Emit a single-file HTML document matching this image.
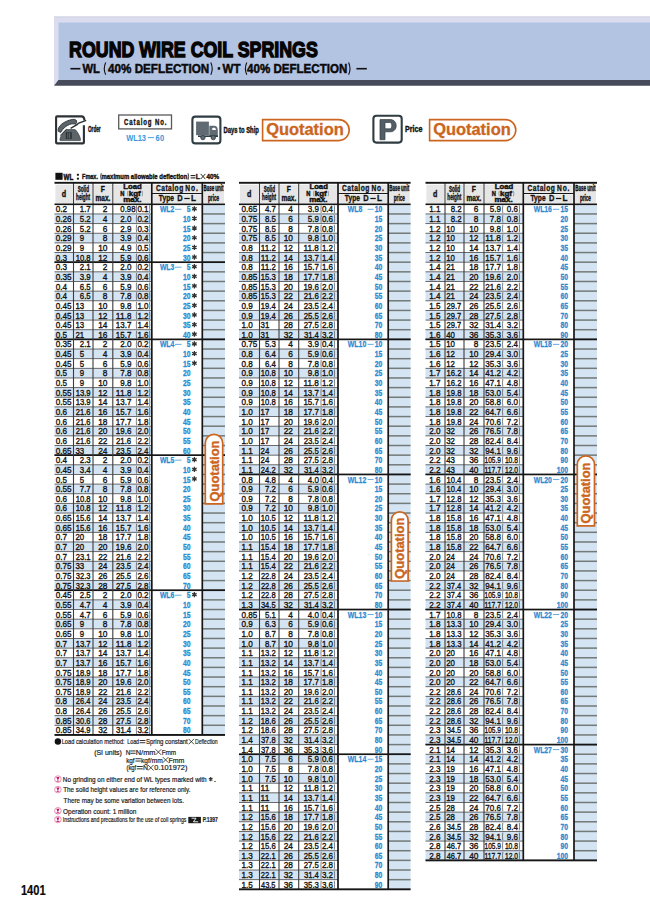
<!DOCTYPE html>
<html><head><meta charset="utf-8"><title>Round Wire Coil Springs</title>
<style>
html,body{margin:0;padding:0;background:#fff;}
body{width:650px;height:918px;overflow:hidden;position:relative;font-family:"Liberation Sans",sans-serif;}
svg{position:absolute;left:0;top:0;display:block;}
text{font-family:"Liberation Sans",sans-serif;}
</style></head><body>
<svg width="650" height="918" viewBox="0 0 650 918" font-family="Liberation Sans, sans-serif">
<polygon points="54,16.5 650,16.5 650,22.3 58.3,22.3 58.3,80 54,85.8" fill="#dcdcef"/>
<rect x="54.00" y="16.50" width="596.00" height="0.90" fill="#cdd1e0"/>
<rect x="58.30" y="22.30" width="591.70" height="57.70" fill="#b3c3e2"/>
<polygon points="58.3,80 650,80 650,85.8 54,85.8" fill="#464a5b"/>
<text x="69.11" y="57.40" font-size="22.00" font-weight="bold" fill="#050505" stroke="#050505" stroke-width="1.40" transform="matrix(0.8087 0 0 1 13.221 0)">ROUND WIRE COIL SPRINGS</text>
<rect x="70.40" y="67.90" width="10.00" height="1.60" fill="#111"/>
<text x="82.39" y="73.40" font-size="13.40" font-weight="bold" fill="#0a0a0a" stroke="#0a0a0a" stroke-width="0.50" transform="matrix(0.8330 0 0 1 13.757 0)">WL</text>
<text x="108.02" y="73.40" font-size="13.40" font-weight="bold" fill="#0a0a0a" stroke="#0a0a0a" stroke-width="0.50" transform="matrix(0.8727 0 0 1 13.751 0)">40% DEFLECTION</text>
<rect x="217.70" y="67.20" width="2.50" height="2.50" fill="#0a0a0a"/>
<text x="222.59" y="73.40" font-size="13.40" font-weight="bold" fill="#0a0a0a" stroke="#0a0a0a" stroke-width="0.50" transform="matrix(0.8609 0 0 1 30.960 0)">WT</text>
<text x="247.02" y="73.40" font-size="13.40" font-weight="bold" fill="#0a0a0a" stroke="#0a0a0a" stroke-width="0.50" transform="matrix(0.8640 0 0 1 33.593 0)">40% DEFLECTION</text>
<rect x="356.40" y="67.90" width="10.40" height="1.60" fill="#111"/>
<path d="M105.70,62.6 Q102.90,68.7 105.70,74.8" stroke="#111" stroke-width="1.1" fill="none"/>
<path d="M210.80,62.6 Q213.60,68.7 210.80,74.8" stroke="#111" stroke-width="1.1" fill="none"/>
<path d="M246.80,62.6 Q244.00,68.7 246.80,74.8" stroke="#111" stroke-width="1.1" fill="none"/>
<path d="M348.60,62.6 Q351.40,68.7 348.60,74.8" stroke="#111" stroke-width="1.1" fill="none"/>
<path d="M84.4,120.6 Q84.4,116.4 81.4,116.4 H57.1 Q56.1,116.4 56.1,117.4 V142.4 Q56.1,143.4 57.1,143.4 H82.9 Q83.9,143.4 83.9,142.4 V125.2" fill="none" stroke="#2b3134" stroke-width="2.1"/>
<path d="M58.2,131.2 C57.2,126.5 63.5,121.2 72.5,119.4 C75.2,119 77.2,120.3 76.6,122.2 L75.6,124.3 C73,122.8 66.5,124.5 62.6,129.6 L60.6,132.4 Z" fill="#5d656b" stroke="#2b3134" stroke-width="0.9"/>
<path d="M60,140.6 H80.4 V138.6 C79.3,134.6 77,131.4 75.2,129.6 H66.2 C63.4,132 61.2,135 60,138.6 Z" fill="#5d656b" stroke="#2b3134" stroke-width="0.6"/>
<path d="M60.2,135.5 L66.5,129.3" stroke="#2b3134" stroke-width="1"/>
<rect x="65.80" y="132.10" width="6.00" height="6.80" fill="#2b3134"/>
<rect x="67.60" y="132.60" width="0.60" height="5.80" fill="#8a9298"/>
<rect x="69.50" y="132.60" width="0.60" height="5.80" fill="#8a9298"/>
<path d="M86.2,120.3 L78.2,123.4 L77.4,124.4 L70.6,128.4" stroke="#2b3134" stroke-width="1.3" fill="none"/>
<text x="88.01" y="132.40" font-size="8.40" font-weight="bold" fill="#111" stroke="#111" stroke-width="0.40" transform="matrix(0.5535 0 0 1 39.296 0)">Order</text>
<rect x="118.7" y="115.0" width="52.8" height="13.9" fill="#fff" stroke="#5a5a5a" stroke-width="1.3"/>
<text x="123.95" y="124.60" font-size="8.40" font-weight="bold" fill="#111" stroke="#111" stroke-width="0.35" transform="matrix(0.7200 0 0 1 34.707 0)" letter-spacing="1.259">Catalog No.</text>
<text x="126.19" y="140.60" font-size="8.80" font-weight="bold" fill="#3797dc" transform="matrix(0.8500 0 0 1 18.929 0)" letter-spacing="-0.028">WL13</text>
<rect x="147.80" y="137.20" width="6.20" height="0.90" fill="#3797dc"/>
<text x="155.53" y="140.60" font-size="8.80" font-weight="bold" fill="#3797dc" transform="matrix(0.8500 0 0 1 23.329 0)" letter-spacing="0.307">60</text>
<rect x="192.4" y="116.6" width="28.0" height="26.8" rx="3" fill="#fff" stroke="#2f3d42" stroke-width="2.1"/>
<g fill="#5f6a72"><rect x="196.1" y="121.6" width="12.8" height="13.6"/><path d="M209.3,125.8 H214.8 Q217.6,126.2 217.8,130 V136 H209.3 Z"/></g>
<path d="M212.2,130 V128.6 Q212.3,127.7 213.5,127.7 H214.6 Q215.8,127.9 216,130 Z" fill="#fff"/>
<rect x="198" y="135.4" width="20" height="1.6" fill="#2f3d42"/>
<circle cx="202.9" cy="137.6" r="2.2" fill="#5f6a72" stroke="#2f3d42" stroke-width="0.8"/>
<circle cx="213.3" cy="137.6" r="2.2" fill="#5f6a72" stroke="#2f3d42" stroke-width="0.8"/>
<text x="223.51" y="133.40" font-size="8.40" font-weight="bold" fill="#111" stroke="#111" stroke-width="0.40" transform="matrix(0.6964 0 0 1 67.851 0)">Days to Ship</text>
<path d="M262.60,119.60 H338.70 A10.50,10.50 0 0 1 338.70,140.60 H262.60 Z" fill="#fff" stroke="#cb6520" stroke-width="1.6"/>
<text x="266.13" y="135.50" font-size="16.40" font-weight="bold" fill="#cb6520" stroke="#cb6520" stroke-width="0.30" transform="matrix(1.0035 0 0 1 -0.921 0)">Quotation</text>
<rect x="373.4" y="115.8" width="28.3" height="26.8" rx="3" fill="#fff" stroke="#2f3d42" stroke-width="2.1"/>
<path fill-rule="evenodd" d="M380,119.6 H390.2 C394,119.6 396.2,122.3 396.2,125.7 C396.2,129.2 393.8,131.8 390.2,131.8 H385 V139.7 H380 Z M385,122.5 V128.8 H389.6 C391.1,128.8 391.8,127.4 391.8,125.7 C391.8,123.9 391.1,122.5 389.6,122.5 Z" fill="#545e66" stroke="#2f3d42" stroke-width="0.7"/>
<text x="405.13" y="131.60" font-size="8.40" font-weight="bold" fill="#111" stroke="#111" stroke-width="0.40" transform="matrix(0.8426 0 0 1 63.747 0)">Price</text>
<path d="M429.60,119.60 H505.30 A10.50,10.50 0 0 1 505.30,140.60 H429.60 Z" fill="#fff" stroke="#cb6520" stroke-width="1.6"/>
<text x="433.13" y="135.50" font-size="16.40" font-weight="bold" fill="#cb6520" stroke="#cb6520" stroke-width="0.30" transform="matrix(1.0035 0 0 1 -1.499 0)">Quotation</text>
<rect x="55.40" y="172.80" width="7.20" height="7.00" fill="#111"/>
<text x="63.59" y="179.60" font-size="9.80" font-weight="bold" fill="#111" stroke="#111" stroke-width="0.60" transform="matrix(0.6432 0 0 1 22.689 0)">WL</text>
<rect x="76.90" y="173.80" width="2.00" height="1.90" fill="#111"/>
<rect x="76.90" y="177.70" width="2.00" height="1.90" fill="#111"/>
<text x="82.03" y="179.40" font-size="7.60" font-weight="bold" fill="#111" stroke="#111" stroke-width="0.40" transform="matrix(0.7261 0 0 1 22.467 0)">Fmax.</text>
<path d="M101.3,173.2 q-1.3,3.2 0,6.6 M188.0,173.2 q1.3,3.2 0,6.6" stroke="#111" stroke-width="0.8" fill="none"/>
<text x="101.51" y="179.40" font-size="7.60" font-weight="bold" fill="#111" stroke="#111" stroke-width="0.40" transform="matrix(0.7828 0 0 1 22.043 0)">maximum allowable deflection</text>
<rect x="190.60" y="175.10" width="4.80" height="1.00" fill="#111"/>
<rect x="190.60" y="177.40" width="4.80" height="1.00" fill="#111"/>
<text x="195.64" y="179.40" font-size="7.60" font-weight="bold" fill="#111" stroke="#111" stroke-width="0.40" transform="matrix(0.8974 0 0 1 20.075 0)">L</text>
<path d="M200.6,173.9 L205.4,179.1 M200.6,179.1 L205.4,173.9" stroke="#111" stroke-width="0.9"/>
<text x="206.40" y="179.40" font-size="7.60" font-weight="bold" fill="#111" stroke="#111" stroke-width="0.40" transform="matrix(0.8392 0 0 1 33.196 0)">40%</text>
<rect x="55.40" y="184.70" width="17.20" height="18.70" fill="#e6e6e6"/>
<rect x="74.40" y="184.70" width="17.70" height="18.70" fill="#e6e6e6"/>
<rect x="93.90" y="184.70" width="18.00" height="18.70" fill="#e6e6e6"/>
<rect x="113.70" y="184.70" width="37.20" height="18.70" fill="#e6e6e6"/>
<rect x="203.20" y="184.70" width="20.90" height="18.70" fill="#e6e6e6"/>
<rect x="153.00" y="184.70" width="48.10" height="8.10" fill="#e6e6e6"/>
<rect x="153.00" y="194.40" width="48.10" height="8.90" fill="#e6e6e6"/>
<rect x="202.30" y="204.30" width="22.70" height="9.65" fill="#d4e4f3"/>
<rect x="54.50" y="213.95" width="97.30" height="9.65" fill="#d4e4f3"/>
<rect x="202.30" y="213.95" width="22.70" height="9.65" fill="#d4e4f3"/>
<rect x="202.30" y="223.60" width="22.70" height="9.65" fill="#d4e4f3"/>
<rect x="54.50" y="233.24" width="97.30" height="9.65" fill="#d4e4f3"/>
<rect x="202.30" y="233.24" width="22.70" height="9.65" fill="#d4e4f3"/>
<rect x="202.30" y="242.89" width="22.70" height="9.65" fill="#d4e4f3"/>
<rect x="54.50" y="252.54" width="97.30" height="9.65" fill="#d4e4f3"/>
<rect x="202.30" y="252.54" width="22.70" height="9.65" fill="#d4e4f3"/>
<rect x="202.30" y="262.19" width="22.70" height="9.65" fill="#d4e4f3"/>
<rect x="54.50" y="271.84" width="97.30" height="9.65" fill="#d4e4f3"/>
<rect x="202.30" y="271.84" width="22.70" height="9.65" fill="#d4e4f3"/>
<rect x="202.30" y="281.48" width="22.70" height="9.65" fill="#d4e4f3"/>
<rect x="54.50" y="291.13" width="97.30" height="9.65" fill="#d4e4f3"/>
<rect x="202.30" y="291.13" width="22.70" height="9.65" fill="#d4e4f3"/>
<rect x="202.30" y="300.78" width="22.70" height="9.65" fill="#d4e4f3"/>
<rect x="54.50" y="310.43" width="97.30" height="9.65" fill="#d4e4f3"/>
<rect x="202.30" y="310.43" width="22.70" height="9.65" fill="#d4e4f3"/>
<rect x="202.30" y="320.08" width="22.70" height="9.65" fill="#d4e4f3"/>
<rect x="54.50" y="329.72" width="97.30" height="9.65" fill="#d4e4f3"/>
<rect x="202.30" y="329.72" width="22.70" height="9.65" fill="#d4e4f3"/>
<rect x="202.30" y="339.37" width="22.70" height="9.65" fill="#d4e4f3"/>
<rect x="54.50" y="349.02" width="97.30" height="9.65" fill="#d4e4f3"/>
<rect x="202.30" y="349.02" width="22.70" height="9.65" fill="#d4e4f3"/>
<rect x="202.30" y="358.67" width="22.70" height="9.65" fill="#d4e4f3"/>
<rect x="54.50" y="368.32" width="97.30" height="9.65" fill="#d4e4f3"/>
<rect x="202.30" y="368.32" width="22.70" height="9.65" fill="#d4e4f3"/>
<rect x="202.30" y="377.96" width="22.70" height="9.65" fill="#d4e4f3"/>
<rect x="54.50" y="387.61" width="97.30" height="9.65" fill="#d4e4f3"/>
<rect x="202.30" y="387.61" width="22.70" height="9.65" fill="#d4e4f3"/>
<rect x="202.30" y="397.26" width="22.70" height="9.65" fill="#d4e4f3"/>
<rect x="54.50" y="406.91" width="97.30" height="9.65" fill="#d4e4f3"/>
<rect x="202.30" y="406.91" width="22.70" height="9.65" fill="#d4e4f3"/>
<rect x="202.30" y="416.56" width="22.70" height="9.65" fill="#d4e4f3"/>
<rect x="54.50" y="426.20" width="97.30" height="9.65" fill="#d4e4f3"/>
<rect x="202.30" y="426.20" width="22.70" height="9.65" fill="#d4e4f3"/>
<rect x="202.30" y="435.85" width="22.70" height="9.65" fill="#d4e4f3"/>
<rect x="54.50" y="445.50" width="97.30" height="9.65" fill="#d4e4f3"/>
<rect x="202.30" y="445.50" width="22.70" height="9.65" fill="#d4e4f3"/>
<rect x="202.30" y="455.15" width="22.70" height="9.65" fill="#d4e4f3"/>
<rect x="54.50" y="464.80" width="97.30" height="9.65" fill="#d4e4f3"/>
<rect x="202.30" y="464.80" width="22.70" height="9.65" fill="#d4e4f3"/>
<rect x="202.30" y="474.44" width="22.70" height="9.65" fill="#d4e4f3"/>
<rect x="54.50" y="484.09" width="97.30" height="9.65" fill="#d4e4f3"/>
<rect x="202.30" y="484.09" width="22.70" height="9.65" fill="#d4e4f3"/>
<rect x="202.30" y="493.74" width="22.70" height="9.65" fill="#d4e4f3"/>
<rect x="54.50" y="503.39" width="97.30" height="9.65" fill="#d4e4f3"/>
<rect x="202.30" y="503.39" width="22.70" height="9.65" fill="#d4e4f3"/>
<rect x="202.30" y="513.04" width="22.70" height="9.65" fill="#d4e4f3"/>
<rect x="54.50" y="522.68" width="97.30" height="9.65" fill="#d4e4f3"/>
<rect x="202.30" y="522.68" width="22.70" height="9.65" fill="#d4e4f3"/>
<rect x="202.30" y="532.33" width="22.70" height="9.65" fill="#d4e4f3"/>
<rect x="54.50" y="541.98" width="97.30" height="9.65" fill="#d4e4f3"/>
<rect x="202.30" y="541.98" width="22.70" height="9.65" fill="#d4e4f3"/>
<rect x="202.30" y="551.63" width="22.70" height="9.65" fill="#d4e4f3"/>
<rect x="54.50" y="561.28" width="97.30" height="9.65" fill="#d4e4f3"/>
<rect x="202.30" y="561.28" width="22.70" height="9.65" fill="#d4e4f3"/>
<rect x="202.30" y="570.92" width="22.70" height="9.65" fill="#d4e4f3"/>
<rect x="54.50" y="580.57" width="97.30" height="9.65" fill="#d4e4f3"/>
<rect x="202.30" y="580.57" width="22.70" height="9.65" fill="#d4e4f3"/>
<rect x="202.30" y="590.22" width="22.70" height="9.65" fill="#d4e4f3"/>
<rect x="54.50" y="599.87" width="97.30" height="9.65" fill="#d4e4f3"/>
<rect x="202.30" y="599.87" width="22.70" height="9.65" fill="#d4e4f3"/>
<rect x="202.30" y="609.52" width="22.70" height="9.65" fill="#d4e4f3"/>
<rect x="54.50" y="619.16" width="97.30" height="9.65" fill="#d4e4f3"/>
<rect x="202.30" y="619.16" width="22.70" height="9.65" fill="#d4e4f3"/>
<rect x="202.30" y="628.81" width="22.70" height="9.65" fill="#d4e4f3"/>
<rect x="54.50" y="638.46" width="97.30" height="9.65" fill="#d4e4f3"/>
<rect x="202.30" y="638.46" width="22.70" height="9.65" fill="#d4e4f3"/>
<rect x="202.30" y="648.11" width="22.70" height="9.65" fill="#d4e4f3"/>
<rect x="54.50" y="657.76" width="97.30" height="9.65" fill="#d4e4f3"/>
<rect x="202.30" y="657.76" width="22.70" height="9.65" fill="#d4e4f3"/>
<rect x="202.30" y="667.40" width="22.70" height="9.65" fill="#d4e4f3"/>
<rect x="54.50" y="677.05" width="97.30" height="9.65" fill="#d4e4f3"/>
<rect x="202.30" y="677.05" width="22.70" height="9.65" fill="#d4e4f3"/>
<rect x="202.30" y="686.70" width="22.70" height="9.65" fill="#d4e4f3"/>
<rect x="54.50" y="696.35" width="97.30" height="9.65" fill="#d4e4f3"/>
<rect x="202.30" y="696.35" width="22.70" height="9.65" fill="#d4e4f3"/>
<rect x="202.30" y="706.00" width="22.70" height="9.65" fill="#d4e4f3"/>
<rect x="54.50" y="715.64" width="97.30" height="9.65" fill="#d4e4f3"/>
<rect x="202.30" y="715.64" width="22.70" height="9.65" fill="#d4e4f3"/>
<rect x="202.30" y="725.29" width="22.70" height="9.65" fill="#d4e4f3"/>
<rect x="54.50" y="213.50" width="97.30" height="0.90" fill="#5a5a5a"/>
<rect x="202.30" y="213.20" width="22.70" height="1.50" fill="#737a77"/>
<rect x="54.50" y="223.15" width="97.30" height="0.90" fill="#5a5a5a"/>
<rect x="202.30" y="222.85" width="22.70" height="1.50" fill="#737a77"/>
<rect x="54.50" y="232.79" width="97.30" height="0.90" fill="#5a5a5a"/>
<rect x="202.30" y="232.49" width="22.70" height="1.50" fill="#737a77"/>
<rect x="54.50" y="242.44" width="97.30" height="0.90" fill="#5a5a5a"/>
<rect x="202.30" y="242.14" width="22.70" height="1.50" fill="#737a77"/>
<rect x="54.50" y="252.09" width="97.30" height="0.90" fill="#5a5a5a"/>
<rect x="202.30" y="251.79" width="22.70" height="1.50" fill="#737a77"/>
<rect x="54.50" y="261.74" width="97.30" height="0.90" fill="#5a5a5a"/>
<rect x="202.30" y="261.44" width="22.70" height="1.50" fill="#737a77"/>
<rect x="54.50" y="271.39" width="97.30" height="0.90" fill="#5a5a5a"/>
<rect x="202.30" y="271.09" width="22.70" height="1.50" fill="#737a77"/>
<rect x="54.50" y="281.03" width="97.30" height="0.90" fill="#5a5a5a"/>
<rect x="202.30" y="280.73" width="22.70" height="1.50" fill="#737a77"/>
<rect x="54.50" y="290.68" width="97.30" height="0.90" fill="#5a5a5a"/>
<rect x="202.30" y="290.38" width="22.70" height="1.50" fill="#737a77"/>
<rect x="54.50" y="300.33" width="97.30" height="0.90" fill="#5a5a5a"/>
<rect x="202.30" y="300.03" width="22.70" height="1.50" fill="#737a77"/>
<rect x="54.50" y="309.98" width="97.30" height="0.90" fill="#5a5a5a"/>
<rect x="202.30" y="309.68" width="22.70" height="1.50" fill="#737a77"/>
<rect x="54.50" y="319.63" width="97.30" height="0.90" fill="#5a5a5a"/>
<rect x="202.30" y="319.33" width="22.70" height="1.50" fill="#737a77"/>
<rect x="54.50" y="329.27" width="97.30" height="0.90" fill="#5a5a5a"/>
<rect x="202.30" y="328.97" width="22.70" height="1.50" fill="#737a77"/>
<rect x="54.50" y="338.92" width="97.30" height="0.90" fill="#5a5a5a"/>
<rect x="202.30" y="338.62" width="22.70" height="1.50" fill="#737a77"/>
<rect x="54.50" y="348.57" width="97.30" height="0.90" fill="#5a5a5a"/>
<rect x="202.30" y="348.27" width="22.70" height="1.50" fill="#737a77"/>
<rect x="54.50" y="358.22" width="97.30" height="0.90" fill="#5a5a5a"/>
<rect x="202.30" y="357.92" width="22.70" height="1.50" fill="#737a77"/>
<rect x="54.50" y="367.87" width="97.30" height="0.90" fill="#5a5a5a"/>
<rect x="202.30" y="367.57" width="22.70" height="1.50" fill="#737a77"/>
<rect x="54.50" y="377.51" width="97.30" height="0.90" fill="#5a5a5a"/>
<rect x="202.30" y="377.21" width="22.70" height="1.50" fill="#737a77"/>
<rect x="54.50" y="387.16" width="97.30" height="0.90" fill="#5a5a5a"/>
<rect x="202.30" y="386.86" width="22.70" height="1.50" fill="#737a77"/>
<rect x="54.50" y="396.81" width="97.30" height="0.90" fill="#5a5a5a"/>
<rect x="202.30" y="396.51" width="22.70" height="1.50" fill="#737a77"/>
<rect x="54.50" y="406.46" width="97.30" height="0.90" fill="#5a5a5a"/>
<rect x="202.30" y="406.16" width="22.70" height="1.50" fill="#737a77"/>
<rect x="54.50" y="416.11" width="97.30" height="0.90" fill="#5a5a5a"/>
<rect x="202.30" y="415.81" width="22.70" height="1.50" fill="#737a77"/>
<rect x="54.50" y="425.75" width="97.30" height="0.90" fill="#5a5a5a"/>
<rect x="202.30" y="425.45" width="22.70" height="1.50" fill="#737a77"/>
<rect x="54.50" y="435.40" width="97.30" height="0.90" fill="#5a5a5a"/>
<rect x="202.30" y="435.10" width="22.70" height="1.50" fill="#737a77"/>
<rect x="54.50" y="445.05" width="97.30" height="0.90" fill="#5a5a5a"/>
<rect x="202.30" y="444.75" width="22.70" height="1.50" fill="#737a77"/>
<rect x="54.50" y="454.70" width="97.30" height="0.90" fill="#5a5a5a"/>
<rect x="202.30" y="454.40" width="22.70" height="1.50" fill="#737a77"/>
<rect x="54.50" y="464.35" width="97.30" height="0.90" fill="#5a5a5a"/>
<rect x="202.30" y="464.05" width="22.70" height="1.50" fill="#737a77"/>
<rect x="54.50" y="473.99" width="97.30" height="0.90" fill="#5a5a5a"/>
<rect x="202.30" y="473.69" width="22.70" height="1.50" fill="#737a77"/>
<rect x="54.50" y="483.64" width="97.30" height="0.90" fill="#5a5a5a"/>
<rect x="202.30" y="483.34" width="22.70" height="1.50" fill="#737a77"/>
<rect x="54.50" y="493.29" width="97.30" height="0.90" fill="#5a5a5a"/>
<rect x="202.30" y="492.99" width="22.70" height="1.50" fill="#737a77"/>
<rect x="54.50" y="502.94" width="97.30" height="0.90" fill="#5a5a5a"/>
<rect x="202.30" y="502.64" width="22.70" height="1.50" fill="#737a77"/>
<rect x="54.50" y="512.59" width="97.30" height="0.90" fill="#5a5a5a"/>
<rect x="202.30" y="512.29" width="22.70" height="1.50" fill="#737a77"/>
<rect x="54.50" y="522.23" width="97.30" height="0.90" fill="#5a5a5a"/>
<rect x="202.30" y="521.93" width="22.70" height="1.50" fill="#737a77"/>
<rect x="54.50" y="531.88" width="97.30" height="0.90" fill="#5a5a5a"/>
<rect x="202.30" y="531.58" width="22.70" height="1.50" fill="#737a77"/>
<rect x="54.50" y="541.53" width="97.30" height="0.90" fill="#5a5a5a"/>
<rect x="202.30" y="541.23" width="22.70" height="1.50" fill="#737a77"/>
<rect x="54.50" y="551.18" width="97.30" height="0.90" fill="#5a5a5a"/>
<rect x="202.30" y="550.88" width="22.70" height="1.50" fill="#737a77"/>
<rect x="54.50" y="560.83" width="97.30" height="0.90" fill="#5a5a5a"/>
<rect x="202.30" y="560.53" width="22.70" height="1.50" fill="#737a77"/>
<rect x="54.50" y="570.47" width="97.30" height="0.90" fill="#5a5a5a"/>
<rect x="202.30" y="570.17" width="22.70" height="1.50" fill="#737a77"/>
<rect x="54.50" y="580.12" width="97.30" height="0.90" fill="#5a5a5a"/>
<rect x="202.30" y="579.82" width="22.70" height="1.50" fill="#737a77"/>
<rect x="54.50" y="589.77" width="97.30" height="0.90" fill="#5a5a5a"/>
<rect x="202.30" y="589.47" width="22.70" height="1.50" fill="#737a77"/>
<rect x="54.50" y="599.42" width="97.30" height="0.90" fill="#5a5a5a"/>
<rect x="202.30" y="599.12" width="22.70" height="1.50" fill="#737a77"/>
<rect x="54.50" y="609.07" width="97.30" height="0.90" fill="#5a5a5a"/>
<rect x="202.30" y="608.77" width="22.70" height="1.50" fill="#737a77"/>
<rect x="54.50" y="618.71" width="97.30" height="0.90" fill="#5a5a5a"/>
<rect x="202.30" y="618.41" width="22.70" height="1.50" fill="#737a77"/>
<rect x="54.50" y="628.36" width="97.30" height="0.90" fill="#5a5a5a"/>
<rect x="202.30" y="628.06" width="22.70" height="1.50" fill="#737a77"/>
<rect x="54.50" y="638.01" width="97.30" height="0.90" fill="#5a5a5a"/>
<rect x="202.30" y="637.71" width="22.70" height="1.50" fill="#737a77"/>
<rect x="54.50" y="647.66" width="97.30" height="0.90" fill="#5a5a5a"/>
<rect x="202.30" y="647.36" width="22.70" height="1.50" fill="#737a77"/>
<rect x="54.50" y="657.31" width="97.30" height="0.90" fill="#5a5a5a"/>
<rect x="202.30" y="657.01" width="22.70" height="1.50" fill="#737a77"/>
<rect x="54.50" y="666.95" width="97.30" height="0.90" fill="#5a5a5a"/>
<rect x="202.30" y="666.65" width="22.70" height="1.50" fill="#737a77"/>
<rect x="54.50" y="676.60" width="97.30" height="0.90" fill="#5a5a5a"/>
<rect x="202.30" y="676.30" width="22.70" height="1.50" fill="#737a77"/>
<rect x="54.50" y="686.25" width="97.30" height="0.90" fill="#5a5a5a"/>
<rect x="202.30" y="685.95" width="22.70" height="1.50" fill="#737a77"/>
<rect x="54.50" y="695.90" width="97.30" height="0.90" fill="#5a5a5a"/>
<rect x="202.30" y="695.60" width="22.70" height="1.50" fill="#737a77"/>
<rect x="54.50" y="705.55" width="97.30" height="0.90" fill="#5a5a5a"/>
<rect x="202.30" y="705.25" width="22.70" height="1.50" fill="#737a77"/>
<rect x="54.50" y="715.19" width="97.30" height="0.90" fill="#5a5a5a"/>
<rect x="202.30" y="714.89" width="22.70" height="1.50" fill="#737a77"/>
<rect x="54.50" y="724.84" width="97.30" height="0.90" fill="#5a5a5a"/>
<rect x="202.30" y="724.54" width="22.70" height="1.50" fill="#737a77"/>
<rect x="54.50" y="261.34" width="170.50" height="1.70" fill="#161616"/>
<rect x="54.50" y="338.52" width="170.50" height="1.70" fill="#161616"/>
<rect x="54.50" y="454.30" width="170.50" height="1.70" fill="#161616"/>
<rect x="54.50" y="589.37" width="170.50" height="1.70" fill="#161616"/>
<rect x="72.95" y="182.80" width="1.10" height="552.14" fill="#3c3c3c"/>
<rect x="92.45" y="182.80" width="1.10" height="552.14" fill="#3c3c3c"/>
<rect x="112.25" y="182.80" width="1.10" height="552.14" fill="#3c3c3c"/>
<rect x="150.95" y="182.80" width="1.70" height="552.14" fill="#161616"/>
<rect x="201.45" y="182.80" width="1.70" height="552.14" fill="#161616"/>
<rect x="54.50" y="181.85" width="170.50" height="1.90" fill="#161616"/>
<rect x="54.50" y="203.50" width="170.50" height="1.60" fill="#161616"/>
<rect x="151.80" y="193.00" width="50.50" height="1.00" fill="#161616"/>
<rect x="54.50" y="733.99" width="170.50" height="1.90" fill="#161616"/>
<text x="61.81" y="196.80" font-size="9.80" font-weight="bold" fill="#111" stroke="#111" stroke-width="0.40" transform="matrix(0.7290 0 0 1 16.750 0)">d</text>
<text x="77.72" y="191.60" font-size="9.20" font-weight="bold" fill="#111" stroke="#111" stroke-width="0.40" transform="matrix(0.4996 0 0 1 38.888 0)">Solid</text>
<text x="76.12" y="199.60" font-size="9.20" font-weight="bold" fill="#111" stroke="#111" stroke-width="0.40" transform="matrix(0.5067 0 0 1 37.553 0)">height</text>
<text x="100.75" y="192.30" font-size="8.20" font-weight="bold" fill="#111" stroke="#111" stroke-width="0.40" transform="matrix(0.8173 0 0 1 18.408 0)">F</text>
<text x="95.47" y="200.90" font-size="9.40" font-weight="bold" fill="#111" stroke="#111" stroke-width="0.40" transform="matrix(0.6945 0 0 1 29.167 0)">max.</text>
<text x="123.38" y="189.40" font-size="6.50" font-weight="bold" fill="#111" stroke="#111" stroke-width="0.40" transform="matrix(1.1867 0 0 1 -23.030 0)">Load</text>
<text x="120.31" y="195.80" font-size="6.50" font-weight="bold" fill="#111" stroke="#111" stroke-width="0.40" transform="matrix(0.8898 0 0 1 13.264 0)">N</text>
<text x="128.74" y="195.60" font-size="6.30" font-weight="bold" fill="#111" stroke="#111" stroke-width="0.40" transform="matrix(1.2635 0 0 1 -33.927 0)">kgf</text>
<path d="M127.90,190.9 q-0.8,2.6 0,5.4 M142.10,190.9 q0.8,2.6 0,5.4" stroke="#777" stroke-width="0.7" fill="none"/>
<text x="123.17" y="201.60" font-size="6.50" font-weight="bold" fill="#111" stroke="#111" stroke-width="0.40" transform="matrix(1.2339 0 0 1 -28.811 0)">max.</text>
<text x="155.93" y="190.90" font-size="8.30" font-weight="bold" fill="#111" stroke="#111" stroke-width="0.30" transform="matrix(0.8000 0 0 1 31.186 0)" letter-spacing="0.618">Catalog</text>
<text x="185.36" y="190.90" font-size="8.30" font-weight="bold" fill="#111" stroke="#111" stroke-width="0.30" transform="matrix(0.8000 0 0 1 37.071 0)" letter-spacing="1.128">No.</text>
<text x="158.83" y="201.20" font-size="8.30" font-weight="bold" fill="#111" stroke="#111" stroke-width="0.30" transform="matrix(0.8000 0 0 1 31.765 0)" letter-spacing="0.085">Type</text>
<text x="177.30" y="201.20" font-size="8.30" font-weight="bold" fill="#111" stroke="#111" stroke-width="0.30" transform="matrix(0.9037 0 0 1 17.075 0)">D</text>
<rect x="184.30" y="197.90" width="5.40" height="1.20" fill="#111"/>
<text x="191.05" y="201.20" font-size="8.30" font-weight="bold" fill="#111" stroke="#111" stroke-width="0.30" transform="matrix(0.9860 0 0 1 2.665 0)">L</text>
<text x="203.45" y="191.50" font-size="9.00" font-weight="bold" fill="#111" stroke="#111" stroke-width="0.40" transform="matrix(0.4975 0 0 1 102.228 0)">Base unit</text>
<text x="208.04" y="201.00" font-size="9.00" font-weight="bold" fill="#111" stroke="#111" stroke-width="0.40" transform="matrix(0.5143 0 0 1 101.046 0)">price</text>
<g font-size="9.80" fill="#141414" stroke="#141414" stroke-width="0.38">
<text x="55.70" y="212.40" textLength="11.31" lengthAdjust="spacingAndGlyphs">0.2</text>
<text x="84.20" y="212.40" textLength="6.54" lengthAdjust="spacingAndGlyphs">.7</text>
<text x="124.70" y="212.40" textLength="10.82" lengthAdjust="spacingAndGlyphs">.98</text>
<text x="137.40" y="212.40" textLength="11.17" lengthAdjust="spacingAndGlyphs">0.1</text>
<text x="55.70" y="222.05" textLength="15.83" lengthAdjust="spacingAndGlyphs">0.26</text>
<text x="84.20" y="222.05" textLength="6.54" lengthAdjust="spacingAndGlyphs">.2</text>
<text x="124.70" y="222.05" textLength="6.70" lengthAdjust="spacingAndGlyphs">.0</text>
<text x="137.40" y="222.05" textLength="11.17" lengthAdjust="spacingAndGlyphs">0.2</text>
<text x="55.70" y="231.70" textLength="15.83" lengthAdjust="spacingAndGlyphs">0.26</text>
<text x="84.20" y="231.70" textLength="6.54" lengthAdjust="spacingAndGlyphs">.2</text>
<text x="124.70" y="231.70" textLength="6.70" lengthAdjust="spacingAndGlyphs">.9</text>
<text x="137.40" y="231.70" textLength="11.17" lengthAdjust="spacingAndGlyphs">0.3</text>
<text x="55.70" y="241.34" textLength="15.83" lengthAdjust="spacingAndGlyphs">0.29</text>
<text x="124.70" y="241.34" textLength="6.70" lengthAdjust="spacingAndGlyphs">.9</text>
<text x="137.40" y="241.34" textLength="11.04" lengthAdjust="spacingAndGlyphs">0.4</text>
<text x="55.70" y="250.99" textLength="15.83" lengthAdjust="spacingAndGlyphs">0.29</text>
<text x="124.70" y="250.99" textLength="6.70" lengthAdjust="spacingAndGlyphs">.9</text>
<text x="137.40" y="250.99" textLength="11.15" lengthAdjust="spacingAndGlyphs">0.5</text>
<text x="55.70" y="260.64" textLength="11.31" lengthAdjust="spacingAndGlyphs">0.3</text>
<text x="84.20" y="260.64" textLength="6.39" lengthAdjust="spacingAndGlyphs">.8</text>
<text x="124.70" y="260.64" textLength="6.70" lengthAdjust="spacingAndGlyphs">.9</text>
<text x="137.40" y="260.64" textLength="11.17" lengthAdjust="spacingAndGlyphs">0.6</text>
<text x="55.70" y="270.29" textLength="11.31" lengthAdjust="spacingAndGlyphs">0.3</text>
<text x="84.20" y="270.29" textLength="6.54" lengthAdjust="spacingAndGlyphs">.1</text>
<text x="124.70" y="270.29" textLength="6.70" lengthAdjust="spacingAndGlyphs">.0</text>
<text x="137.40" y="270.29" textLength="11.17" lengthAdjust="spacingAndGlyphs">0.2</text>
<text x="55.70" y="279.94" textLength="15.83" lengthAdjust="spacingAndGlyphs">0.35</text>
<text x="84.20" y="279.94" textLength="6.54" lengthAdjust="spacingAndGlyphs">.9</text>
<text x="124.70" y="279.94" textLength="6.70" lengthAdjust="spacingAndGlyphs">.9</text>
<text x="137.40" y="279.94" textLength="11.04" lengthAdjust="spacingAndGlyphs">0.4</text>
<text x="55.70" y="289.58" textLength="11.31" lengthAdjust="spacingAndGlyphs">0.4</text>
<text x="84.20" y="289.58" textLength="6.54" lengthAdjust="spacingAndGlyphs">.5</text>
<text x="124.70" y="289.58" textLength="6.70" lengthAdjust="spacingAndGlyphs">.9</text>
<text x="137.40" y="289.58" textLength="11.17" lengthAdjust="spacingAndGlyphs">0.6</text>
<text x="55.70" y="299.23" textLength="11.31" lengthAdjust="spacingAndGlyphs">0.4</text>
<text x="84.20" y="299.23" textLength="6.54" lengthAdjust="spacingAndGlyphs">.5</text>
<text x="124.70" y="299.23" textLength="6.70" lengthAdjust="spacingAndGlyphs">.8</text>
<text x="137.40" y="299.23" textLength="11.16" lengthAdjust="spacingAndGlyphs">0.8</text>
<text x="55.70" y="308.88" textLength="15.83" lengthAdjust="spacingAndGlyphs">0.45</text>
<text x="124.70" y="308.88" textLength="6.70" lengthAdjust="spacingAndGlyphs">.8</text>
<text x="137.40" y="308.88" textLength="11.17" lengthAdjust="spacingAndGlyphs">1.0</text>
<text x="55.70" y="318.53" textLength="15.83" lengthAdjust="spacingAndGlyphs">0.45</text>
<text x="124.70" y="318.53" textLength="6.62" lengthAdjust="spacingAndGlyphs">.8</text>
<text x="137.40" y="318.53" textLength="11.17" lengthAdjust="spacingAndGlyphs">1.2</text>
<text x="55.70" y="328.18" textLength="15.83" lengthAdjust="spacingAndGlyphs">0.45</text>
<text x="124.70" y="328.18" textLength="6.65" lengthAdjust="spacingAndGlyphs">.7</text>
<text x="137.40" y="328.18" textLength="11.17" lengthAdjust="spacingAndGlyphs">1.4</text>
<text x="55.70" y="337.82" textLength="11.31" lengthAdjust="spacingAndGlyphs">0.5</text>
<text x="124.70" y="337.82" textLength="6.65" lengthAdjust="spacingAndGlyphs">.7</text>
<text x="137.40" y="337.82" textLength="11.17" lengthAdjust="spacingAndGlyphs">1.6</text>
<text x="55.70" y="347.47" textLength="15.83" lengthAdjust="spacingAndGlyphs">0.35</text>
<text x="84.20" y="347.47" textLength="6.54" lengthAdjust="spacingAndGlyphs">.1</text>
<text x="124.70" y="347.47" textLength="6.70" lengthAdjust="spacingAndGlyphs">.0</text>
<text x="137.40" y="347.47" textLength="11.17" lengthAdjust="spacingAndGlyphs">0.2</text>
<text x="55.70" y="357.12" textLength="15.83" lengthAdjust="spacingAndGlyphs">0.45</text>
<text x="124.70" y="357.12" textLength="6.70" lengthAdjust="spacingAndGlyphs">.9</text>
<text x="137.40" y="357.12" textLength="11.04" lengthAdjust="spacingAndGlyphs">0.4</text>
<text x="55.70" y="366.77" textLength="15.83" lengthAdjust="spacingAndGlyphs">0.45</text>
<text x="124.70" y="366.77" textLength="6.70" lengthAdjust="spacingAndGlyphs">.9</text>
<text x="137.40" y="366.77" textLength="11.17" lengthAdjust="spacingAndGlyphs">0.6</text>
<text x="55.70" y="376.42" textLength="11.31" lengthAdjust="spacingAndGlyphs">0.5</text>
<text x="124.70" y="376.42" textLength="6.70" lengthAdjust="spacingAndGlyphs">.8</text>
<text x="137.40" y="376.42" textLength="11.16" lengthAdjust="spacingAndGlyphs">0.8</text>
<text x="55.70" y="386.06" textLength="11.31" lengthAdjust="spacingAndGlyphs">0.5</text>
<text x="124.70" y="386.06" textLength="6.70" lengthAdjust="spacingAndGlyphs">.8</text>
<text x="137.40" y="386.06" textLength="11.17" lengthAdjust="spacingAndGlyphs">1.0</text>
<text x="55.70" y="395.71" textLength="15.83" lengthAdjust="spacingAndGlyphs">0.55</text>
<text x="84.20" y="395.71" textLength="6.41" lengthAdjust="spacingAndGlyphs">.9</text>
<text x="124.70" y="395.71" textLength="6.62" lengthAdjust="spacingAndGlyphs">.8</text>
<text x="137.40" y="395.71" textLength="11.17" lengthAdjust="spacingAndGlyphs">1.2</text>
<text x="55.70" y="405.36" textLength="15.83" lengthAdjust="spacingAndGlyphs">0.55</text>
<text x="84.20" y="405.36" textLength="6.41" lengthAdjust="spacingAndGlyphs">.9</text>
<text x="124.70" y="405.36" textLength="6.65" lengthAdjust="spacingAndGlyphs">.7</text>
<text x="137.40" y="405.36" textLength="11.17" lengthAdjust="spacingAndGlyphs">1.4</text>
<text x="55.70" y="415.01" textLength="11.31" lengthAdjust="spacingAndGlyphs">0.6</text>
<text x="84.20" y="415.01" textLength="6.30" lengthAdjust="spacingAndGlyphs">.6</text>
<text x="124.70" y="415.01" textLength="6.65" lengthAdjust="spacingAndGlyphs">.7</text>
<text x="137.40" y="415.01" textLength="11.17" lengthAdjust="spacingAndGlyphs">1.6</text>
<text x="55.70" y="424.66" textLength="11.31" lengthAdjust="spacingAndGlyphs">0.6</text>
<text x="84.20" y="424.66" textLength="6.30" lengthAdjust="spacingAndGlyphs">.6</text>
<text x="124.70" y="424.66" textLength="6.65" lengthAdjust="spacingAndGlyphs">.7</text>
<text x="137.40" y="424.66" textLength="11.17" lengthAdjust="spacingAndGlyphs">1.8</text>
<text x="55.70" y="434.30" textLength="11.31" lengthAdjust="spacingAndGlyphs">0.6</text>
<text x="84.20" y="434.30" textLength="6.30" lengthAdjust="spacingAndGlyphs">.6</text>
<text x="124.70" y="434.30" textLength="6.62" lengthAdjust="spacingAndGlyphs">.6</text>
<text x="137.40" y="434.30" textLength="11.17" lengthAdjust="spacingAndGlyphs">2.0</text>
<text x="55.70" y="443.95" textLength="11.31" lengthAdjust="spacingAndGlyphs">0.6</text>
<text x="84.20" y="443.95" textLength="6.30" lengthAdjust="spacingAndGlyphs">.6</text>
<text x="124.70" y="443.95" textLength="6.53" lengthAdjust="spacingAndGlyphs">.6</text>
<text x="137.40" y="443.95" textLength="11.17" lengthAdjust="spacingAndGlyphs">2.2</text>
<text x="55.70" y="453.60" textLength="15.83" lengthAdjust="spacingAndGlyphs">0.65</text>
<text x="124.70" y="453.60" textLength="6.52" lengthAdjust="spacingAndGlyphs">.5</text>
<text x="137.40" y="453.60" textLength="11.14" lengthAdjust="spacingAndGlyphs">2.4</text>
<text x="55.70" y="463.25" textLength="11.31" lengthAdjust="spacingAndGlyphs">0.4</text>
<text x="84.20" y="463.25" textLength="6.54" lengthAdjust="spacingAndGlyphs">.3</text>
<text x="124.70" y="463.25" textLength="6.70" lengthAdjust="spacingAndGlyphs">.0</text>
<text x="137.40" y="463.25" textLength="11.17" lengthAdjust="spacingAndGlyphs">0.2</text>
<text x="55.70" y="472.90" textLength="15.83" lengthAdjust="spacingAndGlyphs">0.45</text>
<text x="84.20" y="472.90" textLength="6.54" lengthAdjust="spacingAndGlyphs">.4</text>
<text x="124.70" y="472.90" textLength="6.70" lengthAdjust="spacingAndGlyphs">.9</text>
<text x="137.40" y="472.90" textLength="11.04" lengthAdjust="spacingAndGlyphs">0.4</text>
<text x="55.70" y="482.54" textLength="11.31" lengthAdjust="spacingAndGlyphs">0.5</text>
<text x="124.70" y="482.54" textLength="6.70" lengthAdjust="spacingAndGlyphs">.9</text>
<text x="137.40" y="482.54" textLength="11.17" lengthAdjust="spacingAndGlyphs">0.6</text>
<text x="55.70" y="492.19" textLength="15.83" lengthAdjust="spacingAndGlyphs">0.55</text>
<text x="84.20" y="492.19" textLength="6.54" lengthAdjust="spacingAndGlyphs">.7</text>
<text x="124.70" y="492.19" textLength="6.70" lengthAdjust="spacingAndGlyphs">.8</text>
<text x="137.40" y="492.19" textLength="11.16" lengthAdjust="spacingAndGlyphs">0.8</text>
<text x="55.70" y="501.84" textLength="11.31" lengthAdjust="spacingAndGlyphs">0.6</text>
<text x="84.20" y="501.84" textLength="6.39" lengthAdjust="spacingAndGlyphs">.8</text>
<text x="124.70" y="501.84" textLength="6.70" lengthAdjust="spacingAndGlyphs">.8</text>
<text x="137.40" y="501.84" textLength="11.17" lengthAdjust="spacingAndGlyphs">1.0</text>
<text x="55.70" y="511.49" textLength="11.31" lengthAdjust="spacingAndGlyphs">0.6</text>
<text x="84.20" y="511.49" textLength="6.39" lengthAdjust="spacingAndGlyphs">.8</text>
<text x="124.70" y="511.49" textLength="6.62" lengthAdjust="spacingAndGlyphs">.8</text>
<text x="137.40" y="511.49" textLength="11.17" lengthAdjust="spacingAndGlyphs">1.2</text>
<text x="55.70" y="521.14" textLength="15.83" lengthAdjust="spacingAndGlyphs">0.65</text>
<text x="84.20" y="521.14" textLength="6.39" lengthAdjust="spacingAndGlyphs">.6</text>
<text x="124.70" y="521.14" textLength="6.65" lengthAdjust="spacingAndGlyphs">.7</text>
<text x="137.40" y="521.14" textLength="11.17" lengthAdjust="spacingAndGlyphs">1.4</text>
<text x="55.70" y="530.78" textLength="15.83" lengthAdjust="spacingAndGlyphs">0.65</text>
<text x="84.20" y="530.78" textLength="6.39" lengthAdjust="spacingAndGlyphs">.6</text>
<text x="124.70" y="530.78" textLength="6.65" lengthAdjust="spacingAndGlyphs">.7</text>
<text x="137.40" y="530.78" textLength="11.17" lengthAdjust="spacingAndGlyphs">1.6</text>
<text x="55.70" y="540.43" textLength="11.31" lengthAdjust="spacingAndGlyphs">0.7</text>
<text x="124.70" y="540.43" textLength="6.65" lengthAdjust="spacingAndGlyphs">.7</text>
<text x="137.40" y="540.43" textLength="11.17" lengthAdjust="spacingAndGlyphs">1.8</text>
<text x="55.70" y="550.08" textLength="11.31" lengthAdjust="spacingAndGlyphs">0.7</text>
<text x="124.70" y="550.08" textLength="6.62" lengthAdjust="spacingAndGlyphs">.6</text>
<text x="137.40" y="550.08" textLength="11.17" lengthAdjust="spacingAndGlyphs">2.0</text>
<text x="55.70" y="559.73" textLength="11.31" lengthAdjust="spacingAndGlyphs">0.7</text>
<text x="84.20" y="559.73" textLength="6.32" lengthAdjust="spacingAndGlyphs">.1</text>
<text x="124.70" y="559.73" textLength="6.53" lengthAdjust="spacingAndGlyphs">.6</text>
<text x="137.40" y="559.73" textLength="11.17" lengthAdjust="spacingAndGlyphs">2.2</text>
<text x="55.70" y="569.38" textLength="15.83" lengthAdjust="spacingAndGlyphs">0.75</text>
<text x="124.70" y="569.38" textLength="6.52" lengthAdjust="spacingAndGlyphs">.5</text>
<text x="137.40" y="569.38" textLength="11.14" lengthAdjust="spacingAndGlyphs">2.4</text>
<text x="55.70" y="579.02" textLength="15.83" lengthAdjust="spacingAndGlyphs">0.75</text>
<text x="84.20" y="579.02" textLength="6.26" lengthAdjust="spacingAndGlyphs">.3</text>
<text x="124.70" y="579.02" textLength="6.52" lengthAdjust="spacingAndGlyphs">.5</text>
<text x="137.40" y="579.02" textLength="11.17" lengthAdjust="spacingAndGlyphs">2.6</text>
<text x="55.70" y="588.67" textLength="15.83" lengthAdjust="spacingAndGlyphs">0.75</text>
<text x="84.20" y="588.67" textLength="6.26" lengthAdjust="spacingAndGlyphs">.3</text>
<text x="124.70" y="588.67" textLength="6.52" lengthAdjust="spacingAndGlyphs">.5</text>
<text x="137.40" y="588.67" textLength="11.17" lengthAdjust="spacingAndGlyphs">2.8</text>
<text x="55.70" y="598.32" textLength="15.83" lengthAdjust="spacingAndGlyphs">0.45</text>
<text x="84.20" y="598.32" textLength="6.54" lengthAdjust="spacingAndGlyphs">.5</text>
<text x="124.70" y="598.32" textLength="6.70" lengthAdjust="spacingAndGlyphs">.0</text>
<text x="137.40" y="598.32" textLength="11.17" lengthAdjust="spacingAndGlyphs">0.2</text>
<text x="55.70" y="607.97" textLength="15.83" lengthAdjust="spacingAndGlyphs">0.55</text>
<text x="84.20" y="607.97" textLength="6.54" lengthAdjust="spacingAndGlyphs">.7</text>
<text x="124.70" y="607.97" textLength="6.70" lengthAdjust="spacingAndGlyphs">.9</text>
<text x="137.40" y="607.97" textLength="11.04" lengthAdjust="spacingAndGlyphs">0.4</text>
<text x="55.70" y="617.62" textLength="15.83" lengthAdjust="spacingAndGlyphs">0.55</text>
<text x="84.20" y="617.62" textLength="6.54" lengthAdjust="spacingAndGlyphs">.7</text>
<text x="124.70" y="617.62" textLength="6.70" lengthAdjust="spacingAndGlyphs">.9</text>
<text x="137.40" y="617.62" textLength="11.17" lengthAdjust="spacingAndGlyphs">0.6</text>
<text x="55.70" y="627.26" textLength="15.83" lengthAdjust="spacingAndGlyphs">0.65</text>
<text x="124.70" y="627.26" textLength="6.70" lengthAdjust="spacingAndGlyphs">.8</text>
<text x="137.40" y="627.26" textLength="11.16" lengthAdjust="spacingAndGlyphs">0.8</text>
<text x="55.70" y="636.91" textLength="15.83" lengthAdjust="spacingAndGlyphs">0.65</text>
<text x="124.70" y="636.91" textLength="6.70" lengthAdjust="spacingAndGlyphs">.8</text>
<text x="137.40" y="636.91" textLength="11.17" lengthAdjust="spacingAndGlyphs">1.0</text>
<text x="55.70" y="646.56" textLength="11.31" lengthAdjust="spacingAndGlyphs">0.7</text>
<text x="84.20" y="646.56" textLength="6.42" lengthAdjust="spacingAndGlyphs">.7</text>
<text x="124.70" y="646.56" textLength="6.62" lengthAdjust="spacingAndGlyphs">.8</text>
<text x="137.40" y="646.56" textLength="11.17" lengthAdjust="spacingAndGlyphs">1.2</text>
<text x="55.70" y="656.21" textLength="11.31" lengthAdjust="spacingAndGlyphs">0.7</text>
<text x="84.20" y="656.21" textLength="6.42" lengthAdjust="spacingAndGlyphs">.7</text>
<text x="124.70" y="656.21" textLength="6.65" lengthAdjust="spacingAndGlyphs">.7</text>
<text x="137.40" y="656.21" textLength="11.17" lengthAdjust="spacingAndGlyphs">1.4</text>
<text x="55.70" y="665.86" textLength="11.31" lengthAdjust="spacingAndGlyphs">0.7</text>
<text x="84.20" y="665.86" textLength="6.42" lengthAdjust="spacingAndGlyphs">.7</text>
<text x="124.70" y="665.86" textLength="6.65" lengthAdjust="spacingAndGlyphs">.7</text>
<text x="137.40" y="665.86" textLength="11.17" lengthAdjust="spacingAndGlyphs">1.6</text>
<text x="55.70" y="675.50" textLength="15.83" lengthAdjust="spacingAndGlyphs">0.75</text>
<text x="84.20" y="675.50" textLength="6.41" lengthAdjust="spacingAndGlyphs">.9</text>
<text x="124.70" y="675.50" textLength="6.65" lengthAdjust="spacingAndGlyphs">.7</text>
<text x="137.40" y="675.50" textLength="11.17" lengthAdjust="spacingAndGlyphs">1.8</text>
<text x="55.70" y="685.15" textLength="15.83" lengthAdjust="spacingAndGlyphs">0.75</text>
<text x="84.20" y="685.15" textLength="6.41" lengthAdjust="spacingAndGlyphs">.9</text>
<text x="124.70" y="685.15" textLength="6.62" lengthAdjust="spacingAndGlyphs">.6</text>
<text x="137.40" y="685.15" textLength="11.17" lengthAdjust="spacingAndGlyphs">2.0</text>
<text x="55.70" y="694.80" textLength="15.83" lengthAdjust="spacingAndGlyphs">0.75</text>
<text x="84.20" y="694.80" textLength="6.41" lengthAdjust="spacingAndGlyphs">.9</text>
<text x="124.70" y="694.80" textLength="6.53" lengthAdjust="spacingAndGlyphs">.6</text>
<text x="137.40" y="694.80" textLength="11.17" lengthAdjust="spacingAndGlyphs">2.2</text>
<text x="55.70" y="704.45" textLength="11.31" lengthAdjust="spacingAndGlyphs">0.8</text>
<text x="84.20" y="704.45" textLength="6.25" lengthAdjust="spacingAndGlyphs">.4</text>
<text x="124.70" y="704.45" textLength="6.52" lengthAdjust="spacingAndGlyphs">.5</text>
<text x="137.40" y="704.45" textLength="11.14" lengthAdjust="spacingAndGlyphs">2.4</text>
<text x="55.70" y="714.10" textLength="11.31" lengthAdjust="spacingAndGlyphs">0.8</text>
<text x="84.20" y="714.10" textLength="6.25" lengthAdjust="spacingAndGlyphs">.4</text>
<text x="124.70" y="714.10" textLength="6.52" lengthAdjust="spacingAndGlyphs">.5</text>
<text x="137.40" y="714.10" textLength="11.17" lengthAdjust="spacingAndGlyphs">2.6</text>
<text x="55.70" y="723.74" textLength="15.83" lengthAdjust="spacingAndGlyphs">0.85</text>
<text x="84.20" y="723.74" textLength="6.26" lengthAdjust="spacingAndGlyphs">.6</text>
<text x="124.70" y="723.74" textLength="6.52" lengthAdjust="spacingAndGlyphs">.5</text>
<text x="137.40" y="723.74" textLength="11.17" lengthAdjust="spacingAndGlyphs">2.8</text>
<text x="55.70" y="733.39" textLength="15.83" lengthAdjust="spacingAndGlyphs">0.85</text>
<text x="84.20" y="733.39" textLength="6.27" lengthAdjust="spacingAndGlyphs">.9</text>
<text x="124.70" y="733.39" textLength="6.44" lengthAdjust="spacingAndGlyphs">.4</text>
<text x="137.40" y="733.39" textLength="11.17" lengthAdjust="spacingAndGlyphs">3.2</text>
</g>
<g font-size="9.80" fill="#141414" stroke="#141414" stroke-width="0.38" text-anchor="end">
<text x="84.20" y="212.40" textLength="4.36" lengthAdjust="spacingAndGlyphs">1</text>
<text x="107.50" y="212.40" textLength="4.63" lengthAdjust="spacingAndGlyphs">2</text>
<text x="124.70" y="212.40" textLength="4.33" lengthAdjust="spacingAndGlyphs">0</text>
<text x="84.20" y="222.05" textLength="4.36" lengthAdjust="spacingAndGlyphs">5</text>
<text x="107.50" y="222.05" textLength="4.63" lengthAdjust="spacingAndGlyphs">4</text>
<text x="124.70" y="222.05" textLength="4.47" lengthAdjust="spacingAndGlyphs">2</text>
<text x="84.20" y="231.70" textLength="4.36" lengthAdjust="spacingAndGlyphs">5</text>
<text x="107.50" y="231.70" textLength="4.63" lengthAdjust="spacingAndGlyphs">6</text>
<text x="124.70" y="231.70" textLength="4.47" lengthAdjust="spacingAndGlyphs">2</text>
<text x="84.20" y="241.34" textLength="4.36" lengthAdjust="spacingAndGlyphs">9</text>
<text x="107.50" y="241.34" textLength="4.63" lengthAdjust="spacingAndGlyphs">8</text>
<text x="124.70" y="241.34" textLength="4.47" lengthAdjust="spacingAndGlyphs">3</text>
<text x="84.20" y="250.99" textLength="4.36" lengthAdjust="spacingAndGlyphs">9</text>
<text x="107.50" y="250.99" textLength="9.27" lengthAdjust="spacingAndGlyphs">10</text>
<text x="124.70" y="250.99" textLength="4.47" lengthAdjust="spacingAndGlyphs">4</text>
<text x="84.20" y="260.64" textLength="8.52" lengthAdjust="spacingAndGlyphs">10</text>
<text x="107.50" y="260.64" textLength="9.27" lengthAdjust="spacingAndGlyphs">12</text>
<text x="124.70" y="260.64" textLength="4.47" lengthAdjust="spacingAndGlyphs">5</text>
<text x="84.20" y="270.29" textLength="4.36" lengthAdjust="spacingAndGlyphs">2</text>
<text x="107.50" y="270.29" textLength="4.63" lengthAdjust="spacingAndGlyphs">2</text>
<text x="124.70" y="270.29" textLength="4.47" lengthAdjust="spacingAndGlyphs">2</text>
<text x="84.20" y="279.94" textLength="4.36" lengthAdjust="spacingAndGlyphs">3</text>
<text x="107.50" y="279.94" textLength="4.63" lengthAdjust="spacingAndGlyphs">4</text>
<text x="124.70" y="279.94" textLength="4.47" lengthAdjust="spacingAndGlyphs">3</text>
<text x="84.20" y="289.58" textLength="4.36" lengthAdjust="spacingAndGlyphs">6</text>
<text x="107.50" y="289.58" textLength="4.63" lengthAdjust="spacingAndGlyphs">6</text>
<text x="124.70" y="289.58" textLength="4.47" lengthAdjust="spacingAndGlyphs">5</text>
<text x="84.20" y="299.23" textLength="4.36" lengthAdjust="spacingAndGlyphs">6</text>
<text x="107.50" y="299.23" textLength="4.63" lengthAdjust="spacingAndGlyphs">8</text>
<text x="124.70" y="299.23" textLength="4.47" lengthAdjust="spacingAndGlyphs">7</text>
<text x="84.20" y="308.88" textLength="8.72" lengthAdjust="spacingAndGlyphs">13</text>
<text x="107.50" y="308.88" textLength="9.27" lengthAdjust="spacingAndGlyphs">10</text>
<text x="124.70" y="308.88" textLength="4.47" lengthAdjust="spacingAndGlyphs">9</text>
<text x="84.20" y="318.53" textLength="8.72" lengthAdjust="spacingAndGlyphs">13</text>
<text x="107.50" y="318.53" textLength="9.27" lengthAdjust="spacingAndGlyphs">12</text>
<text x="124.70" y="318.53" textLength="8.83" lengthAdjust="spacingAndGlyphs">11</text>
<text x="84.20" y="328.18" textLength="8.72" lengthAdjust="spacingAndGlyphs">13</text>
<text x="107.50" y="328.18" textLength="9.27" lengthAdjust="spacingAndGlyphs">14</text>
<text x="124.70" y="328.18" textLength="8.86" lengthAdjust="spacingAndGlyphs">13</text>
<text x="84.20" y="337.82" textLength="8.72" lengthAdjust="spacingAndGlyphs">21</text>
<text x="107.50" y="337.82" textLength="9.27" lengthAdjust="spacingAndGlyphs">16</text>
<text x="124.70" y="337.82" textLength="8.86" lengthAdjust="spacingAndGlyphs">15</text>
<text x="84.20" y="347.47" textLength="4.36" lengthAdjust="spacingAndGlyphs">2</text>
<text x="107.50" y="347.47" textLength="4.63" lengthAdjust="spacingAndGlyphs">2</text>
<text x="124.70" y="347.47" textLength="4.47" lengthAdjust="spacingAndGlyphs">2</text>
<text x="84.20" y="357.12" textLength="4.36" lengthAdjust="spacingAndGlyphs">5</text>
<text x="107.50" y="357.12" textLength="4.63" lengthAdjust="spacingAndGlyphs">4</text>
<text x="124.70" y="357.12" textLength="4.47" lengthAdjust="spacingAndGlyphs">3</text>
<text x="84.20" y="366.77" textLength="4.36" lengthAdjust="spacingAndGlyphs">5</text>
<text x="107.50" y="366.77" textLength="4.63" lengthAdjust="spacingAndGlyphs">6</text>
<text x="124.70" y="366.77" textLength="4.47" lengthAdjust="spacingAndGlyphs">5</text>
<text x="84.20" y="376.42" textLength="4.36" lengthAdjust="spacingAndGlyphs">9</text>
<text x="107.50" y="376.42" textLength="4.63" lengthAdjust="spacingAndGlyphs">8</text>
<text x="124.70" y="376.42" textLength="4.47" lengthAdjust="spacingAndGlyphs">7</text>
<text x="84.20" y="386.06" textLength="4.36" lengthAdjust="spacingAndGlyphs">9</text>
<text x="107.50" y="386.06" textLength="9.27" lengthAdjust="spacingAndGlyphs">10</text>
<text x="124.70" y="386.06" textLength="4.47" lengthAdjust="spacingAndGlyphs">9</text>
<text x="84.20" y="395.71" textLength="8.54" lengthAdjust="spacingAndGlyphs">13</text>
<text x="107.50" y="395.71" textLength="9.27" lengthAdjust="spacingAndGlyphs">12</text>
<text x="124.70" y="395.71" textLength="8.83" lengthAdjust="spacingAndGlyphs">11</text>
<text x="84.20" y="405.36" textLength="8.54" lengthAdjust="spacingAndGlyphs">13</text>
<text x="107.50" y="405.36" textLength="9.27" lengthAdjust="spacingAndGlyphs">14</text>
<text x="124.70" y="405.36" textLength="8.86" lengthAdjust="spacingAndGlyphs">13</text>
<text x="84.20" y="415.01" textLength="8.41" lengthAdjust="spacingAndGlyphs">21</text>
<text x="107.50" y="415.01" textLength="9.27" lengthAdjust="spacingAndGlyphs">16</text>
<text x="124.70" y="415.01" textLength="8.86" lengthAdjust="spacingAndGlyphs">15</text>
<text x="84.20" y="424.66" textLength="8.41" lengthAdjust="spacingAndGlyphs">21</text>
<text x="107.50" y="424.66" textLength="9.27" lengthAdjust="spacingAndGlyphs">18</text>
<text x="124.70" y="424.66" textLength="8.86" lengthAdjust="spacingAndGlyphs">17</text>
<text x="84.20" y="434.30" textLength="8.41" lengthAdjust="spacingAndGlyphs">21</text>
<text x="107.50" y="434.30" textLength="9.27" lengthAdjust="spacingAndGlyphs">20</text>
<text x="124.70" y="434.30" textLength="8.83" lengthAdjust="spacingAndGlyphs">19</text>
<text x="84.20" y="443.95" textLength="8.41" lengthAdjust="spacingAndGlyphs">21</text>
<text x="107.50" y="443.95" textLength="9.27" lengthAdjust="spacingAndGlyphs">22</text>
<text x="124.70" y="443.95" textLength="8.71" lengthAdjust="spacingAndGlyphs">21</text>
<text x="84.20" y="453.60" textLength="8.72" lengthAdjust="spacingAndGlyphs">33</text>
<text x="107.50" y="453.60" textLength="9.27" lengthAdjust="spacingAndGlyphs">24</text>
<text x="124.70" y="453.60" textLength="8.70" lengthAdjust="spacingAndGlyphs">23</text>
<text x="84.20" y="463.25" textLength="4.36" lengthAdjust="spacingAndGlyphs">2</text>
<text x="107.50" y="463.25" textLength="4.63" lengthAdjust="spacingAndGlyphs">2</text>
<text x="124.70" y="463.25" textLength="4.47" lengthAdjust="spacingAndGlyphs">2</text>
<text x="84.20" y="472.90" textLength="4.36" lengthAdjust="spacingAndGlyphs">3</text>
<text x="107.50" y="472.90" textLength="4.63" lengthAdjust="spacingAndGlyphs">4</text>
<text x="124.70" y="472.90" textLength="4.47" lengthAdjust="spacingAndGlyphs">3</text>
<text x="84.20" y="482.54" textLength="4.36" lengthAdjust="spacingAndGlyphs">5</text>
<text x="107.50" y="482.54" textLength="4.63" lengthAdjust="spacingAndGlyphs">6</text>
<text x="124.70" y="482.54" textLength="4.47" lengthAdjust="spacingAndGlyphs">5</text>
<text x="84.20" y="492.19" textLength="4.36" lengthAdjust="spacingAndGlyphs">7</text>
<text x="107.50" y="492.19" textLength="4.63" lengthAdjust="spacingAndGlyphs">8</text>
<text x="124.70" y="492.19" textLength="4.47" lengthAdjust="spacingAndGlyphs">7</text>
<text x="84.20" y="501.84" textLength="8.52" lengthAdjust="spacingAndGlyphs">10</text>
<text x="107.50" y="501.84" textLength="9.27" lengthAdjust="spacingAndGlyphs">10</text>
<text x="124.70" y="501.84" textLength="4.47" lengthAdjust="spacingAndGlyphs">9</text>
<text x="84.20" y="511.49" textLength="8.52" lengthAdjust="spacingAndGlyphs">10</text>
<text x="107.50" y="511.49" textLength="9.27" lengthAdjust="spacingAndGlyphs">12</text>
<text x="124.70" y="511.49" textLength="8.83" lengthAdjust="spacingAndGlyphs">11</text>
<text x="84.20" y="521.14" textLength="8.53" lengthAdjust="spacingAndGlyphs">15</text>
<text x="107.50" y="521.14" textLength="9.27" lengthAdjust="spacingAndGlyphs">14</text>
<text x="124.70" y="521.14" textLength="8.86" lengthAdjust="spacingAndGlyphs">13</text>
<text x="84.20" y="530.78" textLength="8.53" lengthAdjust="spacingAndGlyphs">15</text>
<text x="107.50" y="530.78" textLength="9.27" lengthAdjust="spacingAndGlyphs">16</text>
<text x="124.70" y="530.78" textLength="8.86" lengthAdjust="spacingAndGlyphs">15</text>
<text x="84.20" y="540.43" textLength="8.72" lengthAdjust="spacingAndGlyphs">20</text>
<text x="107.50" y="540.43" textLength="9.27" lengthAdjust="spacingAndGlyphs">18</text>
<text x="124.70" y="540.43" textLength="8.86" lengthAdjust="spacingAndGlyphs">17</text>
<text x="84.20" y="550.08" textLength="8.72" lengthAdjust="spacingAndGlyphs">20</text>
<text x="107.50" y="550.08" textLength="9.27" lengthAdjust="spacingAndGlyphs">20</text>
<text x="124.70" y="550.08" textLength="8.83" lengthAdjust="spacingAndGlyphs">19</text>
<text x="84.20" y="559.73" textLength="8.43" lengthAdjust="spacingAndGlyphs">23</text>
<text x="107.50" y="559.73" textLength="9.27" lengthAdjust="spacingAndGlyphs">22</text>
<text x="124.70" y="559.73" textLength="8.71" lengthAdjust="spacingAndGlyphs">21</text>
<text x="84.20" y="569.38" textLength="8.72" lengthAdjust="spacingAndGlyphs">33</text>
<text x="107.50" y="569.38" textLength="9.27" lengthAdjust="spacingAndGlyphs">24</text>
<text x="124.70" y="569.38" textLength="8.70" lengthAdjust="spacingAndGlyphs">23</text>
<text x="84.20" y="579.02" textLength="8.35" lengthAdjust="spacingAndGlyphs">32</text>
<text x="107.50" y="579.02" textLength="9.27" lengthAdjust="spacingAndGlyphs">26</text>
<text x="124.70" y="579.02" textLength="8.70" lengthAdjust="spacingAndGlyphs">25</text>
<text x="84.20" y="588.67" textLength="8.35" lengthAdjust="spacingAndGlyphs">32</text>
<text x="107.50" y="588.67" textLength="9.27" lengthAdjust="spacingAndGlyphs">28</text>
<text x="124.70" y="588.67" textLength="8.70" lengthAdjust="spacingAndGlyphs">27</text>
<text x="84.20" y="598.32" textLength="4.36" lengthAdjust="spacingAndGlyphs">2</text>
<text x="107.50" y="598.32" textLength="4.63" lengthAdjust="spacingAndGlyphs">2</text>
<text x="124.70" y="598.32" textLength="4.47" lengthAdjust="spacingAndGlyphs">2</text>
<text x="84.20" y="607.97" textLength="4.36" lengthAdjust="spacingAndGlyphs">4</text>
<text x="107.50" y="607.97" textLength="4.63" lengthAdjust="spacingAndGlyphs">4</text>
<text x="124.70" y="607.97" textLength="4.47" lengthAdjust="spacingAndGlyphs">3</text>
<text x="84.20" y="617.62" textLength="4.36" lengthAdjust="spacingAndGlyphs">4</text>
<text x="107.50" y="617.62" textLength="4.63" lengthAdjust="spacingAndGlyphs">6</text>
<text x="124.70" y="617.62" textLength="4.47" lengthAdjust="spacingAndGlyphs">5</text>
<text x="84.20" y="627.26" textLength="4.36" lengthAdjust="spacingAndGlyphs">9</text>
<text x="107.50" y="627.26" textLength="4.63" lengthAdjust="spacingAndGlyphs">8</text>
<text x="124.70" y="627.26" textLength="4.47" lengthAdjust="spacingAndGlyphs">7</text>
<text x="84.20" y="636.91" textLength="4.36" lengthAdjust="spacingAndGlyphs">9</text>
<text x="107.50" y="636.91" textLength="9.27" lengthAdjust="spacingAndGlyphs">10</text>
<text x="124.70" y="636.91" textLength="4.47" lengthAdjust="spacingAndGlyphs">9</text>
<text x="84.20" y="646.56" textLength="8.56" lengthAdjust="spacingAndGlyphs">13</text>
<text x="107.50" y="646.56" textLength="9.27" lengthAdjust="spacingAndGlyphs">12</text>
<text x="124.70" y="646.56" textLength="8.83" lengthAdjust="spacingAndGlyphs">11</text>
<text x="84.20" y="656.21" textLength="8.56" lengthAdjust="spacingAndGlyphs">13</text>
<text x="107.50" y="656.21" textLength="9.27" lengthAdjust="spacingAndGlyphs">14</text>
<text x="124.70" y="656.21" textLength="8.86" lengthAdjust="spacingAndGlyphs">13</text>
<text x="84.20" y="665.86" textLength="8.56" lengthAdjust="spacingAndGlyphs">13</text>
<text x="107.50" y="665.86" textLength="9.27" lengthAdjust="spacingAndGlyphs">16</text>
<text x="124.70" y="665.86" textLength="8.86" lengthAdjust="spacingAndGlyphs">15</text>
<text x="84.20" y="675.50" textLength="8.54" lengthAdjust="spacingAndGlyphs">18</text>
<text x="107.50" y="675.50" textLength="9.27" lengthAdjust="spacingAndGlyphs">18</text>
<text x="124.70" y="675.50" textLength="8.86" lengthAdjust="spacingAndGlyphs">17</text>
<text x="84.20" y="685.15" textLength="8.54" lengthAdjust="spacingAndGlyphs">18</text>
<text x="107.50" y="685.15" textLength="9.27" lengthAdjust="spacingAndGlyphs">20</text>
<text x="124.70" y="685.15" textLength="8.83" lengthAdjust="spacingAndGlyphs">19</text>
<text x="84.20" y="694.80" textLength="8.54" lengthAdjust="spacingAndGlyphs">18</text>
<text x="107.50" y="694.80" textLength="9.27" lengthAdjust="spacingAndGlyphs">22</text>
<text x="124.70" y="694.80" textLength="8.71" lengthAdjust="spacingAndGlyphs">21</text>
<text x="84.20" y="704.45" textLength="8.34" lengthAdjust="spacingAndGlyphs">26</text>
<text x="107.50" y="704.45" textLength="9.27" lengthAdjust="spacingAndGlyphs">24</text>
<text x="124.70" y="704.45" textLength="8.70" lengthAdjust="spacingAndGlyphs">23</text>
<text x="84.20" y="714.10" textLength="8.34" lengthAdjust="spacingAndGlyphs">26</text>
<text x="107.50" y="714.10" textLength="9.27" lengthAdjust="spacingAndGlyphs">26</text>
<text x="124.70" y="714.10" textLength="8.70" lengthAdjust="spacingAndGlyphs">25</text>
<text x="84.20" y="723.74" textLength="8.35" lengthAdjust="spacingAndGlyphs">30</text>
<text x="107.50" y="723.74" textLength="9.27" lengthAdjust="spacingAndGlyphs">28</text>
<text x="124.70" y="723.74" textLength="8.70" lengthAdjust="spacingAndGlyphs">27</text>
<text x="84.20" y="733.39" textLength="8.37" lengthAdjust="spacingAndGlyphs">34</text>
<text x="107.50" y="733.39" textLength="9.27" lengthAdjust="spacingAndGlyphs">32</text>
<text x="124.70" y="733.39" textLength="8.58" lengthAdjust="spacingAndGlyphs">31</text>
</g>
<path d="M136.60,205.40 q-0.6,3.8 0,7.6 M149.50,205.40 q0.6,3.8 0,7.6 M136.60,215.05 q-0.6,3.8 0,7.6 M149.50,215.05 q0.6,3.8 0,7.6 M136.60,224.70 q-0.6,3.8 0,7.6 M149.50,224.70 q0.6,3.8 0,7.6 M136.60,234.34 q-0.6,3.8 0,7.6 M149.50,234.34 q0.6,3.8 0,7.6 M136.60,243.99 q-0.6,3.8 0,7.6 M149.50,243.99 q0.6,3.8 0,7.6 M136.60,253.64 q-0.6,3.8 0,7.6 M149.50,253.64 q0.6,3.8 0,7.6 M136.60,263.29 q-0.6,3.8 0,7.6 M149.50,263.29 q0.6,3.8 0,7.6 M136.60,272.94 q-0.6,3.8 0,7.6 M149.50,272.94 q0.6,3.8 0,7.6 M136.60,282.58 q-0.6,3.8 0,7.6 M149.50,282.58 q0.6,3.8 0,7.6 M136.60,292.23 q-0.6,3.8 0,7.6 M149.50,292.23 q0.6,3.8 0,7.6 M136.60,301.88 q-0.6,3.8 0,7.6 M149.50,301.88 q0.6,3.8 0,7.6 M136.60,311.53 q-0.6,3.8 0,7.6 M149.50,311.53 q0.6,3.8 0,7.6 M136.60,321.18 q-0.6,3.8 0,7.6 M149.50,321.18 q0.6,3.8 0,7.6 M136.60,330.82 q-0.6,3.8 0,7.6 M149.50,330.82 q0.6,3.8 0,7.6 M136.60,340.47 q-0.6,3.8 0,7.6 M149.50,340.47 q0.6,3.8 0,7.6 M136.60,350.12 q-0.6,3.8 0,7.6 M149.50,350.12 q0.6,3.8 0,7.6 M136.60,359.77 q-0.6,3.8 0,7.6 M149.50,359.77 q0.6,3.8 0,7.6 M136.60,369.42 q-0.6,3.8 0,7.6 M149.50,369.42 q0.6,3.8 0,7.6 M136.60,379.06 q-0.6,3.8 0,7.6 M149.50,379.06 q0.6,3.8 0,7.6 M136.60,388.71 q-0.6,3.8 0,7.6 M149.50,388.71 q0.6,3.8 0,7.6 M136.60,398.36 q-0.6,3.8 0,7.6 M149.50,398.36 q0.6,3.8 0,7.6 M136.60,408.01 q-0.6,3.8 0,7.6 M149.50,408.01 q0.6,3.8 0,7.6 M136.60,417.66 q-0.6,3.8 0,7.6 M149.50,417.66 q0.6,3.8 0,7.6 M136.60,427.30 q-0.6,3.8 0,7.6 M149.50,427.30 q0.6,3.8 0,7.6 M136.60,436.95 q-0.6,3.8 0,7.6 M149.50,436.95 q0.6,3.8 0,7.6 M136.60,446.60 q-0.6,3.8 0,7.6 M149.50,446.60 q0.6,3.8 0,7.6 M136.60,456.25 q-0.6,3.8 0,7.6 M149.50,456.25 q0.6,3.8 0,7.6 M136.60,465.90 q-0.6,3.8 0,7.6 M149.50,465.90 q0.6,3.8 0,7.6 M136.60,475.54 q-0.6,3.8 0,7.6 M149.50,475.54 q0.6,3.8 0,7.6 M136.60,485.19 q-0.6,3.8 0,7.6 M149.50,485.19 q0.6,3.8 0,7.6 M136.60,494.84 q-0.6,3.8 0,7.6 M149.50,494.84 q0.6,3.8 0,7.6 M136.60,504.49 q-0.6,3.8 0,7.6 M149.50,504.49 q0.6,3.8 0,7.6 M136.60,514.14 q-0.6,3.8 0,7.6 M149.50,514.14 q0.6,3.8 0,7.6 M136.60,523.78 q-0.6,3.8 0,7.6 M149.50,523.78 q0.6,3.8 0,7.6 M136.60,533.43 q-0.6,3.8 0,7.6 M149.50,533.43 q0.6,3.8 0,7.6 M136.60,543.08 q-0.6,3.8 0,7.6 M149.50,543.08 q0.6,3.8 0,7.6 M136.60,552.73 q-0.6,3.8 0,7.6 M149.50,552.73 q0.6,3.8 0,7.6 M136.60,562.38 q-0.6,3.8 0,7.6 M149.50,562.38 q0.6,3.8 0,7.6 M136.60,572.02 q-0.6,3.8 0,7.6 M149.50,572.02 q0.6,3.8 0,7.6 M136.60,581.67 q-0.6,3.8 0,7.6 M149.50,581.67 q0.6,3.8 0,7.6 M136.60,591.32 q-0.6,3.8 0,7.6 M149.50,591.32 q0.6,3.8 0,7.6 M136.60,600.97 q-0.6,3.8 0,7.6 M149.50,600.97 q0.6,3.8 0,7.6 M136.60,610.62 q-0.6,3.8 0,7.6 M149.50,610.62 q0.6,3.8 0,7.6 M136.60,620.26 q-0.6,3.8 0,7.6 M149.50,620.26 q0.6,3.8 0,7.6 M136.60,629.91 q-0.6,3.8 0,7.6 M149.50,629.91 q0.6,3.8 0,7.6 M136.60,639.56 q-0.6,3.8 0,7.6 M149.50,639.56 q0.6,3.8 0,7.6 M136.60,649.21 q-0.6,3.8 0,7.6 M149.50,649.21 q0.6,3.8 0,7.6 M136.60,658.86 q-0.6,3.8 0,7.6 M149.50,658.86 q0.6,3.8 0,7.6 M136.60,668.50 q-0.6,3.8 0,7.6 M149.50,668.50 q0.6,3.8 0,7.6 M136.60,678.15 q-0.6,3.8 0,7.6 M149.50,678.15 q0.6,3.8 0,7.6 M136.60,687.80 q-0.6,3.8 0,7.6 M149.50,687.80 q0.6,3.8 0,7.6 M136.60,697.45 q-0.6,3.8 0,7.6 M149.50,697.45 q0.6,3.8 0,7.6 M136.60,707.10 q-0.6,3.8 0,7.6 M149.50,707.10 q0.6,3.8 0,7.6 M136.60,716.74 q-0.6,3.8 0,7.6 M149.50,716.74 q0.6,3.8 0,7.6 M136.60,726.39 q-0.6,3.8 0,7.6 M149.50,726.39 q0.6,3.8 0,7.6" stroke="#4a4a4a" stroke-width="0.7" fill="none"/>
<g font-size="9.00" fill="#2a8bd3" stroke="#2a8bd3" stroke-width="0.25" font-weight="bold">
<text x="159.89" y="212.40" textLength="14.44" lengthAdjust="spacingAndGlyphs">WL2</text>
<text x="159.89" y="270.29" textLength="14.44" lengthAdjust="spacingAndGlyphs">WL3</text>
<text x="159.89" y="347.47" textLength="14.44" lengthAdjust="spacingAndGlyphs">WL4</text>
<text x="159.89" y="463.25" textLength="14.44" lengthAdjust="spacingAndGlyphs">WL5</text>
<text x="159.89" y="598.32" textLength="14.44" lengthAdjust="spacingAndGlyphs">WL6</text>
</g>
<path d="M175.00,209.30 H181.60 M175.00,267.19 H181.60 M175.00,344.37 H181.60 M175.00,460.15 H181.60 M175.00,595.22 H181.60" stroke="#6aaae0" stroke-width="1.0" fill="none"/>
<g font-size="8.80" fill="#2a8bd3" stroke="#2a8bd3" stroke-width="0.3" font-weight="bold" text-anchor="end">
<text x="190.50" y="212.40" textLength="3.77" lengthAdjust="spacingAndGlyphs">5</text>
<text x="190.50" y="222.05" textLength="7.54" lengthAdjust="spacingAndGlyphs">10</text>
<text x="190.50" y="231.70" textLength="7.54" lengthAdjust="spacingAndGlyphs">15</text>
<text x="190.50" y="241.34" textLength="7.54" lengthAdjust="spacingAndGlyphs">20</text>
<text x="190.50" y="250.99" textLength="7.54" lengthAdjust="spacingAndGlyphs">25</text>
<text x="190.50" y="260.64" textLength="7.54" lengthAdjust="spacingAndGlyphs">30</text>
<text x="190.50" y="270.29" textLength="3.77" lengthAdjust="spacingAndGlyphs">5</text>
<text x="190.50" y="279.94" textLength="7.54" lengthAdjust="spacingAndGlyphs">10</text>
<text x="190.50" y="289.58" textLength="7.54" lengthAdjust="spacingAndGlyphs">15</text>
<text x="190.50" y="299.23" textLength="7.54" lengthAdjust="spacingAndGlyphs">20</text>
<text x="190.50" y="308.88" textLength="7.54" lengthAdjust="spacingAndGlyphs">25</text>
<text x="190.50" y="318.53" textLength="7.54" lengthAdjust="spacingAndGlyphs">30</text>
<text x="190.50" y="328.18" textLength="7.54" lengthAdjust="spacingAndGlyphs">35</text>
<text x="190.50" y="337.82" textLength="7.54" lengthAdjust="spacingAndGlyphs">40</text>
<text x="190.50" y="347.47" textLength="3.77" lengthAdjust="spacingAndGlyphs">5</text>
<text x="190.50" y="357.12" textLength="7.54" lengthAdjust="spacingAndGlyphs">10</text>
<text x="190.50" y="366.77" textLength="7.54" lengthAdjust="spacingAndGlyphs">15</text>
<text x="190.50" y="376.42" textLength="7.54" lengthAdjust="spacingAndGlyphs">20</text>
<text x="190.50" y="386.06" textLength="7.54" lengthAdjust="spacingAndGlyphs">25</text>
<text x="190.50" y="395.71" textLength="7.54" lengthAdjust="spacingAndGlyphs">30</text>
<text x="190.50" y="405.36" textLength="7.54" lengthAdjust="spacingAndGlyphs">35</text>
<text x="190.50" y="415.01" textLength="7.54" lengthAdjust="spacingAndGlyphs">40</text>
<text x="190.50" y="424.66" textLength="7.54" lengthAdjust="spacingAndGlyphs">45</text>
<text x="190.50" y="434.30" textLength="7.54" lengthAdjust="spacingAndGlyphs">50</text>
<text x="190.50" y="443.95" textLength="7.54" lengthAdjust="spacingAndGlyphs">55</text>
<text x="190.50" y="453.60" textLength="7.54" lengthAdjust="spacingAndGlyphs">60</text>
<text x="190.50" y="463.25" textLength="3.77" lengthAdjust="spacingAndGlyphs">5</text>
<text x="190.50" y="472.90" textLength="7.54" lengthAdjust="spacingAndGlyphs">10</text>
<text x="190.50" y="482.54" textLength="7.54" lengthAdjust="spacingAndGlyphs">15</text>
<text x="190.50" y="492.19" textLength="7.54" lengthAdjust="spacingAndGlyphs">20</text>
<text x="190.50" y="501.84" textLength="7.54" lengthAdjust="spacingAndGlyphs">25</text>
<text x="190.50" y="511.49" textLength="7.54" lengthAdjust="spacingAndGlyphs">30</text>
<text x="190.50" y="521.14" textLength="7.54" lengthAdjust="spacingAndGlyphs">35</text>
<text x="190.50" y="530.78" textLength="7.54" lengthAdjust="spacingAndGlyphs">40</text>
<text x="190.50" y="540.43" textLength="7.54" lengthAdjust="spacingAndGlyphs">45</text>
<text x="190.50" y="550.08" textLength="7.54" lengthAdjust="spacingAndGlyphs">50</text>
<text x="190.50" y="559.73" textLength="7.54" lengthAdjust="spacingAndGlyphs">55</text>
<text x="190.50" y="569.38" textLength="7.54" lengthAdjust="spacingAndGlyphs">60</text>
<text x="190.50" y="579.02" textLength="7.54" lengthAdjust="spacingAndGlyphs">65</text>
<text x="190.50" y="588.67" textLength="7.54" lengthAdjust="spacingAndGlyphs">70</text>
<text x="190.50" y="598.32" textLength="3.77" lengthAdjust="spacingAndGlyphs">5</text>
<text x="190.50" y="607.97" textLength="7.54" lengthAdjust="spacingAndGlyphs">10</text>
<text x="190.50" y="617.62" textLength="7.54" lengthAdjust="spacingAndGlyphs">15</text>
<text x="190.50" y="627.26" textLength="7.54" lengthAdjust="spacingAndGlyphs">20</text>
<text x="190.50" y="636.91" textLength="7.54" lengthAdjust="spacingAndGlyphs">25</text>
<text x="190.50" y="646.56" textLength="7.54" lengthAdjust="spacingAndGlyphs">30</text>
<text x="190.50" y="656.21" textLength="7.54" lengthAdjust="spacingAndGlyphs">35</text>
<text x="190.50" y="665.86" textLength="7.54" lengthAdjust="spacingAndGlyphs">40</text>
<text x="190.50" y="675.50" textLength="7.54" lengthAdjust="spacingAndGlyphs">45</text>
<text x="190.50" y="685.15" textLength="7.54" lengthAdjust="spacingAndGlyphs">50</text>
<text x="190.50" y="694.80" textLength="7.54" lengthAdjust="spacingAndGlyphs">55</text>
<text x="190.50" y="704.45" textLength="7.54" lengthAdjust="spacingAndGlyphs">60</text>
<text x="190.50" y="714.10" textLength="7.54" lengthAdjust="spacingAndGlyphs">65</text>
<text x="190.50" y="723.74" textLength="7.54" lengthAdjust="spacingAndGlyphs">70</text>
<text x="190.50" y="733.39" textLength="7.54" lengthAdjust="spacingAndGlyphs">80</text>
</g>
<path d="M194.40,206.20 L194.40,211.40 M196.65,207.50 L192.15,210.10 M196.65,210.10 L192.15,207.50 M194.40,215.85 L194.40,221.05 M196.65,217.15 L192.15,219.75 M196.65,219.75 L192.15,217.15 M194.40,225.50 L194.40,230.70 M196.65,226.80 L192.15,229.40 M196.65,229.40 L192.15,226.80 M194.40,235.14 L194.40,240.34 M196.65,236.44 L192.15,239.04 M196.65,239.04 L192.15,236.44 M194.40,244.79 L194.40,249.99 M196.65,246.09 L192.15,248.69 M196.65,248.69 L192.15,246.09 M194.40,254.44 L194.40,259.64 M196.65,255.74 L192.15,258.34 M196.65,258.34 L192.15,255.74 M194.40,264.09 L194.40,269.29 M196.65,265.39 L192.15,267.99 M196.65,267.99 L192.15,265.39 M194.40,273.74 L194.40,278.94 M196.65,275.04 L192.15,277.64 M196.65,277.64 L192.15,275.04 M194.40,283.38 L194.40,288.58 M196.65,284.68 L192.15,287.28 M196.65,287.28 L192.15,284.68 M194.40,293.03 L194.40,298.23 M196.65,294.33 L192.15,296.93 M196.65,296.93 L192.15,294.33 M194.40,302.68 L194.40,307.88 M196.65,303.98 L192.15,306.58 M196.65,306.58 L192.15,303.98 M194.40,312.33 L194.40,317.53 M196.65,313.63 L192.15,316.23 M196.65,316.23 L192.15,313.63 M194.40,321.98 L194.40,327.18 M196.65,323.28 L192.15,325.88 M196.65,325.88 L192.15,323.28 M194.40,331.62 L194.40,336.82 M196.65,332.92 L192.15,335.52 M196.65,335.52 L192.15,332.92 M194.40,341.27 L194.40,346.47 M196.65,342.57 L192.15,345.17 M196.65,345.17 L192.15,342.57 M194.40,350.92 L194.40,356.12 M196.65,352.22 L192.15,354.82 M196.65,354.82 L192.15,352.22 M194.40,360.57 L194.40,365.77 M196.65,361.87 L192.15,364.47 M196.65,364.47 L192.15,361.87 M194.40,457.05 L194.40,462.25 M196.65,458.35 L192.15,460.95 M196.65,460.95 L192.15,458.35 M194.40,466.70 L194.40,471.90 M196.65,468.00 L192.15,470.60 M196.65,470.60 L192.15,468.00 M194.40,476.34 L194.40,481.54 M196.65,477.64 L192.15,480.24 M196.65,480.24 L192.15,477.64 M194.40,592.12 L194.40,597.32 M196.65,593.42 L192.15,596.02 M196.65,596.02 L192.15,593.42" stroke="#333" stroke-width="1.3" fill="none"/>
<rect x="239.90" y="184.70" width="18.70" height="18.70" fill="#e6e6e6"/>
<rect x="260.40" y="184.70" width="17.70" height="18.70" fill="#e6e6e6"/>
<rect x="279.90" y="184.70" width="17.90" height="18.70" fill="#e6e6e6"/>
<rect x="299.60" y="184.70" width="37.50" height="18.70" fill="#e6e6e6"/>
<rect x="389.10" y="184.70" width="20.60" height="18.70" fill="#e6e6e6"/>
<rect x="339.20" y="184.70" width="47.80" height="8.10" fill="#e6e6e6"/>
<rect x="339.20" y="194.40" width="47.80" height="8.90" fill="#e6e6e6"/>
<rect x="388.20" y="204.30" width="22.40" height="9.65" fill="#d4e4f3"/>
<rect x="239.00" y="213.95" width="99.00" height="9.65" fill="#d4e4f3"/>
<rect x="388.20" y="213.95" width="22.40" height="9.65" fill="#d4e4f3"/>
<rect x="388.20" y="223.60" width="22.40" height="9.65" fill="#d4e4f3"/>
<rect x="239.00" y="233.24" width="99.00" height="9.65" fill="#d4e4f3"/>
<rect x="388.20" y="233.24" width="22.40" height="9.65" fill="#d4e4f3"/>
<rect x="388.20" y="242.89" width="22.40" height="9.65" fill="#d4e4f3"/>
<rect x="239.00" y="252.54" width="99.00" height="9.65" fill="#d4e4f3"/>
<rect x="388.20" y="252.54" width="22.40" height="9.65" fill="#d4e4f3"/>
<rect x="388.20" y="262.19" width="22.40" height="9.65" fill="#d4e4f3"/>
<rect x="239.00" y="271.84" width="99.00" height="9.65" fill="#d4e4f3"/>
<rect x="388.20" y="271.84" width="22.40" height="9.65" fill="#d4e4f3"/>
<rect x="388.20" y="281.48" width="22.40" height="9.65" fill="#d4e4f3"/>
<rect x="239.00" y="291.13" width="99.00" height="9.65" fill="#d4e4f3"/>
<rect x="388.20" y="291.13" width="22.40" height="9.65" fill="#d4e4f3"/>
<rect x="388.20" y="300.78" width="22.40" height="9.65" fill="#d4e4f3"/>
<rect x="239.00" y="310.43" width="99.00" height="9.65" fill="#d4e4f3"/>
<rect x="388.20" y="310.43" width="22.40" height="9.65" fill="#d4e4f3"/>
<rect x="388.20" y="320.08" width="22.40" height="9.65" fill="#d4e4f3"/>
<rect x="239.00" y="329.72" width="99.00" height="9.65" fill="#d4e4f3"/>
<rect x="388.20" y="329.72" width="22.40" height="9.65" fill="#d4e4f3"/>
<rect x="388.20" y="339.37" width="22.40" height="9.65" fill="#d4e4f3"/>
<rect x="239.00" y="349.02" width="99.00" height="9.65" fill="#d4e4f3"/>
<rect x="388.20" y="349.02" width="22.40" height="9.65" fill="#d4e4f3"/>
<rect x="388.20" y="358.67" width="22.40" height="9.65" fill="#d4e4f3"/>
<rect x="239.00" y="368.32" width="99.00" height="9.65" fill="#d4e4f3"/>
<rect x="388.20" y="368.32" width="22.40" height="9.65" fill="#d4e4f3"/>
<rect x="388.20" y="377.96" width="22.40" height="9.65" fill="#d4e4f3"/>
<rect x="239.00" y="387.61" width="99.00" height="9.65" fill="#d4e4f3"/>
<rect x="388.20" y="387.61" width="22.40" height="9.65" fill="#d4e4f3"/>
<rect x="388.20" y="397.26" width="22.40" height="9.65" fill="#d4e4f3"/>
<rect x="239.00" y="406.91" width="99.00" height="9.65" fill="#d4e4f3"/>
<rect x="388.20" y="406.91" width="22.40" height="9.65" fill="#d4e4f3"/>
<rect x="388.20" y="416.56" width="22.40" height="9.65" fill="#d4e4f3"/>
<rect x="239.00" y="426.20" width="99.00" height="9.65" fill="#d4e4f3"/>
<rect x="388.20" y="426.20" width="22.40" height="9.65" fill="#d4e4f3"/>
<rect x="388.20" y="435.85" width="22.40" height="9.65" fill="#d4e4f3"/>
<rect x="239.00" y="445.50" width="99.00" height="9.65" fill="#d4e4f3"/>
<rect x="388.20" y="445.50" width="22.40" height="9.65" fill="#d4e4f3"/>
<rect x="388.20" y="455.15" width="22.40" height="9.65" fill="#d4e4f3"/>
<rect x="239.00" y="464.80" width="99.00" height="9.65" fill="#d4e4f3"/>
<rect x="388.20" y="464.80" width="22.40" height="9.65" fill="#d4e4f3"/>
<rect x="388.20" y="474.44" width="22.40" height="9.65" fill="#d4e4f3"/>
<rect x="239.00" y="484.09" width="99.00" height="9.65" fill="#d4e4f3"/>
<rect x="388.20" y="484.09" width="22.40" height="9.65" fill="#d4e4f3"/>
<rect x="388.20" y="493.74" width="22.40" height="9.65" fill="#d4e4f3"/>
<rect x="239.00" y="503.39" width="99.00" height="9.65" fill="#d4e4f3"/>
<rect x="388.20" y="503.39" width="22.40" height="9.65" fill="#d4e4f3"/>
<rect x="388.20" y="513.04" width="22.40" height="9.65" fill="#d4e4f3"/>
<rect x="239.00" y="522.68" width="99.00" height="9.65" fill="#d4e4f3"/>
<rect x="388.20" y="522.68" width="22.40" height="9.65" fill="#d4e4f3"/>
<rect x="388.20" y="532.33" width="22.40" height="9.65" fill="#d4e4f3"/>
<rect x="239.00" y="541.98" width="99.00" height="9.65" fill="#d4e4f3"/>
<rect x="388.20" y="541.98" width="22.40" height="9.65" fill="#d4e4f3"/>
<rect x="388.20" y="551.63" width="22.40" height="9.65" fill="#d4e4f3"/>
<rect x="239.00" y="561.28" width="99.00" height="9.65" fill="#d4e4f3"/>
<rect x="388.20" y="561.28" width="22.40" height="9.65" fill="#d4e4f3"/>
<rect x="388.20" y="570.92" width="22.40" height="9.65" fill="#d4e4f3"/>
<rect x="239.00" y="580.57" width="99.00" height="9.65" fill="#d4e4f3"/>
<rect x="388.20" y="580.57" width="22.40" height="9.65" fill="#d4e4f3"/>
<rect x="388.20" y="590.22" width="22.40" height="9.65" fill="#d4e4f3"/>
<rect x="239.00" y="599.87" width="99.00" height="9.65" fill="#d4e4f3"/>
<rect x="388.20" y="599.87" width="22.40" height="9.65" fill="#d4e4f3"/>
<rect x="388.20" y="609.52" width="22.40" height="9.65" fill="#d4e4f3"/>
<rect x="239.00" y="619.16" width="99.00" height="9.65" fill="#d4e4f3"/>
<rect x="388.20" y="619.16" width="22.40" height="9.65" fill="#d4e4f3"/>
<rect x="388.20" y="628.81" width="22.40" height="9.65" fill="#d4e4f3"/>
<rect x="239.00" y="638.46" width="99.00" height="9.65" fill="#d4e4f3"/>
<rect x="388.20" y="638.46" width="22.40" height="9.65" fill="#d4e4f3"/>
<rect x="388.20" y="648.11" width="22.40" height="9.65" fill="#d4e4f3"/>
<rect x="239.00" y="657.76" width="99.00" height="9.65" fill="#d4e4f3"/>
<rect x="388.20" y="657.76" width="22.40" height="9.65" fill="#d4e4f3"/>
<rect x="388.20" y="667.40" width="22.40" height="9.65" fill="#d4e4f3"/>
<rect x="239.00" y="677.05" width="99.00" height="9.65" fill="#d4e4f3"/>
<rect x="388.20" y="677.05" width="22.40" height="9.65" fill="#d4e4f3"/>
<rect x="388.20" y="686.70" width="22.40" height="9.65" fill="#d4e4f3"/>
<rect x="239.00" y="696.35" width="99.00" height="9.65" fill="#d4e4f3"/>
<rect x="388.20" y="696.35" width="22.40" height="9.65" fill="#d4e4f3"/>
<rect x="388.20" y="706.00" width="22.40" height="9.65" fill="#d4e4f3"/>
<rect x="239.00" y="715.64" width="99.00" height="9.65" fill="#d4e4f3"/>
<rect x="388.20" y="715.64" width="22.40" height="9.65" fill="#d4e4f3"/>
<rect x="388.20" y="725.29" width="22.40" height="9.65" fill="#d4e4f3"/>
<rect x="239.00" y="734.94" width="99.00" height="9.65" fill="#d4e4f3"/>
<rect x="388.20" y="734.94" width="22.40" height="9.65" fill="#d4e4f3"/>
<rect x="388.20" y="744.59" width="22.40" height="9.65" fill="#d4e4f3"/>
<rect x="239.00" y="754.24" width="99.00" height="9.65" fill="#d4e4f3"/>
<rect x="388.20" y="754.24" width="22.40" height="9.65" fill="#d4e4f3"/>
<rect x="388.20" y="763.88" width="22.40" height="9.65" fill="#d4e4f3"/>
<rect x="239.00" y="773.53" width="99.00" height="9.65" fill="#d4e4f3"/>
<rect x="388.20" y="773.53" width="22.40" height="9.65" fill="#d4e4f3"/>
<rect x="388.20" y="783.18" width="22.40" height="9.65" fill="#d4e4f3"/>
<rect x="239.00" y="792.83" width="99.00" height="9.65" fill="#d4e4f3"/>
<rect x="388.20" y="792.83" width="22.40" height="9.65" fill="#d4e4f3"/>
<rect x="388.20" y="802.48" width="22.40" height="9.65" fill="#d4e4f3"/>
<rect x="239.00" y="812.12" width="99.00" height="9.65" fill="#d4e4f3"/>
<rect x="388.20" y="812.12" width="22.40" height="9.65" fill="#d4e4f3"/>
<rect x="388.20" y="821.77" width="22.40" height="9.65" fill="#d4e4f3"/>
<rect x="239.00" y="831.42" width="99.00" height="9.65" fill="#d4e4f3"/>
<rect x="388.20" y="831.42" width="22.40" height="9.65" fill="#d4e4f3"/>
<rect x="388.20" y="841.07" width="22.40" height="9.65" fill="#d4e4f3"/>
<rect x="239.00" y="850.72" width="99.00" height="9.65" fill="#d4e4f3"/>
<rect x="388.20" y="850.72" width="22.40" height="9.65" fill="#d4e4f3"/>
<rect x="388.20" y="860.36" width="22.40" height="9.65" fill="#d4e4f3"/>
<rect x="239.00" y="870.01" width="99.00" height="9.65" fill="#d4e4f3"/>
<rect x="388.20" y="870.01" width="22.40" height="9.65" fill="#d4e4f3"/>
<rect x="388.20" y="879.66" width="22.40" height="9.65" fill="#d4e4f3"/>
<rect x="239.00" y="213.50" width="99.00" height="0.90" fill="#5a5a5a"/>
<rect x="388.20" y="213.20" width="22.40" height="1.50" fill="#737a77"/>
<rect x="239.00" y="223.15" width="99.00" height="0.90" fill="#5a5a5a"/>
<rect x="388.20" y="222.85" width="22.40" height="1.50" fill="#737a77"/>
<rect x="239.00" y="232.79" width="99.00" height="0.90" fill="#5a5a5a"/>
<rect x="388.20" y="232.49" width="22.40" height="1.50" fill="#737a77"/>
<rect x="239.00" y="242.44" width="99.00" height="0.90" fill="#5a5a5a"/>
<rect x="388.20" y="242.14" width="22.40" height="1.50" fill="#737a77"/>
<rect x="239.00" y="252.09" width="99.00" height="0.90" fill="#5a5a5a"/>
<rect x="388.20" y="251.79" width="22.40" height="1.50" fill="#737a77"/>
<rect x="239.00" y="261.74" width="99.00" height="0.90" fill="#5a5a5a"/>
<rect x="388.20" y="261.44" width="22.40" height="1.50" fill="#737a77"/>
<rect x="239.00" y="271.39" width="99.00" height="0.90" fill="#5a5a5a"/>
<rect x="388.20" y="271.09" width="22.40" height="1.50" fill="#737a77"/>
<rect x="239.00" y="281.03" width="99.00" height="0.90" fill="#5a5a5a"/>
<rect x="388.20" y="280.73" width="22.40" height="1.50" fill="#737a77"/>
<rect x="239.00" y="290.68" width="99.00" height="0.90" fill="#5a5a5a"/>
<rect x="388.20" y="290.38" width="22.40" height="1.50" fill="#737a77"/>
<rect x="239.00" y="300.33" width="99.00" height="0.90" fill="#5a5a5a"/>
<rect x="388.20" y="300.03" width="22.40" height="1.50" fill="#737a77"/>
<rect x="239.00" y="309.98" width="99.00" height="0.90" fill="#5a5a5a"/>
<rect x="388.20" y="309.68" width="22.40" height="1.50" fill="#737a77"/>
<rect x="239.00" y="319.63" width="99.00" height="0.90" fill="#5a5a5a"/>
<rect x="388.20" y="319.33" width="22.40" height="1.50" fill="#737a77"/>
<rect x="239.00" y="329.27" width="99.00" height="0.90" fill="#5a5a5a"/>
<rect x="388.20" y="328.97" width="22.40" height="1.50" fill="#737a77"/>
<rect x="239.00" y="338.92" width="99.00" height="0.90" fill="#5a5a5a"/>
<rect x="388.20" y="338.62" width="22.40" height="1.50" fill="#737a77"/>
<rect x="239.00" y="348.57" width="99.00" height="0.90" fill="#5a5a5a"/>
<rect x="388.20" y="348.27" width="22.40" height="1.50" fill="#737a77"/>
<rect x="239.00" y="358.22" width="99.00" height="0.90" fill="#5a5a5a"/>
<rect x="388.20" y="357.92" width="22.40" height="1.50" fill="#737a77"/>
<rect x="239.00" y="367.87" width="99.00" height="0.90" fill="#5a5a5a"/>
<rect x="388.20" y="367.57" width="22.40" height="1.50" fill="#737a77"/>
<rect x="239.00" y="377.51" width="99.00" height="0.90" fill="#5a5a5a"/>
<rect x="388.20" y="377.21" width="22.40" height="1.50" fill="#737a77"/>
<rect x="239.00" y="387.16" width="99.00" height="0.90" fill="#5a5a5a"/>
<rect x="388.20" y="386.86" width="22.40" height="1.50" fill="#737a77"/>
<rect x="239.00" y="396.81" width="99.00" height="0.90" fill="#5a5a5a"/>
<rect x="388.20" y="396.51" width="22.40" height="1.50" fill="#737a77"/>
<rect x="239.00" y="406.46" width="99.00" height="0.90" fill="#5a5a5a"/>
<rect x="388.20" y="406.16" width="22.40" height="1.50" fill="#737a77"/>
<rect x="239.00" y="416.11" width="99.00" height="0.90" fill="#5a5a5a"/>
<rect x="388.20" y="415.81" width="22.40" height="1.50" fill="#737a77"/>
<rect x="239.00" y="425.75" width="99.00" height="0.90" fill="#5a5a5a"/>
<rect x="388.20" y="425.45" width="22.40" height="1.50" fill="#737a77"/>
<rect x="239.00" y="435.40" width="99.00" height="0.90" fill="#5a5a5a"/>
<rect x="388.20" y="435.10" width="22.40" height="1.50" fill="#737a77"/>
<rect x="239.00" y="445.05" width="99.00" height="0.90" fill="#5a5a5a"/>
<rect x="388.20" y="444.75" width="22.40" height="1.50" fill="#737a77"/>
<rect x="239.00" y="454.70" width="99.00" height="0.90" fill="#5a5a5a"/>
<rect x="388.20" y="454.40" width="22.40" height="1.50" fill="#737a77"/>
<rect x="239.00" y="464.35" width="99.00" height="0.90" fill="#5a5a5a"/>
<rect x="388.20" y="464.05" width="22.40" height="1.50" fill="#737a77"/>
<rect x="239.00" y="473.99" width="99.00" height="0.90" fill="#5a5a5a"/>
<rect x="388.20" y="473.69" width="22.40" height="1.50" fill="#737a77"/>
<rect x="239.00" y="483.64" width="99.00" height="0.90" fill="#5a5a5a"/>
<rect x="388.20" y="483.34" width="22.40" height="1.50" fill="#737a77"/>
<rect x="239.00" y="493.29" width="99.00" height="0.90" fill="#5a5a5a"/>
<rect x="388.20" y="492.99" width="22.40" height="1.50" fill="#737a77"/>
<rect x="239.00" y="502.94" width="99.00" height="0.90" fill="#5a5a5a"/>
<rect x="388.20" y="502.64" width="22.40" height="1.50" fill="#737a77"/>
<rect x="239.00" y="512.59" width="99.00" height="0.90" fill="#5a5a5a"/>
<rect x="388.20" y="512.29" width="22.40" height="1.50" fill="#737a77"/>
<rect x="239.00" y="522.23" width="99.00" height="0.90" fill="#5a5a5a"/>
<rect x="388.20" y="521.93" width="22.40" height="1.50" fill="#737a77"/>
<rect x="239.00" y="531.88" width="99.00" height="0.90" fill="#5a5a5a"/>
<rect x="388.20" y="531.58" width="22.40" height="1.50" fill="#737a77"/>
<rect x="239.00" y="541.53" width="99.00" height="0.90" fill="#5a5a5a"/>
<rect x="388.20" y="541.23" width="22.40" height="1.50" fill="#737a77"/>
<rect x="239.00" y="551.18" width="99.00" height="0.90" fill="#5a5a5a"/>
<rect x="388.20" y="550.88" width="22.40" height="1.50" fill="#737a77"/>
<rect x="239.00" y="560.83" width="99.00" height="0.90" fill="#5a5a5a"/>
<rect x="388.20" y="560.53" width="22.40" height="1.50" fill="#737a77"/>
<rect x="239.00" y="570.47" width="99.00" height="0.90" fill="#5a5a5a"/>
<rect x="388.20" y="570.17" width="22.40" height="1.50" fill="#737a77"/>
<rect x="239.00" y="580.12" width="99.00" height="0.90" fill="#5a5a5a"/>
<rect x="388.20" y="579.82" width="22.40" height="1.50" fill="#737a77"/>
<rect x="239.00" y="589.77" width="99.00" height="0.90" fill="#5a5a5a"/>
<rect x="388.20" y="589.47" width="22.40" height="1.50" fill="#737a77"/>
<rect x="239.00" y="599.42" width="99.00" height="0.90" fill="#5a5a5a"/>
<rect x="388.20" y="599.12" width="22.40" height="1.50" fill="#737a77"/>
<rect x="239.00" y="609.07" width="99.00" height="0.90" fill="#5a5a5a"/>
<rect x="388.20" y="608.77" width="22.40" height="1.50" fill="#737a77"/>
<rect x="239.00" y="618.71" width="99.00" height="0.90" fill="#5a5a5a"/>
<rect x="388.20" y="618.41" width="22.40" height="1.50" fill="#737a77"/>
<rect x="239.00" y="628.36" width="99.00" height="0.90" fill="#5a5a5a"/>
<rect x="388.20" y="628.06" width="22.40" height="1.50" fill="#737a77"/>
<rect x="239.00" y="638.01" width="99.00" height="0.90" fill="#5a5a5a"/>
<rect x="388.20" y="637.71" width="22.40" height="1.50" fill="#737a77"/>
<rect x="239.00" y="647.66" width="99.00" height="0.90" fill="#5a5a5a"/>
<rect x="388.20" y="647.36" width="22.40" height="1.50" fill="#737a77"/>
<rect x="239.00" y="657.31" width="99.00" height="0.90" fill="#5a5a5a"/>
<rect x="388.20" y="657.01" width="22.40" height="1.50" fill="#737a77"/>
<rect x="239.00" y="666.95" width="99.00" height="0.90" fill="#5a5a5a"/>
<rect x="388.20" y="666.65" width="22.40" height="1.50" fill="#737a77"/>
<rect x="239.00" y="676.60" width="99.00" height="0.90" fill="#5a5a5a"/>
<rect x="388.20" y="676.30" width="22.40" height="1.50" fill="#737a77"/>
<rect x="239.00" y="686.25" width="99.00" height="0.90" fill="#5a5a5a"/>
<rect x="388.20" y="685.95" width="22.40" height="1.50" fill="#737a77"/>
<rect x="239.00" y="695.90" width="99.00" height="0.90" fill="#5a5a5a"/>
<rect x="388.20" y="695.60" width="22.40" height="1.50" fill="#737a77"/>
<rect x="239.00" y="705.55" width="99.00" height="0.90" fill="#5a5a5a"/>
<rect x="388.20" y="705.25" width="22.40" height="1.50" fill="#737a77"/>
<rect x="239.00" y="715.19" width="99.00" height="0.90" fill="#5a5a5a"/>
<rect x="388.20" y="714.89" width="22.40" height="1.50" fill="#737a77"/>
<rect x="239.00" y="724.84" width="99.00" height="0.90" fill="#5a5a5a"/>
<rect x="388.20" y="724.54" width="22.40" height="1.50" fill="#737a77"/>
<rect x="239.00" y="734.49" width="99.00" height="0.90" fill="#5a5a5a"/>
<rect x="388.20" y="734.19" width="22.40" height="1.50" fill="#737a77"/>
<rect x="239.00" y="744.14" width="99.00" height="0.90" fill="#5a5a5a"/>
<rect x="388.20" y="743.84" width="22.40" height="1.50" fill="#737a77"/>
<rect x="239.00" y="753.79" width="99.00" height="0.90" fill="#5a5a5a"/>
<rect x="388.20" y="753.49" width="22.40" height="1.50" fill="#737a77"/>
<rect x="239.00" y="763.43" width="99.00" height="0.90" fill="#5a5a5a"/>
<rect x="388.20" y="763.13" width="22.40" height="1.50" fill="#737a77"/>
<rect x="239.00" y="773.08" width="99.00" height="0.90" fill="#5a5a5a"/>
<rect x="388.20" y="772.78" width="22.40" height="1.50" fill="#737a77"/>
<rect x="239.00" y="782.73" width="99.00" height="0.90" fill="#5a5a5a"/>
<rect x="388.20" y="782.43" width="22.40" height="1.50" fill="#737a77"/>
<rect x="239.00" y="792.38" width="99.00" height="0.90" fill="#5a5a5a"/>
<rect x="388.20" y="792.08" width="22.40" height="1.50" fill="#737a77"/>
<rect x="239.00" y="802.03" width="99.00" height="0.90" fill="#5a5a5a"/>
<rect x="388.20" y="801.73" width="22.40" height="1.50" fill="#737a77"/>
<rect x="239.00" y="811.67" width="99.00" height="0.90" fill="#5a5a5a"/>
<rect x="388.20" y="811.37" width="22.40" height="1.50" fill="#737a77"/>
<rect x="239.00" y="821.32" width="99.00" height="0.90" fill="#5a5a5a"/>
<rect x="388.20" y="821.02" width="22.40" height="1.50" fill="#737a77"/>
<rect x="239.00" y="830.97" width="99.00" height="0.90" fill="#5a5a5a"/>
<rect x="388.20" y="830.67" width="22.40" height="1.50" fill="#737a77"/>
<rect x="239.00" y="840.62" width="99.00" height="0.90" fill="#5a5a5a"/>
<rect x="388.20" y="840.32" width="22.40" height="1.50" fill="#737a77"/>
<rect x="239.00" y="850.27" width="99.00" height="0.90" fill="#5a5a5a"/>
<rect x="388.20" y="849.97" width="22.40" height="1.50" fill="#737a77"/>
<rect x="239.00" y="859.91" width="99.00" height="0.90" fill="#5a5a5a"/>
<rect x="388.20" y="859.61" width="22.40" height="1.50" fill="#737a77"/>
<rect x="239.00" y="869.56" width="99.00" height="0.90" fill="#5a5a5a"/>
<rect x="388.20" y="869.26" width="22.40" height="1.50" fill="#737a77"/>
<rect x="239.00" y="879.21" width="99.00" height="0.90" fill="#5a5a5a"/>
<rect x="388.20" y="878.91" width="22.40" height="1.50" fill="#737a77"/>
<rect x="239.00" y="338.52" width="171.60" height="1.70" fill="#161616"/>
<rect x="239.00" y="473.59" width="171.60" height="1.70" fill="#161616"/>
<rect x="239.00" y="608.67" width="171.60" height="1.70" fill="#161616"/>
<rect x="239.00" y="753.39" width="171.60" height="1.70" fill="#161616"/>
<rect x="258.95" y="182.80" width="1.10" height="706.51" fill="#3c3c3c"/>
<rect x="278.45" y="182.80" width="1.10" height="706.51" fill="#3c3c3c"/>
<rect x="298.15" y="182.80" width="1.10" height="706.51" fill="#3c3c3c"/>
<rect x="337.15" y="182.80" width="1.70" height="706.51" fill="#161616"/>
<rect x="387.35" y="182.80" width="1.70" height="706.51" fill="#161616"/>
<rect x="239.00" y="181.85" width="171.60" height="1.90" fill="#161616"/>
<rect x="239.00" y="203.50" width="171.60" height="1.60" fill="#161616"/>
<rect x="338.00" y="193.00" width="50.20" height="1.00" fill="#161616"/>
<rect x="239.00" y="888.36" width="171.60" height="1.90" fill="#161616"/>
<text x="247.06" y="196.80" font-size="9.80" font-weight="bold" fill="#111" stroke="#111" stroke-width="0.40" transform="matrix(0.7290 0 0 1 66.953 0)">d</text>
<text x="263.72" y="191.60" font-size="9.20" font-weight="bold" fill="#111" stroke="#111" stroke-width="0.40" transform="matrix(0.4996 0 0 1 131.959 0)">Solid</text>
<text x="262.12" y="199.60" font-size="9.20" font-weight="bold" fill="#111" stroke="#111" stroke-width="0.40" transform="matrix(0.5067 0 0 1 129.308 0)">height</text>
<text x="286.70" y="192.30" font-size="8.20" font-weight="bold" fill="#111" stroke="#111" stroke-width="0.40" transform="matrix(0.8173 0 0 1 52.381 0)">F</text>
<text x="281.42" y="200.90" font-size="9.40" font-weight="bold" fill="#111" stroke="#111" stroke-width="0.40" transform="matrix(0.6945 0 0 1 85.976 0)">max.</text>
<text x="309.43" y="189.40" font-size="6.50" font-weight="bold" fill="#111" stroke="#111" stroke-width="0.40" transform="matrix(1.1867 0 0 1 -57.757 0)">Load</text>
<text x="306.36" y="195.80" font-size="6.50" font-weight="bold" fill="#111" stroke="#111" stroke-width="0.40" transform="matrix(0.8898 0 0 1 33.776 0)">N</text>
<text x="314.79" y="195.60" font-size="6.30" font-weight="bold" fill="#111" stroke="#111" stroke-width="0.40" transform="matrix(1.2635 0 0 1 -82.955 0)">kgf</text>
<path d="M313.95,190.9 q-0.8,2.6 0,5.4 M328.15,190.9 q0.8,2.6 0,5.4" stroke="#777" stroke-width="0.7" fill="none"/>
<text x="309.22" y="201.60" font-size="6.50" font-weight="bold" fill="#111" stroke="#111" stroke-width="0.40" transform="matrix(1.2339 0 0 1 -72.329 0)">max.</text>
<text x="341.98" y="190.90" font-size="8.30" font-weight="bold" fill="#111" stroke="#111" stroke-width="0.30" transform="matrix(0.8000 0 0 1 68.396 0)" letter-spacing="0.618">Catalog</text>
<text x="371.41" y="190.90" font-size="8.30" font-weight="bold" fill="#111" stroke="#111" stroke-width="0.30" transform="matrix(0.8000 0 0 1 74.281 0)" letter-spacing="1.128">No.</text>
<text x="344.88" y="201.20" font-size="8.30" font-weight="bold" fill="#111" stroke="#111" stroke-width="0.30" transform="matrix(0.8000 0 0 1 68.975 0)" letter-spacing="0.085">Type</text>
<text x="363.35" y="201.20" font-size="8.30" font-weight="bold" fill="#111" stroke="#111" stroke-width="0.30" transform="matrix(0.9037 0 0 1 34.994 0)">D</text>
<rect x="370.35" y="197.90" width="5.40" height="1.20" fill="#111"/>
<text x="377.10" y="201.20" font-size="8.30" font-weight="bold" fill="#111" stroke="#111" stroke-width="0.30" transform="matrix(0.9860 0 0 1 5.261 0)">L</text>
<text x="389.20" y="191.50" font-size="9.00" font-weight="bold" fill="#111" stroke="#111" stroke-width="0.40" transform="matrix(0.4975 0 0 1 195.563 0)">Base unit</text>
<text x="393.79" y="201.00" font-size="9.00" font-weight="bold" fill="#111" stroke="#111" stroke-width="0.40" transform="matrix(0.5143 0 0 1 191.264 0)">price</text>
<g font-size="9.80" fill="#141414" stroke="#141414" stroke-width="0.38">
<text x="241.40" y="212.40" textLength="15.83" lengthAdjust="spacingAndGlyphs">0.65</text>
<text x="269.30" y="212.40" textLength="6.54" lengthAdjust="spacingAndGlyphs">.7</text>
<text x="321.90" y="212.40" textLength="11.04" lengthAdjust="spacingAndGlyphs">0.4</text>
<text x="241.40" y="222.05" textLength="15.83" lengthAdjust="spacingAndGlyphs">0.75</text>
<text x="269.30" y="222.05" textLength="6.54" lengthAdjust="spacingAndGlyphs">.5</text>
<text x="321.90" y="222.05" textLength="11.17" lengthAdjust="spacingAndGlyphs">0.6</text>
<text x="241.40" y="231.70" textLength="15.83" lengthAdjust="spacingAndGlyphs">0.75</text>
<text x="269.30" y="231.70" textLength="6.54" lengthAdjust="spacingAndGlyphs">.5</text>
<text x="321.90" y="231.70" textLength="11.16" lengthAdjust="spacingAndGlyphs">0.8</text>
<text x="241.40" y="241.34" textLength="15.83" lengthAdjust="spacingAndGlyphs">0.75</text>
<text x="269.30" y="241.34" textLength="6.54" lengthAdjust="spacingAndGlyphs">.5</text>
<text x="321.90" y="241.34" textLength="11.17" lengthAdjust="spacingAndGlyphs">1.0</text>
<text x="241.40" y="250.99" textLength="11.31" lengthAdjust="spacingAndGlyphs">0.8</text>
<text x="269.30" y="250.99" textLength="6.42" lengthAdjust="spacingAndGlyphs">.2</text>
<text x="321.90" y="250.99" textLength="11.17" lengthAdjust="spacingAndGlyphs">1.2</text>
<text x="241.40" y="260.64" textLength="11.31" lengthAdjust="spacingAndGlyphs">0.8</text>
<text x="269.30" y="260.64" textLength="6.42" lengthAdjust="spacingAndGlyphs">.2</text>
<text x="321.90" y="260.64" textLength="11.17" lengthAdjust="spacingAndGlyphs">1.4</text>
<text x="241.40" y="270.29" textLength="11.31" lengthAdjust="spacingAndGlyphs">0.8</text>
<text x="269.30" y="270.29" textLength="6.42" lengthAdjust="spacingAndGlyphs">.2</text>
<text x="321.90" y="270.29" textLength="11.17" lengthAdjust="spacingAndGlyphs">1.6</text>
<text x="241.40" y="279.94" textLength="15.83" lengthAdjust="spacingAndGlyphs">0.85</text>
<text x="269.30" y="279.94" textLength="6.39" lengthAdjust="spacingAndGlyphs">.3</text>
<text x="321.90" y="279.94" textLength="11.17" lengthAdjust="spacingAndGlyphs">1.8</text>
<text x="241.40" y="289.58" textLength="15.83" lengthAdjust="spacingAndGlyphs">0.85</text>
<text x="269.30" y="289.58" textLength="6.39" lengthAdjust="spacingAndGlyphs">.3</text>
<text x="321.90" y="289.58" textLength="11.17" lengthAdjust="spacingAndGlyphs">2.0</text>
<text x="241.40" y="299.23" textLength="15.83" lengthAdjust="spacingAndGlyphs">0.85</text>
<text x="269.30" y="299.23" textLength="6.39" lengthAdjust="spacingAndGlyphs">.3</text>
<text x="321.90" y="299.23" textLength="11.17" lengthAdjust="spacingAndGlyphs">2.2</text>
<text x="241.40" y="308.88" textLength="11.31" lengthAdjust="spacingAndGlyphs">0.9</text>
<text x="269.30" y="308.88" textLength="6.34" lengthAdjust="spacingAndGlyphs">.4</text>
<text x="321.90" y="308.88" textLength="11.14" lengthAdjust="spacingAndGlyphs">2.4</text>
<text x="241.40" y="318.53" textLength="11.31" lengthAdjust="spacingAndGlyphs">0.9</text>
<text x="269.30" y="318.53" textLength="6.34" lengthAdjust="spacingAndGlyphs">.4</text>
<text x="321.90" y="318.53" textLength="11.17" lengthAdjust="spacingAndGlyphs">2.6</text>
<text x="241.40" y="328.18" textLength="11.31" lengthAdjust="spacingAndGlyphs">1.0</text>
<text x="321.90" y="328.18" textLength="11.17" lengthAdjust="spacingAndGlyphs">2.8</text>
<text x="241.40" y="337.82" textLength="11.31" lengthAdjust="spacingAndGlyphs">1.0</text>
<text x="321.90" y="337.82" textLength="11.17" lengthAdjust="spacingAndGlyphs">3.2</text>
<text x="241.40" y="347.47" textLength="15.83" lengthAdjust="spacingAndGlyphs">0.75</text>
<text x="269.30" y="347.47" textLength="6.54" lengthAdjust="spacingAndGlyphs">.3</text>
<text x="321.90" y="347.47" textLength="11.04" lengthAdjust="spacingAndGlyphs">0.4</text>
<text x="241.40" y="357.12" textLength="11.31" lengthAdjust="spacingAndGlyphs">0.8</text>
<text x="269.30" y="357.12" textLength="6.54" lengthAdjust="spacingAndGlyphs">.4</text>
<text x="321.90" y="357.12" textLength="11.17" lengthAdjust="spacingAndGlyphs">0.6</text>
<text x="241.40" y="366.77" textLength="11.31" lengthAdjust="spacingAndGlyphs">0.8</text>
<text x="269.30" y="366.77" textLength="6.54" lengthAdjust="spacingAndGlyphs">.4</text>
<text x="321.90" y="366.77" textLength="11.16" lengthAdjust="spacingAndGlyphs">0.8</text>
<text x="241.40" y="376.42" textLength="11.31" lengthAdjust="spacingAndGlyphs">0.9</text>
<text x="269.30" y="376.42" textLength="6.39" lengthAdjust="spacingAndGlyphs">.8</text>
<text x="321.90" y="376.42" textLength="11.17" lengthAdjust="spacingAndGlyphs">1.0</text>
<text x="241.40" y="386.06" textLength="11.31" lengthAdjust="spacingAndGlyphs">0.9</text>
<text x="269.30" y="386.06" textLength="6.39" lengthAdjust="spacingAndGlyphs">.8</text>
<text x="321.90" y="386.06" textLength="11.17" lengthAdjust="spacingAndGlyphs">1.2</text>
<text x="241.40" y="395.71" textLength="11.31" lengthAdjust="spacingAndGlyphs">0.9</text>
<text x="269.30" y="395.71" textLength="6.39" lengthAdjust="spacingAndGlyphs">.8</text>
<text x="321.90" y="395.71" textLength="11.17" lengthAdjust="spacingAndGlyphs">1.4</text>
<text x="241.40" y="405.36" textLength="11.31" lengthAdjust="spacingAndGlyphs">0.9</text>
<text x="269.30" y="405.36" textLength="6.39" lengthAdjust="spacingAndGlyphs">.8</text>
<text x="321.90" y="405.36" textLength="11.17" lengthAdjust="spacingAndGlyphs">1.6</text>
<text x="241.40" y="415.01" textLength="11.31" lengthAdjust="spacingAndGlyphs">1.0</text>
<text x="321.90" y="415.01" textLength="11.17" lengthAdjust="spacingAndGlyphs">1.8</text>
<text x="241.40" y="424.66" textLength="11.31" lengthAdjust="spacingAndGlyphs">1.0</text>
<text x="321.90" y="424.66" textLength="11.17" lengthAdjust="spacingAndGlyphs">2.0</text>
<text x="241.40" y="434.30" textLength="11.31" lengthAdjust="spacingAndGlyphs">1.0</text>
<text x="321.90" y="434.30" textLength="11.17" lengthAdjust="spacingAndGlyphs">2.2</text>
<text x="241.40" y="443.95" textLength="11.31" lengthAdjust="spacingAndGlyphs">1.0</text>
<text x="321.90" y="443.95" textLength="11.14" lengthAdjust="spacingAndGlyphs">2.4</text>
<text x="241.40" y="453.60" textLength="11.31" lengthAdjust="spacingAndGlyphs">1.1</text>
<text x="321.90" y="453.60" textLength="11.17" lengthAdjust="spacingAndGlyphs">2.6</text>
<text x="241.40" y="463.25" textLength="11.31" lengthAdjust="spacingAndGlyphs">1.1</text>
<text x="321.90" y="463.25" textLength="11.17" lengthAdjust="spacingAndGlyphs">2.8</text>
<text x="241.40" y="472.90" textLength="11.31" lengthAdjust="spacingAndGlyphs">1.1</text>
<text x="269.30" y="472.90" textLength="6.33" lengthAdjust="spacingAndGlyphs">.2</text>
<text x="321.90" y="472.90" textLength="11.17" lengthAdjust="spacingAndGlyphs">3.2</text>
<text x="241.40" y="482.54" textLength="11.31" lengthAdjust="spacingAndGlyphs">0.8</text>
<text x="269.30" y="482.54" textLength="6.54" lengthAdjust="spacingAndGlyphs">.8</text>
<text x="321.90" y="482.54" textLength="11.04" lengthAdjust="spacingAndGlyphs">0.4</text>
<text x="241.40" y="492.19" textLength="11.31" lengthAdjust="spacingAndGlyphs">0.9</text>
<text x="269.30" y="492.19" textLength="6.54" lengthAdjust="spacingAndGlyphs">.2</text>
<text x="321.90" y="492.19" textLength="11.17" lengthAdjust="spacingAndGlyphs">0.6</text>
<text x="241.40" y="501.84" textLength="11.31" lengthAdjust="spacingAndGlyphs">0.9</text>
<text x="269.30" y="501.84" textLength="6.54" lengthAdjust="spacingAndGlyphs">.2</text>
<text x="321.90" y="501.84" textLength="11.16" lengthAdjust="spacingAndGlyphs">0.8</text>
<text x="241.40" y="511.49" textLength="11.31" lengthAdjust="spacingAndGlyphs">0.9</text>
<text x="269.30" y="511.49" textLength="6.54" lengthAdjust="spacingAndGlyphs">.2</text>
<text x="321.90" y="511.49" textLength="11.17" lengthAdjust="spacingAndGlyphs">1.0</text>
<text x="241.40" y="521.14" textLength="11.31" lengthAdjust="spacingAndGlyphs">1.0</text>
<text x="269.30" y="521.14" textLength="6.39" lengthAdjust="spacingAndGlyphs">.5</text>
<text x="321.90" y="521.14" textLength="11.17" lengthAdjust="spacingAndGlyphs">1.2</text>
<text x="241.40" y="530.78" textLength="11.31" lengthAdjust="spacingAndGlyphs">1.0</text>
<text x="269.30" y="530.78" textLength="6.39" lengthAdjust="spacingAndGlyphs">.5</text>
<text x="321.90" y="530.78" textLength="11.17" lengthAdjust="spacingAndGlyphs">1.4</text>
<text x="241.40" y="540.43" textLength="11.31" lengthAdjust="spacingAndGlyphs">1.0</text>
<text x="269.30" y="540.43" textLength="6.39" lengthAdjust="spacingAndGlyphs">.5</text>
<text x="321.90" y="540.43" textLength="11.17" lengthAdjust="spacingAndGlyphs">1.6</text>
<text x="241.40" y="550.08" textLength="11.31" lengthAdjust="spacingAndGlyphs">1.1</text>
<text x="269.30" y="550.08" textLength="6.34" lengthAdjust="spacingAndGlyphs">.4</text>
<text x="321.90" y="550.08" textLength="11.17" lengthAdjust="spacingAndGlyphs">1.8</text>
<text x="241.40" y="559.73" textLength="11.31" lengthAdjust="spacingAndGlyphs">1.1</text>
<text x="269.30" y="559.73" textLength="6.34" lengthAdjust="spacingAndGlyphs">.4</text>
<text x="321.90" y="559.73" textLength="11.17" lengthAdjust="spacingAndGlyphs">2.0</text>
<text x="241.40" y="569.38" textLength="11.31" lengthAdjust="spacingAndGlyphs">1.1</text>
<text x="269.30" y="569.38" textLength="6.34" lengthAdjust="spacingAndGlyphs">.4</text>
<text x="321.90" y="569.38" textLength="11.17" lengthAdjust="spacingAndGlyphs">2.2</text>
<text x="241.40" y="579.02" textLength="11.31" lengthAdjust="spacingAndGlyphs">1.2</text>
<text x="269.30" y="579.02" textLength="6.30" lengthAdjust="spacingAndGlyphs">.8</text>
<text x="321.90" y="579.02" textLength="11.14" lengthAdjust="spacingAndGlyphs">2.4</text>
<text x="241.40" y="588.67" textLength="11.31" lengthAdjust="spacingAndGlyphs">1.2</text>
<text x="269.30" y="588.67" textLength="6.30" lengthAdjust="spacingAndGlyphs">.8</text>
<text x="321.90" y="588.67" textLength="11.17" lengthAdjust="spacingAndGlyphs">2.6</text>
<text x="241.40" y="598.32" textLength="11.31" lengthAdjust="spacingAndGlyphs">1.2</text>
<text x="269.30" y="598.32" textLength="6.30" lengthAdjust="spacingAndGlyphs">.8</text>
<text x="321.90" y="598.32" textLength="11.17" lengthAdjust="spacingAndGlyphs">2.8</text>
<text x="241.40" y="607.97" textLength="11.31" lengthAdjust="spacingAndGlyphs">1.3</text>
<text x="269.30" y="607.97" textLength="6.26" lengthAdjust="spacingAndGlyphs">.5</text>
<text x="321.90" y="607.97" textLength="11.17" lengthAdjust="spacingAndGlyphs">3.2</text>
<text x="241.40" y="617.62" textLength="15.83" lengthAdjust="spacingAndGlyphs">0.85</text>
<text x="269.30" y="617.62" textLength="6.54" lengthAdjust="spacingAndGlyphs">.1</text>
<text x="321.90" y="617.62" textLength="11.04" lengthAdjust="spacingAndGlyphs">0.4</text>
<text x="241.40" y="627.26" textLength="11.31" lengthAdjust="spacingAndGlyphs">0.9</text>
<text x="269.30" y="627.26" textLength="6.54" lengthAdjust="spacingAndGlyphs">.3</text>
<text x="321.90" y="627.26" textLength="11.17" lengthAdjust="spacingAndGlyphs">0.6</text>
<text x="241.40" y="636.91" textLength="11.31" lengthAdjust="spacingAndGlyphs">1.0</text>
<text x="269.30" y="636.91" textLength="6.54" lengthAdjust="spacingAndGlyphs">.7</text>
<text x="321.90" y="636.91" textLength="11.16" lengthAdjust="spacingAndGlyphs">0.8</text>
<text x="241.40" y="646.56" textLength="11.31" lengthAdjust="spacingAndGlyphs">1.0</text>
<text x="269.30" y="646.56" textLength="6.54" lengthAdjust="spacingAndGlyphs">.7</text>
<text x="321.90" y="646.56" textLength="11.17" lengthAdjust="spacingAndGlyphs">1.0</text>
<text x="241.40" y="656.21" textLength="11.31" lengthAdjust="spacingAndGlyphs">1.1</text>
<text x="269.30" y="656.21" textLength="6.42" lengthAdjust="spacingAndGlyphs">.2</text>
<text x="321.90" y="656.21" textLength="11.17" lengthAdjust="spacingAndGlyphs">1.2</text>
<text x="241.40" y="665.86" textLength="11.31" lengthAdjust="spacingAndGlyphs">1.1</text>
<text x="269.30" y="665.86" textLength="6.42" lengthAdjust="spacingAndGlyphs">.2</text>
<text x="321.90" y="665.86" textLength="11.17" lengthAdjust="spacingAndGlyphs">1.4</text>
<text x="241.40" y="675.50" textLength="11.31" lengthAdjust="spacingAndGlyphs">1.1</text>
<text x="269.30" y="675.50" textLength="6.42" lengthAdjust="spacingAndGlyphs">.2</text>
<text x="321.90" y="675.50" textLength="11.17" lengthAdjust="spacingAndGlyphs">1.6</text>
<text x="241.40" y="685.15" textLength="11.31" lengthAdjust="spacingAndGlyphs">1.1</text>
<text x="269.30" y="685.15" textLength="6.42" lengthAdjust="spacingAndGlyphs">.2</text>
<text x="321.90" y="685.15" textLength="11.17" lengthAdjust="spacingAndGlyphs">1.8</text>
<text x="241.40" y="694.80" textLength="11.31" lengthAdjust="spacingAndGlyphs">1.1</text>
<text x="269.30" y="694.80" textLength="6.42" lengthAdjust="spacingAndGlyphs">.2</text>
<text x="321.90" y="694.80" textLength="11.17" lengthAdjust="spacingAndGlyphs">2.0</text>
<text x="241.40" y="704.45" textLength="11.31" lengthAdjust="spacingAndGlyphs">1.1</text>
<text x="269.30" y="704.45" textLength="6.42" lengthAdjust="spacingAndGlyphs">.2</text>
<text x="321.90" y="704.45" textLength="11.17" lengthAdjust="spacingAndGlyphs">2.2</text>
<text x="241.40" y="714.10" textLength="11.31" lengthAdjust="spacingAndGlyphs">1.1</text>
<text x="269.30" y="714.10" textLength="6.42" lengthAdjust="spacingAndGlyphs">.2</text>
<text x="321.90" y="714.10" textLength="11.14" lengthAdjust="spacingAndGlyphs">2.4</text>
<text x="241.40" y="723.74" textLength="11.31" lengthAdjust="spacingAndGlyphs">1.2</text>
<text x="269.30" y="723.74" textLength="6.39" lengthAdjust="spacingAndGlyphs">.6</text>
<text x="321.90" y="723.74" textLength="11.17" lengthAdjust="spacingAndGlyphs">2.6</text>
<text x="241.40" y="733.39" textLength="11.31" lengthAdjust="spacingAndGlyphs">1.2</text>
<text x="269.30" y="733.39" textLength="6.39" lengthAdjust="spacingAndGlyphs">.6</text>
<text x="321.90" y="733.39" textLength="11.17" lengthAdjust="spacingAndGlyphs">2.8</text>
<text x="241.40" y="743.04" textLength="11.31" lengthAdjust="spacingAndGlyphs">1.4</text>
<text x="269.30" y="743.04" textLength="6.26" lengthAdjust="spacingAndGlyphs">.8</text>
<text x="321.90" y="743.04" textLength="11.17" lengthAdjust="spacingAndGlyphs">3.2</text>
<text x="241.40" y="752.69" textLength="11.31" lengthAdjust="spacingAndGlyphs">1.4</text>
<text x="269.30" y="752.69" textLength="6.26" lengthAdjust="spacingAndGlyphs">.8</text>
<text x="321.90" y="752.69" textLength="11.16" lengthAdjust="spacingAndGlyphs">3.6</text>
<text x="241.40" y="762.34" textLength="11.31" lengthAdjust="spacingAndGlyphs">1.0</text>
<text x="269.30" y="762.34" textLength="6.54" lengthAdjust="spacingAndGlyphs">.5</text>
<text x="321.90" y="762.34" textLength="11.17" lengthAdjust="spacingAndGlyphs">0.6</text>
<text x="241.40" y="771.98" textLength="11.31" lengthAdjust="spacingAndGlyphs">1.0</text>
<text x="269.30" y="771.98" textLength="6.54" lengthAdjust="spacingAndGlyphs">.5</text>
<text x="321.90" y="771.98" textLength="11.16" lengthAdjust="spacingAndGlyphs">0.8</text>
<text x="241.40" y="781.63" textLength="11.31" lengthAdjust="spacingAndGlyphs">1.0</text>
<text x="269.30" y="781.63" textLength="6.54" lengthAdjust="spacingAndGlyphs">.5</text>
<text x="321.90" y="781.63" textLength="11.17" lengthAdjust="spacingAndGlyphs">1.0</text>
<text x="241.40" y="791.28" textLength="11.31" lengthAdjust="spacingAndGlyphs">1.1</text>
<text x="321.90" y="791.28" textLength="11.17" lengthAdjust="spacingAndGlyphs">1.2</text>
<text x="241.40" y="800.93" textLength="11.31" lengthAdjust="spacingAndGlyphs">1.1</text>
<text x="321.90" y="800.93" textLength="11.17" lengthAdjust="spacingAndGlyphs">1.4</text>
<text x="241.40" y="810.58" textLength="11.31" lengthAdjust="spacingAndGlyphs">1.1</text>
<text x="321.90" y="810.58" textLength="11.17" lengthAdjust="spacingAndGlyphs">1.6</text>
<text x="241.40" y="820.22" textLength="11.31" lengthAdjust="spacingAndGlyphs">1.2</text>
<text x="269.30" y="820.22" textLength="6.39" lengthAdjust="spacingAndGlyphs">.6</text>
<text x="321.90" y="820.22" textLength="11.17" lengthAdjust="spacingAndGlyphs">1.8</text>
<text x="241.40" y="829.87" textLength="11.31" lengthAdjust="spacingAndGlyphs">1.2</text>
<text x="269.30" y="829.87" textLength="6.39" lengthAdjust="spacingAndGlyphs">.6</text>
<text x="321.90" y="829.87" textLength="11.17" lengthAdjust="spacingAndGlyphs">2.0</text>
<text x="241.40" y="839.52" textLength="11.31" lengthAdjust="spacingAndGlyphs">1.2</text>
<text x="269.30" y="839.52" textLength="6.39" lengthAdjust="spacingAndGlyphs">.6</text>
<text x="321.90" y="839.52" textLength="11.17" lengthAdjust="spacingAndGlyphs">2.2</text>
<text x="241.40" y="849.17" textLength="11.31" lengthAdjust="spacingAndGlyphs">1.2</text>
<text x="269.30" y="849.17" textLength="6.39" lengthAdjust="spacingAndGlyphs">.6</text>
<text x="321.90" y="849.17" textLength="11.14" lengthAdjust="spacingAndGlyphs">2.4</text>
<text x="241.40" y="858.82" textLength="11.31" lengthAdjust="spacingAndGlyphs">1.3</text>
<text x="269.30" y="858.82" textLength="6.32" lengthAdjust="spacingAndGlyphs">.1</text>
<text x="321.90" y="858.82" textLength="11.17" lengthAdjust="spacingAndGlyphs">2.6</text>
<text x="241.40" y="868.46" textLength="11.31" lengthAdjust="spacingAndGlyphs">1.3</text>
<text x="269.30" y="868.46" textLength="6.32" lengthAdjust="spacingAndGlyphs">.1</text>
<text x="321.90" y="868.46" textLength="11.17" lengthAdjust="spacingAndGlyphs">2.8</text>
<text x="241.40" y="878.11" textLength="11.31" lengthAdjust="spacingAndGlyphs">1.3</text>
<text x="269.30" y="878.11" textLength="6.32" lengthAdjust="spacingAndGlyphs">.1</text>
<text x="321.90" y="878.11" textLength="11.17" lengthAdjust="spacingAndGlyphs">3.2</text>
<text x="241.40" y="887.76" textLength="11.31" lengthAdjust="spacingAndGlyphs">1.5</text>
<text x="269.30" y="887.76" textLength="6.21" lengthAdjust="spacingAndGlyphs">.5</text>
<text x="321.90" y="887.76" textLength="11.16" lengthAdjust="spacingAndGlyphs">3.6</text>
</g>
<g font-size="9.80" fill="#141414" stroke="#141414" stroke-width="0.38" text-anchor="end">
<text x="269.30" y="212.40" textLength="4.36" lengthAdjust="spacingAndGlyphs">4</text>
<text x="292.90" y="212.40" textLength="4.63" lengthAdjust="spacingAndGlyphs">4</text>
<text x="318.90" y="212.40" textLength="11.17" lengthAdjust="spacingAndGlyphs">3.9</text>
<text x="269.30" y="222.05" textLength="4.36" lengthAdjust="spacingAndGlyphs">8</text>
<text x="292.90" y="222.05" textLength="4.63" lengthAdjust="spacingAndGlyphs">6</text>
<text x="318.90" y="222.05" textLength="11.17" lengthAdjust="spacingAndGlyphs">5.9</text>
<text x="269.30" y="231.70" textLength="4.36" lengthAdjust="spacingAndGlyphs">8</text>
<text x="292.90" y="231.70" textLength="4.63" lengthAdjust="spacingAndGlyphs">8</text>
<text x="318.90" y="231.70" textLength="11.17" lengthAdjust="spacingAndGlyphs">7.8</text>
<text x="269.30" y="241.34" textLength="4.36" lengthAdjust="spacingAndGlyphs">8</text>
<text x="292.90" y="241.34" textLength="9.27" lengthAdjust="spacingAndGlyphs">10</text>
<text x="318.90" y="241.34" textLength="11.17" lengthAdjust="spacingAndGlyphs">9.8</text>
<text x="269.30" y="250.99" textLength="8.56" lengthAdjust="spacingAndGlyphs">11</text>
<text x="292.90" y="250.99" textLength="9.27" lengthAdjust="spacingAndGlyphs">12</text>
<text x="318.90" y="250.99" textLength="15.45" lengthAdjust="spacingAndGlyphs">11.8</text>
<text x="269.30" y="260.64" textLength="8.56" lengthAdjust="spacingAndGlyphs">11</text>
<text x="292.90" y="260.64" textLength="9.27" lengthAdjust="spacingAndGlyphs">14</text>
<text x="318.90" y="260.64" textLength="15.51" lengthAdjust="spacingAndGlyphs">13.7</text>
<text x="269.30" y="270.29" textLength="8.56" lengthAdjust="spacingAndGlyphs">11</text>
<text x="292.90" y="270.29" textLength="9.27" lengthAdjust="spacingAndGlyphs">16</text>
<text x="318.90" y="270.29" textLength="15.51" lengthAdjust="spacingAndGlyphs">15.7</text>
<text x="269.30" y="279.94" textLength="8.53" lengthAdjust="spacingAndGlyphs">15</text>
<text x="292.90" y="279.94" textLength="9.27" lengthAdjust="spacingAndGlyphs">18</text>
<text x="318.90" y="279.94" textLength="15.51" lengthAdjust="spacingAndGlyphs">17.7</text>
<text x="269.30" y="289.58" textLength="8.53" lengthAdjust="spacingAndGlyphs">15</text>
<text x="292.90" y="289.58" textLength="9.27" lengthAdjust="spacingAndGlyphs">20</text>
<text x="318.90" y="289.58" textLength="15.45" lengthAdjust="spacingAndGlyphs">19.6</text>
<text x="269.30" y="299.23" textLength="8.53" lengthAdjust="spacingAndGlyphs">15</text>
<text x="292.90" y="299.23" textLength="9.27" lengthAdjust="spacingAndGlyphs">22</text>
<text x="318.90" y="299.23" textLength="15.24" lengthAdjust="spacingAndGlyphs">21.6</text>
<text x="269.30" y="308.88" textLength="8.46" lengthAdjust="spacingAndGlyphs">19</text>
<text x="292.90" y="308.88" textLength="9.27" lengthAdjust="spacingAndGlyphs">24</text>
<text x="318.90" y="308.88" textLength="15.22" lengthAdjust="spacingAndGlyphs">23.5</text>
<text x="269.30" y="318.53" textLength="8.46" lengthAdjust="spacingAndGlyphs">19</text>
<text x="292.90" y="318.53" textLength="9.27" lengthAdjust="spacingAndGlyphs">26</text>
<text x="318.90" y="318.53" textLength="15.22" lengthAdjust="spacingAndGlyphs">25.5</text>
<text x="269.30" y="328.18" textLength="8.72" lengthAdjust="spacingAndGlyphs">31</text>
<text x="292.90" y="328.18" textLength="9.27" lengthAdjust="spacingAndGlyphs">28</text>
<text x="318.90" y="328.18" textLength="15.22" lengthAdjust="spacingAndGlyphs">27.5</text>
<text x="269.30" y="337.82" textLength="8.72" lengthAdjust="spacingAndGlyphs">31</text>
<text x="292.90" y="337.82" textLength="9.27" lengthAdjust="spacingAndGlyphs">32</text>
<text x="318.90" y="337.82" textLength="15.02" lengthAdjust="spacingAndGlyphs">31.4</text>
<text x="269.30" y="347.47" textLength="4.36" lengthAdjust="spacingAndGlyphs">5</text>
<text x="292.90" y="347.47" textLength="4.63" lengthAdjust="spacingAndGlyphs">4</text>
<text x="318.90" y="347.47" textLength="11.17" lengthAdjust="spacingAndGlyphs">3.9</text>
<text x="269.30" y="357.12" textLength="4.36" lengthAdjust="spacingAndGlyphs">6</text>
<text x="292.90" y="357.12" textLength="4.63" lengthAdjust="spacingAndGlyphs">6</text>
<text x="318.90" y="357.12" textLength="11.17" lengthAdjust="spacingAndGlyphs">5.9</text>
<text x="269.30" y="366.77" textLength="4.36" lengthAdjust="spacingAndGlyphs">6</text>
<text x="292.90" y="366.77" textLength="4.63" lengthAdjust="spacingAndGlyphs">8</text>
<text x="318.90" y="366.77" textLength="11.17" lengthAdjust="spacingAndGlyphs">7.8</text>
<text x="269.30" y="376.42" textLength="8.52" lengthAdjust="spacingAndGlyphs">10</text>
<text x="292.90" y="376.42" textLength="9.27" lengthAdjust="spacingAndGlyphs">10</text>
<text x="318.90" y="376.42" textLength="11.17" lengthAdjust="spacingAndGlyphs">9.8</text>
<text x="269.30" y="386.06" textLength="8.52" lengthAdjust="spacingAndGlyphs">10</text>
<text x="292.90" y="386.06" textLength="9.27" lengthAdjust="spacingAndGlyphs">12</text>
<text x="318.90" y="386.06" textLength="15.45" lengthAdjust="spacingAndGlyphs">11.8</text>
<text x="269.30" y="395.71" textLength="8.52" lengthAdjust="spacingAndGlyphs">10</text>
<text x="292.90" y="395.71" textLength="9.27" lengthAdjust="spacingAndGlyphs">14</text>
<text x="318.90" y="395.71" textLength="15.51" lengthAdjust="spacingAndGlyphs">13.7</text>
<text x="269.30" y="405.36" textLength="8.52" lengthAdjust="spacingAndGlyphs">10</text>
<text x="292.90" y="405.36" textLength="9.27" lengthAdjust="spacingAndGlyphs">16</text>
<text x="318.90" y="405.36" textLength="15.51" lengthAdjust="spacingAndGlyphs">15.7</text>
<text x="269.30" y="415.01" textLength="8.72" lengthAdjust="spacingAndGlyphs">17</text>
<text x="292.90" y="415.01" textLength="9.27" lengthAdjust="spacingAndGlyphs">18</text>
<text x="318.90" y="415.01" textLength="15.51" lengthAdjust="spacingAndGlyphs">17.7</text>
<text x="269.30" y="424.66" textLength="8.72" lengthAdjust="spacingAndGlyphs">17</text>
<text x="292.90" y="424.66" textLength="9.27" lengthAdjust="spacingAndGlyphs">20</text>
<text x="318.90" y="424.66" textLength="15.45" lengthAdjust="spacingAndGlyphs">19.6</text>
<text x="269.30" y="434.30" textLength="8.72" lengthAdjust="spacingAndGlyphs">17</text>
<text x="292.90" y="434.30" textLength="9.27" lengthAdjust="spacingAndGlyphs">22</text>
<text x="318.90" y="434.30" textLength="15.24" lengthAdjust="spacingAndGlyphs">21.6</text>
<text x="269.30" y="443.95" textLength="8.72" lengthAdjust="spacingAndGlyphs">17</text>
<text x="292.90" y="443.95" textLength="9.27" lengthAdjust="spacingAndGlyphs">24</text>
<text x="318.90" y="443.95" textLength="15.22" lengthAdjust="spacingAndGlyphs">23.5</text>
<text x="269.30" y="453.60" textLength="8.72" lengthAdjust="spacingAndGlyphs">24</text>
<text x="292.90" y="453.60" textLength="9.27" lengthAdjust="spacingAndGlyphs">26</text>
<text x="318.90" y="453.60" textLength="15.22" lengthAdjust="spacingAndGlyphs">25.5</text>
<text x="269.30" y="463.25" textLength="8.72" lengthAdjust="spacingAndGlyphs">24</text>
<text x="292.90" y="463.25" textLength="9.27" lengthAdjust="spacingAndGlyphs">28</text>
<text x="318.90" y="463.25" textLength="15.22" lengthAdjust="spacingAndGlyphs">27.5</text>
<text x="269.30" y="472.90" textLength="8.44" lengthAdjust="spacingAndGlyphs">24</text>
<text x="292.90" y="472.90" textLength="9.27" lengthAdjust="spacingAndGlyphs">32</text>
<text x="318.90" y="472.90" textLength="15.02" lengthAdjust="spacingAndGlyphs">31.4</text>
<text x="269.30" y="482.54" textLength="4.36" lengthAdjust="spacingAndGlyphs">4</text>
<text x="292.90" y="482.54" textLength="4.63" lengthAdjust="spacingAndGlyphs">4</text>
<text x="318.90" y="482.54" textLength="11.17" lengthAdjust="spacingAndGlyphs">4.0</text>
<text x="269.30" y="492.19" textLength="4.36" lengthAdjust="spacingAndGlyphs">7</text>
<text x="292.90" y="492.19" textLength="4.63" lengthAdjust="spacingAndGlyphs">6</text>
<text x="318.90" y="492.19" textLength="11.17" lengthAdjust="spacingAndGlyphs">5.9</text>
<text x="269.30" y="501.84" textLength="4.36" lengthAdjust="spacingAndGlyphs">7</text>
<text x="292.90" y="501.84" textLength="4.63" lengthAdjust="spacingAndGlyphs">8</text>
<text x="318.90" y="501.84" textLength="11.17" lengthAdjust="spacingAndGlyphs">7.8</text>
<text x="269.30" y="511.49" textLength="4.36" lengthAdjust="spacingAndGlyphs">7</text>
<text x="292.90" y="511.49" textLength="9.27" lengthAdjust="spacingAndGlyphs">10</text>
<text x="318.90" y="511.49" textLength="11.17" lengthAdjust="spacingAndGlyphs">9.8</text>
<text x="269.30" y="521.14" textLength="8.52" lengthAdjust="spacingAndGlyphs">10</text>
<text x="292.90" y="521.14" textLength="9.27" lengthAdjust="spacingAndGlyphs">12</text>
<text x="318.90" y="521.14" textLength="15.45" lengthAdjust="spacingAndGlyphs">11.8</text>
<text x="269.30" y="530.78" textLength="8.52" lengthAdjust="spacingAndGlyphs">10</text>
<text x="292.90" y="530.78" textLength="9.27" lengthAdjust="spacingAndGlyphs">14</text>
<text x="318.90" y="530.78" textLength="15.51" lengthAdjust="spacingAndGlyphs">13.7</text>
<text x="269.30" y="540.43" textLength="8.52" lengthAdjust="spacingAndGlyphs">10</text>
<text x="292.90" y="540.43" textLength="9.27" lengthAdjust="spacingAndGlyphs">16</text>
<text x="318.90" y="540.43" textLength="15.51" lengthAdjust="spacingAndGlyphs">15.7</text>
<text x="269.30" y="550.08" textLength="8.46" lengthAdjust="spacingAndGlyphs">15</text>
<text x="292.90" y="550.08" textLength="9.27" lengthAdjust="spacingAndGlyphs">18</text>
<text x="318.90" y="550.08" textLength="15.51" lengthAdjust="spacingAndGlyphs">17.7</text>
<text x="269.30" y="559.73" textLength="8.46" lengthAdjust="spacingAndGlyphs">15</text>
<text x="292.90" y="559.73" textLength="9.27" lengthAdjust="spacingAndGlyphs">20</text>
<text x="318.90" y="559.73" textLength="15.45" lengthAdjust="spacingAndGlyphs">19.6</text>
<text x="269.30" y="569.38" textLength="8.46" lengthAdjust="spacingAndGlyphs">15</text>
<text x="292.90" y="569.38" textLength="9.27" lengthAdjust="spacingAndGlyphs">22</text>
<text x="318.90" y="569.38" textLength="15.24" lengthAdjust="spacingAndGlyphs">21.6</text>
<text x="269.30" y="579.02" textLength="8.41" lengthAdjust="spacingAndGlyphs">22</text>
<text x="292.90" y="579.02" textLength="9.27" lengthAdjust="spacingAndGlyphs">24</text>
<text x="318.90" y="579.02" textLength="15.22" lengthAdjust="spacingAndGlyphs">23.5</text>
<text x="269.30" y="588.67" textLength="8.41" lengthAdjust="spacingAndGlyphs">22</text>
<text x="292.90" y="588.67" textLength="9.27" lengthAdjust="spacingAndGlyphs">26</text>
<text x="318.90" y="588.67" textLength="15.22" lengthAdjust="spacingAndGlyphs">25.5</text>
<text x="269.30" y="598.32" textLength="8.41" lengthAdjust="spacingAndGlyphs">22</text>
<text x="292.90" y="598.32" textLength="9.27" lengthAdjust="spacingAndGlyphs">28</text>
<text x="318.90" y="598.32" textLength="15.22" lengthAdjust="spacingAndGlyphs">27.5</text>
<text x="269.30" y="607.97" textLength="8.34" lengthAdjust="spacingAndGlyphs">34</text>
<text x="292.90" y="607.97" textLength="9.27" lengthAdjust="spacingAndGlyphs">32</text>
<text x="318.90" y="607.97" textLength="15.02" lengthAdjust="spacingAndGlyphs">31.4</text>
<text x="269.30" y="617.62" textLength="4.36" lengthAdjust="spacingAndGlyphs">5</text>
<text x="292.90" y="617.62" textLength="4.63" lengthAdjust="spacingAndGlyphs">4</text>
<text x="318.90" y="617.62" textLength="11.17" lengthAdjust="spacingAndGlyphs">4.0</text>
<text x="269.30" y="627.26" textLength="4.36" lengthAdjust="spacingAndGlyphs">6</text>
<text x="292.90" y="627.26" textLength="4.63" lengthAdjust="spacingAndGlyphs">6</text>
<text x="318.90" y="627.26" textLength="11.17" lengthAdjust="spacingAndGlyphs">5.9</text>
<text x="269.30" y="636.91" textLength="4.36" lengthAdjust="spacingAndGlyphs">8</text>
<text x="292.90" y="636.91" textLength="4.63" lengthAdjust="spacingAndGlyphs">8</text>
<text x="318.90" y="636.91" textLength="11.17" lengthAdjust="spacingAndGlyphs">7.8</text>
<text x="269.30" y="646.56" textLength="4.36" lengthAdjust="spacingAndGlyphs">8</text>
<text x="292.90" y="646.56" textLength="9.27" lengthAdjust="spacingAndGlyphs">10</text>
<text x="318.90" y="646.56" textLength="11.17" lengthAdjust="spacingAndGlyphs">9.8</text>
<text x="269.30" y="656.21" textLength="8.56" lengthAdjust="spacingAndGlyphs">13</text>
<text x="292.90" y="656.21" textLength="9.27" lengthAdjust="spacingAndGlyphs">12</text>
<text x="318.90" y="656.21" textLength="15.45" lengthAdjust="spacingAndGlyphs">11.8</text>
<text x="269.30" y="665.86" textLength="8.56" lengthAdjust="spacingAndGlyphs">13</text>
<text x="292.90" y="665.86" textLength="9.27" lengthAdjust="spacingAndGlyphs">14</text>
<text x="318.90" y="665.86" textLength="15.51" lengthAdjust="spacingAndGlyphs">13.7</text>
<text x="269.30" y="675.50" textLength="8.56" lengthAdjust="spacingAndGlyphs">13</text>
<text x="292.90" y="675.50" textLength="9.27" lengthAdjust="spacingAndGlyphs">16</text>
<text x="318.90" y="675.50" textLength="15.51" lengthAdjust="spacingAndGlyphs">15.7</text>
<text x="269.30" y="685.15" textLength="8.56" lengthAdjust="spacingAndGlyphs">13</text>
<text x="292.90" y="685.15" textLength="9.27" lengthAdjust="spacingAndGlyphs">18</text>
<text x="318.90" y="685.15" textLength="15.51" lengthAdjust="spacingAndGlyphs">17.7</text>
<text x="269.30" y="694.80" textLength="8.56" lengthAdjust="spacingAndGlyphs">13</text>
<text x="292.90" y="694.80" textLength="9.27" lengthAdjust="spacingAndGlyphs">20</text>
<text x="318.90" y="694.80" textLength="15.45" lengthAdjust="spacingAndGlyphs">19.6</text>
<text x="269.30" y="704.45" textLength="8.56" lengthAdjust="spacingAndGlyphs">13</text>
<text x="292.90" y="704.45" textLength="9.27" lengthAdjust="spacingAndGlyphs">22</text>
<text x="318.90" y="704.45" textLength="15.24" lengthAdjust="spacingAndGlyphs">21.6</text>
<text x="269.30" y="714.10" textLength="8.56" lengthAdjust="spacingAndGlyphs">13</text>
<text x="292.90" y="714.10" textLength="9.27" lengthAdjust="spacingAndGlyphs">24</text>
<text x="318.90" y="714.10" textLength="15.22" lengthAdjust="spacingAndGlyphs">23.5</text>
<text x="269.30" y="723.74" textLength="8.53" lengthAdjust="spacingAndGlyphs">18</text>
<text x="292.90" y="723.74" textLength="9.27" lengthAdjust="spacingAndGlyphs">26</text>
<text x="318.90" y="723.74" textLength="15.22" lengthAdjust="spacingAndGlyphs">25.5</text>
<text x="269.30" y="733.39" textLength="8.53" lengthAdjust="spacingAndGlyphs">18</text>
<text x="292.90" y="733.39" textLength="9.27" lengthAdjust="spacingAndGlyphs">28</text>
<text x="318.90" y="733.39" textLength="15.22" lengthAdjust="spacingAndGlyphs">27.5</text>
<text x="269.30" y="743.04" textLength="8.35" lengthAdjust="spacingAndGlyphs">37</text>
<text x="292.90" y="743.04" textLength="9.27" lengthAdjust="spacingAndGlyphs">32</text>
<text x="318.90" y="743.04" textLength="15.02" lengthAdjust="spacingAndGlyphs">31.4</text>
<text x="269.30" y="752.69" textLength="8.35" lengthAdjust="spacingAndGlyphs">37</text>
<text x="292.90" y="752.69" textLength="9.27" lengthAdjust="spacingAndGlyphs">36</text>
<text x="318.90" y="752.69" textLength="15.14" lengthAdjust="spacingAndGlyphs">35.3</text>
<text x="269.30" y="762.34" textLength="4.36" lengthAdjust="spacingAndGlyphs">7</text>
<text x="292.90" y="762.34" textLength="4.63" lengthAdjust="spacingAndGlyphs">6</text>
<text x="318.90" y="762.34" textLength="11.17" lengthAdjust="spacingAndGlyphs">5.9</text>
<text x="269.30" y="771.98" textLength="4.36" lengthAdjust="spacingAndGlyphs">7</text>
<text x="292.90" y="771.98" textLength="4.63" lengthAdjust="spacingAndGlyphs">8</text>
<text x="318.90" y="771.98" textLength="11.17" lengthAdjust="spacingAndGlyphs">7.8</text>
<text x="269.30" y="781.63" textLength="4.36" lengthAdjust="spacingAndGlyphs">7</text>
<text x="292.90" y="781.63" textLength="9.27" lengthAdjust="spacingAndGlyphs">10</text>
<text x="318.90" y="781.63" textLength="11.17" lengthAdjust="spacingAndGlyphs">9.8</text>
<text x="269.30" y="791.28" textLength="8.72" lengthAdjust="spacingAndGlyphs">11</text>
<text x="292.90" y="791.28" textLength="9.27" lengthAdjust="spacingAndGlyphs">12</text>
<text x="318.90" y="791.28" textLength="15.45" lengthAdjust="spacingAndGlyphs">11.8</text>
<text x="269.30" y="800.93" textLength="8.72" lengthAdjust="spacingAndGlyphs">11</text>
<text x="292.90" y="800.93" textLength="9.27" lengthAdjust="spacingAndGlyphs">14</text>
<text x="318.90" y="800.93" textLength="15.51" lengthAdjust="spacingAndGlyphs">13.7</text>
<text x="269.30" y="810.58" textLength="8.72" lengthAdjust="spacingAndGlyphs">11</text>
<text x="292.90" y="810.58" textLength="9.27" lengthAdjust="spacingAndGlyphs">16</text>
<text x="318.90" y="810.58" textLength="15.51" lengthAdjust="spacingAndGlyphs">15.7</text>
<text x="269.30" y="820.22" textLength="8.53" lengthAdjust="spacingAndGlyphs">15</text>
<text x="292.90" y="820.22" textLength="9.27" lengthAdjust="spacingAndGlyphs">18</text>
<text x="318.90" y="820.22" textLength="15.51" lengthAdjust="spacingAndGlyphs">17.7</text>
<text x="269.30" y="829.87" textLength="8.53" lengthAdjust="spacingAndGlyphs">15</text>
<text x="292.90" y="829.87" textLength="9.27" lengthAdjust="spacingAndGlyphs">20</text>
<text x="318.90" y="829.87" textLength="15.45" lengthAdjust="spacingAndGlyphs">19.6</text>
<text x="269.30" y="839.52" textLength="8.53" lengthAdjust="spacingAndGlyphs">15</text>
<text x="292.90" y="839.52" textLength="9.27" lengthAdjust="spacingAndGlyphs">22</text>
<text x="318.90" y="839.52" textLength="15.24" lengthAdjust="spacingAndGlyphs">21.6</text>
<text x="269.30" y="849.17" textLength="8.53" lengthAdjust="spacingAndGlyphs">15</text>
<text x="292.90" y="849.17" textLength="9.27" lengthAdjust="spacingAndGlyphs">24</text>
<text x="318.90" y="849.17" textLength="15.22" lengthAdjust="spacingAndGlyphs">23.5</text>
<text x="269.30" y="858.82" textLength="8.43" lengthAdjust="spacingAndGlyphs">22</text>
<text x="292.90" y="858.82" textLength="9.27" lengthAdjust="spacingAndGlyphs">26</text>
<text x="318.90" y="858.82" textLength="15.22" lengthAdjust="spacingAndGlyphs">25.5</text>
<text x="269.30" y="868.46" textLength="8.43" lengthAdjust="spacingAndGlyphs">22</text>
<text x="292.90" y="868.46" textLength="9.27" lengthAdjust="spacingAndGlyphs">28</text>
<text x="318.90" y="868.46" textLength="15.22" lengthAdjust="spacingAndGlyphs">27.5</text>
<text x="269.30" y="878.11" textLength="8.43" lengthAdjust="spacingAndGlyphs">22</text>
<text x="292.90" y="878.11" textLength="9.27" lengthAdjust="spacingAndGlyphs">32</text>
<text x="318.90" y="878.11" textLength="15.02" lengthAdjust="spacingAndGlyphs">31.4</text>
<text x="269.30" y="887.76" textLength="8.28" lengthAdjust="spacingAndGlyphs">43</text>
<text x="292.90" y="887.76" textLength="9.27" lengthAdjust="spacingAndGlyphs">36</text>
<text x="318.90" y="887.76" textLength="15.14" lengthAdjust="spacingAndGlyphs">35.3</text>
</g>
<path d="M321.20,205.40 q-0.6,3.8 0,7.6 M334.30,205.40 q0.6,3.8 0,7.6 M321.20,215.05 q-0.6,3.8 0,7.6 M334.30,215.05 q0.6,3.8 0,7.6 M321.20,224.70 q-0.6,3.8 0,7.6 M334.30,224.70 q0.6,3.8 0,7.6 M321.20,234.34 q-0.6,3.8 0,7.6 M334.30,234.34 q0.6,3.8 0,7.6 M321.20,243.99 q-0.6,3.8 0,7.6 M334.30,243.99 q0.6,3.8 0,7.6 M321.20,253.64 q-0.6,3.8 0,7.6 M334.30,253.64 q0.6,3.8 0,7.6 M321.20,263.29 q-0.6,3.8 0,7.6 M334.30,263.29 q0.6,3.8 0,7.6 M321.20,272.94 q-0.6,3.8 0,7.6 M334.30,272.94 q0.6,3.8 0,7.6 M321.20,282.58 q-0.6,3.8 0,7.6 M334.30,282.58 q0.6,3.8 0,7.6 M321.20,292.23 q-0.6,3.8 0,7.6 M334.30,292.23 q0.6,3.8 0,7.6 M321.20,301.88 q-0.6,3.8 0,7.6 M334.30,301.88 q0.6,3.8 0,7.6 M321.20,311.53 q-0.6,3.8 0,7.6 M334.30,311.53 q0.6,3.8 0,7.6 M321.20,321.18 q-0.6,3.8 0,7.6 M334.30,321.18 q0.6,3.8 0,7.6 M321.20,330.82 q-0.6,3.8 0,7.6 M334.30,330.82 q0.6,3.8 0,7.6 M321.20,340.47 q-0.6,3.8 0,7.6 M334.30,340.47 q0.6,3.8 0,7.6 M321.20,350.12 q-0.6,3.8 0,7.6 M334.30,350.12 q0.6,3.8 0,7.6 M321.20,359.77 q-0.6,3.8 0,7.6 M334.30,359.77 q0.6,3.8 0,7.6 M321.20,369.42 q-0.6,3.8 0,7.6 M334.30,369.42 q0.6,3.8 0,7.6 M321.20,379.06 q-0.6,3.8 0,7.6 M334.30,379.06 q0.6,3.8 0,7.6 M321.20,388.71 q-0.6,3.8 0,7.6 M334.30,388.71 q0.6,3.8 0,7.6 M321.20,398.36 q-0.6,3.8 0,7.6 M334.30,398.36 q0.6,3.8 0,7.6 M321.20,408.01 q-0.6,3.8 0,7.6 M334.30,408.01 q0.6,3.8 0,7.6 M321.20,417.66 q-0.6,3.8 0,7.6 M334.30,417.66 q0.6,3.8 0,7.6 M321.20,427.30 q-0.6,3.8 0,7.6 M334.30,427.30 q0.6,3.8 0,7.6 M321.20,436.95 q-0.6,3.8 0,7.6 M334.30,436.95 q0.6,3.8 0,7.6 M321.20,446.60 q-0.6,3.8 0,7.6 M334.30,446.60 q0.6,3.8 0,7.6 M321.20,456.25 q-0.6,3.8 0,7.6 M334.30,456.25 q0.6,3.8 0,7.6 M321.20,465.90 q-0.6,3.8 0,7.6 M334.30,465.90 q0.6,3.8 0,7.6 M321.20,475.54 q-0.6,3.8 0,7.6 M334.30,475.54 q0.6,3.8 0,7.6 M321.20,485.19 q-0.6,3.8 0,7.6 M334.30,485.19 q0.6,3.8 0,7.6 M321.20,494.84 q-0.6,3.8 0,7.6 M334.30,494.84 q0.6,3.8 0,7.6 M321.20,504.49 q-0.6,3.8 0,7.6 M334.30,504.49 q0.6,3.8 0,7.6 M321.20,514.14 q-0.6,3.8 0,7.6 M334.30,514.14 q0.6,3.8 0,7.6 M321.20,523.78 q-0.6,3.8 0,7.6 M334.30,523.78 q0.6,3.8 0,7.6 M321.20,533.43 q-0.6,3.8 0,7.6 M334.30,533.43 q0.6,3.8 0,7.6 M321.20,543.08 q-0.6,3.8 0,7.6 M334.30,543.08 q0.6,3.8 0,7.6 M321.20,552.73 q-0.6,3.8 0,7.6 M334.30,552.73 q0.6,3.8 0,7.6 M321.20,562.38 q-0.6,3.8 0,7.6 M334.30,562.38 q0.6,3.8 0,7.6 M321.20,572.02 q-0.6,3.8 0,7.6 M334.30,572.02 q0.6,3.8 0,7.6 M321.20,581.67 q-0.6,3.8 0,7.6 M334.30,581.67 q0.6,3.8 0,7.6 M321.20,591.32 q-0.6,3.8 0,7.6 M334.30,591.32 q0.6,3.8 0,7.6 M321.20,600.97 q-0.6,3.8 0,7.6 M334.30,600.97 q0.6,3.8 0,7.6 M321.20,610.62 q-0.6,3.8 0,7.6 M334.30,610.62 q0.6,3.8 0,7.6 M321.20,620.26 q-0.6,3.8 0,7.6 M334.30,620.26 q0.6,3.8 0,7.6 M321.20,629.91 q-0.6,3.8 0,7.6 M334.30,629.91 q0.6,3.8 0,7.6 M321.20,639.56 q-0.6,3.8 0,7.6 M334.30,639.56 q0.6,3.8 0,7.6 M321.20,649.21 q-0.6,3.8 0,7.6 M334.30,649.21 q0.6,3.8 0,7.6 M321.20,658.86 q-0.6,3.8 0,7.6 M334.30,658.86 q0.6,3.8 0,7.6 M321.20,668.50 q-0.6,3.8 0,7.6 M334.30,668.50 q0.6,3.8 0,7.6 M321.20,678.15 q-0.6,3.8 0,7.6 M334.30,678.15 q0.6,3.8 0,7.6 M321.20,687.80 q-0.6,3.8 0,7.6 M334.30,687.80 q0.6,3.8 0,7.6 M321.20,697.45 q-0.6,3.8 0,7.6 M334.30,697.45 q0.6,3.8 0,7.6 M321.20,707.10 q-0.6,3.8 0,7.6 M334.30,707.10 q0.6,3.8 0,7.6 M321.20,716.74 q-0.6,3.8 0,7.6 M334.30,716.74 q0.6,3.8 0,7.6 M321.20,726.39 q-0.6,3.8 0,7.6 M334.30,726.39 q0.6,3.8 0,7.6 M321.20,736.04 q-0.6,3.8 0,7.6 M334.30,736.04 q0.6,3.8 0,7.6 M321.20,745.69 q-0.6,3.8 0,7.6 M334.30,745.69 q0.6,3.8 0,7.6 M321.20,755.34 q-0.6,3.8 0,7.6 M334.30,755.34 q0.6,3.8 0,7.6 M321.20,764.98 q-0.6,3.8 0,7.6 M334.30,764.98 q0.6,3.8 0,7.6 M321.20,774.63 q-0.6,3.8 0,7.6 M334.30,774.63 q0.6,3.8 0,7.6 M321.20,784.28 q-0.6,3.8 0,7.6 M334.30,784.28 q0.6,3.8 0,7.6 M321.20,793.93 q-0.6,3.8 0,7.6 M334.30,793.93 q0.6,3.8 0,7.6 M321.20,803.58 q-0.6,3.8 0,7.6 M334.30,803.58 q0.6,3.8 0,7.6 M321.20,813.22 q-0.6,3.8 0,7.6 M334.30,813.22 q0.6,3.8 0,7.6 M321.20,822.87 q-0.6,3.8 0,7.6 M334.30,822.87 q0.6,3.8 0,7.6 M321.20,832.52 q-0.6,3.8 0,7.6 M334.30,832.52 q0.6,3.8 0,7.6 M321.20,842.17 q-0.6,3.8 0,7.6 M334.30,842.17 q0.6,3.8 0,7.6 M321.20,851.82 q-0.6,3.8 0,7.6 M334.30,851.82 q0.6,3.8 0,7.6 M321.20,861.46 q-0.6,3.8 0,7.6 M334.30,861.46 q0.6,3.8 0,7.6 M321.20,871.11 q-0.6,3.8 0,7.6 M334.30,871.11 q0.6,3.8 0,7.6 M321.20,880.76 q-0.6,3.8 0,7.6 M334.30,880.76 q0.6,3.8 0,7.6" stroke="#4a4a4a" stroke-width="0.7" fill="none"/>
<g font-size="9.00" fill="#2a8bd3" stroke="#2a8bd3" stroke-width="0.25" font-weight="bold">
<text x="347.79" y="212.40" textLength="14.64" lengthAdjust="spacingAndGlyphs">WL8</text>
<text x="347.79" y="347.47" textLength="18.50" lengthAdjust="spacingAndGlyphs">WL10</text>
<text x="347.79" y="482.54" textLength="18.50" lengthAdjust="spacingAndGlyphs">WL12</text>
<text x="347.79" y="617.62" textLength="18.50" lengthAdjust="spacingAndGlyphs">WL13</text>
<text x="347.79" y="762.34" textLength="18.50" lengthAdjust="spacingAndGlyphs">WL14</text>
</g>
<path d="M367.60,209.30 H373.60 M367.60,344.37 H373.60 M367.60,479.44 H373.60 M367.60,614.52 H373.60 M367.60,759.24 H373.60" stroke="#6aaae0" stroke-width="1.0" fill="none"/>
<g font-size="8.80" fill="#2a8bd3" stroke="#2a8bd3" stroke-width="0.3" font-weight="bold" text-anchor="end">
<text x="382.30" y="212.40" textLength="7.54" lengthAdjust="spacingAndGlyphs">10</text>
<text x="382.30" y="222.05" textLength="7.54" lengthAdjust="spacingAndGlyphs">15</text>
<text x="382.30" y="231.70" textLength="7.54" lengthAdjust="spacingAndGlyphs">20</text>
<text x="382.30" y="241.34" textLength="7.54" lengthAdjust="spacingAndGlyphs">25</text>
<text x="382.30" y="250.99" textLength="7.54" lengthAdjust="spacingAndGlyphs">30</text>
<text x="382.30" y="260.64" textLength="7.54" lengthAdjust="spacingAndGlyphs">35</text>
<text x="382.30" y="270.29" textLength="7.54" lengthAdjust="spacingAndGlyphs">40</text>
<text x="382.30" y="279.94" textLength="7.54" lengthAdjust="spacingAndGlyphs">45</text>
<text x="382.30" y="289.58" textLength="7.54" lengthAdjust="spacingAndGlyphs">50</text>
<text x="382.30" y="299.23" textLength="7.54" lengthAdjust="spacingAndGlyphs">55</text>
<text x="382.30" y="308.88" textLength="7.54" lengthAdjust="spacingAndGlyphs">60</text>
<text x="382.30" y="318.53" textLength="7.54" lengthAdjust="spacingAndGlyphs">65</text>
<text x="382.30" y="328.18" textLength="7.54" lengthAdjust="spacingAndGlyphs">70</text>
<text x="382.30" y="337.82" textLength="7.54" lengthAdjust="spacingAndGlyphs">80</text>
<text x="382.30" y="347.47" textLength="7.54" lengthAdjust="spacingAndGlyphs">10</text>
<text x="382.30" y="357.12" textLength="7.54" lengthAdjust="spacingAndGlyphs">15</text>
<text x="382.30" y="366.77" textLength="7.54" lengthAdjust="spacingAndGlyphs">20</text>
<text x="382.30" y="376.42" textLength="7.54" lengthAdjust="spacingAndGlyphs">25</text>
<text x="382.30" y="386.06" textLength="7.54" lengthAdjust="spacingAndGlyphs">30</text>
<text x="382.30" y="395.71" textLength="7.54" lengthAdjust="spacingAndGlyphs">35</text>
<text x="382.30" y="405.36" textLength="7.54" lengthAdjust="spacingAndGlyphs">40</text>
<text x="382.30" y="415.01" textLength="7.54" lengthAdjust="spacingAndGlyphs">45</text>
<text x="382.30" y="424.66" textLength="7.54" lengthAdjust="spacingAndGlyphs">50</text>
<text x="382.30" y="434.30" textLength="7.54" lengthAdjust="spacingAndGlyphs">55</text>
<text x="382.30" y="443.95" textLength="7.54" lengthAdjust="spacingAndGlyphs">60</text>
<text x="382.30" y="453.60" textLength="7.54" lengthAdjust="spacingAndGlyphs">65</text>
<text x="382.30" y="463.25" textLength="7.54" lengthAdjust="spacingAndGlyphs">70</text>
<text x="382.30" y="472.90" textLength="7.54" lengthAdjust="spacingAndGlyphs">80</text>
<text x="382.30" y="482.54" textLength="7.54" lengthAdjust="spacingAndGlyphs">10</text>
<text x="382.30" y="492.19" textLength="7.54" lengthAdjust="spacingAndGlyphs">15</text>
<text x="382.30" y="501.84" textLength="7.54" lengthAdjust="spacingAndGlyphs">20</text>
<text x="382.30" y="511.49" textLength="7.54" lengthAdjust="spacingAndGlyphs">25</text>
<text x="382.30" y="521.14" textLength="7.54" lengthAdjust="spacingAndGlyphs">30</text>
<text x="382.30" y="530.78" textLength="7.54" lengthAdjust="spacingAndGlyphs">35</text>
<text x="382.30" y="540.43" textLength="7.54" lengthAdjust="spacingAndGlyphs">40</text>
<text x="382.30" y="550.08" textLength="7.54" lengthAdjust="spacingAndGlyphs">45</text>
<text x="382.30" y="559.73" textLength="7.54" lengthAdjust="spacingAndGlyphs">50</text>
<text x="382.30" y="569.38" textLength="7.54" lengthAdjust="spacingAndGlyphs">55</text>
<text x="382.30" y="579.02" textLength="7.54" lengthAdjust="spacingAndGlyphs">60</text>
<text x="382.30" y="588.67" textLength="7.54" lengthAdjust="spacingAndGlyphs">65</text>
<text x="382.30" y="598.32" textLength="7.54" lengthAdjust="spacingAndGlyphs">70</text>
<text x="382.30" y="607.97" textLength="7.54" lengthAdjust="spacingAndGlyphs">80</text>
<text x="382.30" y="617.62" textLength="7.54" lengthAdjust="spacingAndGlyphs">10</text>
<text x="382.30" y="627.26" textLength="7.54" lengthAdjust="spacingAndGlyphs">15</text>
<text x="382.30" y="636.91" textLength="7.54" lengthAdjust="spacingAndGlyphs">20</text>
<text x="382.30" y="646.56" textLength="7.54" lengthAdjust="spacingAndGlyphs">25</text>
<text x="382.30" y="656.21" textLength="7.54" lengthAdjust="spacingAndGlyphs">30</text>
<text x="382.30" y="665.86" textLength="7.54" lengthAdjust="spacingAndGlyphs">35</text>
<text x="382.30" y="675.50" textLength="7.54" lengthAdjust="spacingAndGlyphs">40</text>
<text x="382.30" y="685.15" textLength="7.54" lengthAdjust="spacingAndGlyphs">45</text>
<text x="382.30" y="694.80" textLength="7.54" lengthAdjust="spacingAndGlyphs">50</text>
<text x="382.30" y="704.45" textLength="7.54" lengthAdjust="spacingAndGlyphs">55</text>
<text x="382.30" y="714.10" textLength="7.54" lengthAdjust="spacingAndGlyphs">60</text>
<text x="382.30" y="723.74" textLength="7.54" lengthAdjust="spacingAndGlyphs">65</text>
<text x="382.30" y="733.39" textLength="7.54" lengthAdjust="spacingAndGlyphs">70</text>
<text x="382.30" y="743.04" textLength="7.54" lengthAdjust="spacingAndGlyphs">80</text>
<text x="382.30" y="752.69" textLength="7.54" lengthAdjust="spacingAndGlyphs">90</text>
<text x="382.30" y="762.34" textLength="7.54" lengthAdjust="spacingAndGlyphs">15</text>
<text x="382.30" y="771.98" textLength="7.54" lengthAdjust="spacingAndGlyphs">20</text>
<text x="382.30" y="781.63" textLength="7.54" lengthAdjust="spacingAndGlyphs">25</text>
<text x="382.30" y="791.28" textLength="7.54" lengthAdjust="spacingAndGlyphs">30</text>
<text x="382.30" y="800.93" textLength="7.54" lengthAdjust="spacingAndGlyphs">35</text>
<text x="382.30" y="810.58" textLength="7.54" lengthAdjust="spacingAndGlyphs">40</text>
<text x="382.30" y="820.22" textLength="7.54" lengthAdjust="spacingAndGlyphs">45</text>
<text x="382.30" y="829.87" textLength="7.54" lengthAdjust="spacingAndGlyphs">50</text>
<text x="382.30" y="839.52" textLength="7.54" lengthAdjust="spacingAndGlyphs">55</text>
<text x="382.30" y="849.17" textLength="7.54" lengthAdjust="spacingAndGlyphs">60</text>
<text x="382.30" y="858.82" textLength="7.54" lengthAdjust="spacingAndGlyphs">65</text>
<text x="382.30" y="868.46" textLength="7.54" lengthAdjust="spacingAndGlyphs">70</text>
<text x="382.30" y="878.11" textLength="7.54" lengthAdjust="spacingAndGlyphs">80</text>
<text x="382.30" y="887.76" textLength="7.54" lengthAdjust="spacingAndGlyphs">90</text>
</g>
<rect x="426.40" y="184.70" width="17.70" height="18.70" fill="#e6e6e6"/>
<rect x="445.90" y="184.70" width="17.20" height="18.70" fill="#e6e6e6"/>
<rect x="464.90" y="184.70" width="18.20" height="18.70" fill="#e6e6e6"/>
<rect x="484.90" y="184.70" width="37.50" height="18.70" fill="#e6e6e6"/>
<rect x="574.90" y="184.70" width="21.20" height="18.70" fill="#e6e6e6"/>
<rect x="524.50" y="184.70" width="48.30" height="8.10" fill="#e6e6e6"/>
<rect x="524.50" y="194.40" width="48.30" height="8.90" fill="#e6e6e6"/>
<rect x="574.00" y="204.30" width="23.00" height="9.65" fill="#d4e4f3"/>
<rect x="425.50" y="213.95" width="97.80" height="9.65" fill="#d4e4f3"/>
<rect x="574.00" y="213.95" width="23.00" height="9.65" fill="#d4e4f3"/>
<rect x="574.00" y="223.60" width="23.00" height="9.65" fill="#d4e4f3"/>
<rect x="425.50" y="233.24" width="97.80" height="9.65" fill="#d4e4f3"/>
<rect x="574.00" y="233.24" width="23.00" height="9.65" fill="#d4e4f3"/>
<rect x="574.00" y="242.89" width="23.00" height="9.65" fill="#d4e4f3"/>
<rect x="425.50" y="252.54" width="97.80" height="9.65" fill="#d4e4f3"/>
<rect x="574.00" y="252.54" width="23.00" height="9.65" fill="#d4e4f3"/>
<rect x="574.00" y="262.19" width="23.00" height="9.65" fill="#d4e4f3"/>
<rect x="425.50" y="271.84" width="97.80" height="9.65" fill="#d4e4f3"/>
<rect x="574.00" y="271.84" width="23.00" height="9.65" fill="#d4e4f3"/>
<rect x="574.00" y="281.48" width="23.00" height="9.65" fill="#d4e4f3"/>
<rect x="425.50" y="291.13" width="97.80" height="9.65" fill="#d4e4f3"/>
<rect x="574.00" y="291.13" width="23.00" height="9.65" fill="#d4e4f3"/>
<rect x="574.00" y="300.78" width="23.00" height="9.65" fill="#d4e4f3"/>
<rect x="425.50" y="310.43" width="97.80" height="9.65" fill="#d4e4f3"/>
<rect x="574.00" y="310.43" width="23.00" height="9.65" fill="#d4e4f3"/>
<rect x="574.00" y="320.08" width="23.00" height="9.65" fill="#d4e4f3"/>
<rect x="425.50" y="329.72" width="97.80" height="9.65" fill="#d4e4f3"/>
<rect x="574.00" y="329.72" width="23.00" height="9.65" fill="#d4e4f3"/>
<rect x="574.00" y="339.37" width="23.00" height="9.65" fill="#d4e4f3"/>
<rect x="425.50" y="349.02" width="97.80" height="9.65" fill="#d4e4f3"/>
<rect x="574.00" y="349.02" width="23.00" height="9.65" fill="#d4e4f3"/>
<rect x="574.00" y="358.67" width="23.00" height="9.65" fill="#d4e4f3"/>
<rect x="425.50" y="368.32" width="97.80" height="9.65" fill="#d4e4f3"/>
<rect x="574.00" y="368.32" width="23.00" height="9.65" fill="#d4e4f3"/>
<rect x="574.00" y="377.96" width="23.00" height="9.65" fill="#d4e4f3"/>
<rect x="425.50" y="387.61" width="97.80" height="9.65" fill="#d4e4f3"/>
<rect x="574.00" y="387.61" width="23.00" height="9.65" fill="#d4e4f3"/>
<rect x="574.00" y="397.26" width="23.00" height="9.65" fill="#d4e4f3"/>
<rect x="425.50" y="406.91" width="97.80" height="9.65" fill="#d4e4f3"/>
<rect x="574.00" y="406.91" width="23.00" height="9.65" fill="#d4e4f3"/>
<rect x="574.00" y="416.56" width="23.00" height="9.65" fill="#d4e4f3"/>
<rect x="425.50" y="426.20" width="97.80" height="9.65" fill="#d4e4f3"/>
<rect x="574.00" y="426.20" width="23.00" height="9.65" fill="#d4e4f3"/>
<rect x="574.00" y="435.85" width="23.00" height="9.65" fill="#d4e4f3"/>
<rect x="425.50" y="445.50" width="97.80" height="9.65" fill="#d4e4f3"/>
<rect x="574.00" y="445.50" width="23.00" height="9.65" fill="#d4e4f3"/>
<rect x="574.00" y="455.15" width="23.00" height="9.65" fill="#d4e4f3"/>
<rect x="425.50" y="464.80" width="97.80" height="9.65" fill="#d4e4f3"/>
<rect x="574.00" y="464.80" width="23.00" height="9.65" fill="#d4e4f3"/>
<rect x="574.00" y="474.44" width="23.00" height="9.65" fill="#d4e4f3"/>
<rect x="425.50" y="484.09" width="97.80" height="9.65" fill="#d4e4f3"/>
<rect x="574.00" y="484.09" width="23.00" height="9.65" fill="#d4e4f3"/>
<rect x="574.00" y="493.74" width="23.00" height="9.65" fill="#d4e4f3"/>
<rect x="425.50" y="503.39" width="97.80" height="9.65" fill="#d4e4f3"/>
<rect x="574.00" y="503.39" width="23.00" height="9.65" fill="#d4e4f3"/>
<rect x="574.00" y="513.04" width="23.00" height="9.65" fill="#d4e4f3"/>
<rect x="425.50" y="522.68" width="97.80" height="9.65" fill="#d4e4f3"/>
<rect x="574.00" y="522.68" width="23.00" height="9.65" fill="#d4e4f3"/>
<rect x="574.00" y="532.33" width="23.00" height="9.65" fill="#d4e4f3"/>
<rect x="425.50" y="541.98" width="97.80" height="9.65" fill="#d4e4f3"/>
<rect x="574.00" y="541.98" width="23.00" height="9.65" fill="#d4e4f3"/>
<rect x="574.00" y="551.63" width="23.00" height="9.65" fill="#d4e4f3"/>
<rect x="425.50" y="561.28" width="97.80" height="9.65" fill="#d4e4f3"/>
<rect x="574.00" y="561.28" width="23.00" height="9.65" fill="#d4e4f3"/>
<rect x="574.00" y="570.92" width="23.00" height="9.65" fill="#d4e4f3"/>
<rect x="425.50" y="580.57" width="97.80" height="9.65" fill="#d4e4f3"/>
<rect x="574.00" y="580.57" width="23.00" height="9.65" fill="#d4e4f3"/>
<rect x="574.00" y="590.22" width="23.00" height="9.65" fill="#d4e4f3"/>
<rect x="425.50" y="599.87" width="97.80" height="9.65" fill="#d4e4f3"/>
<rect x="574.00" y="599.87" width="23.00" height="9.65" fill="#d4e4f3"/>
<rect x="574.00" y="609.52" width="23.00" height="9.65" fill="#d4e4f3"/>
<rect x="425.50" y="619.16" width="97.80" height="9.65" fill="#d4e4f3"/>
<rect x="574.00" y="619.16" width="23.00" height="9.65" fill="#d4e4f3"/>
<rect x="574.00" y="628.81" width="23.00" height="9.65" fill="#d4e4f3"/>
<rect x="425.50" y="638.46" width="97.80" height="9.65" fill="#d4e4f3"/>
<rect x="574.00" y="638.46" width="23.00" height="9.65" fill="#d4e4f3"/>
<rect x="574.00" y="648.11" width="23.00" height="9.65" fill="#d4e4f3"/>
<rect x="425.50" y="657.76" width="97.80" height="9.65" fill="#d4e4f3"/>
<rect x="574.00" y="657.76" width="23.00" height="9.65" fill="#d4e4f3"/>
<rect x="574.00" y="667.40" width="23.00" height="9.65" fill="#d4e4f3"/>
<rect x="425.50" y="677.05" width="97.80" height="9.65" fill="#d4e4f3"/>
<rect x="574.00" y="677.05" width="23.00" height="9.65" fill="#d4e4f3"/>
<rect x="574.00" y="686.70" width="23.00" height="9.65" fill="#d4e4f3"/>
<rect x="425.50" y="696.35" width="97.80" height="9.65" fill="#d4e4f3"/>
<rect x="574.00" y="696.35" width="23.00" height="9.65" fill="#d4e4f3"/>
<rect x="574.00" y="706.00" width="23.00" height="9.65" fill="#d4e4f3"/>
<rect x="425.50" y="715.64" width="97.80" height="9.65" fill="#d4e4f3"/>
<rect x="574.00" y="715.64" width="23.00" height="9.65" fill="#d4e4f3"/>
<rect x="574.00" y="725.29" width="23.00" height="9.65" fill="#d4e4f3"/>
<rect x="425.50" y="734.94" width="97.80" height="9.65" fill="#d4e4f3"/>
<rect x="574.00" y="734.94" width="23.00" height="9.65" fill="#d4e4f3"/>
<rect x="574.00" y="744.59" width="23.00" height="9.65" fill="#d4e4f3"/>
<rect x="425.50" y="754.24" width="97.80" height="9.65" fill="#d4e4f3"/>
<rect x="574.00" y="754.24" width="23.00" height="9.65" fill="#d4e4f3"/>
<rect x="574.00" y="763.88" width="23.00" height="9.65" fill="#d4e4f3"/>
<rect x="425.50" y="773.53" width="97.80" height="9.65" fill="#d4e4f3"/>
<rect x="574.00" y="773.53" width="23.00" height="9.65" fill="#d4e4f3"/>
<rect x="574.00" y="783.18" width="23.00" height="9.65" fill="#d4e4f3"/>
<rect x="425.50" y="792.83" width="97.80" height="9.65" fill="#d4e4f3"/>
<rect x="574.00" y="792.83" width="23.00" height="9.65" fill="#d4e4f3"/>
<rect x="574.00" y="802.48" width="23.00" height="9.65" fill="#d4e4f3"/>
<rect x="425.50" y="812.12" width="97.80" height="9.65" fill="#d4e4f3"/>
<rect x="574.00" y="812.12" width="23.00" height="9.65" fill="#d4e4f3"/>
<rect x="574.00" y="821.77" width="23.00" height="9.65" fill="#d4e4f3"/>
<rect x="425.50" y="831.42" width="97.80" height="9.65" fill="#d4e4f3"/>
<rect x="574.00" y="831.42" width="23.00" height="9.65" fill="#d4e4f3"/>
<rect x="574.00" y="841.07" width="23.00" height="9.65" fill="#d4e4f3"/>
<rect x="425.50" y="850.72" width="97.80" height="9.65" fill="#d4e4f3"/>
<rect x="574.00" y="850.72" width="23.00" height="9.65" fill="#d4e4f3"/>
<rect x="425.50" y="213.50" width="97.80" height="0.90" fill="#5a5a5a"/>
<rect x="574.00" y="213.20" width="23.00" height="1.50" fill="#737a77"/>
<rect x="425.50" y="223.15" width="97.80" height="0.90" fill="#5a5a5a"/>
<rect x="574.00" y="222.85" width="23.00" height="1.50" fill="#737a77"/>
<rect x="425.50" y="232.79" width="97.80" height="0.90" fill="#5a5a5a"/>
<rect x="574.00" y="232.49" width="23.00" height="1.50" fill="#737a77"/>
<rect x="425.50" y="242.44" width="97.80" height="0.90" fill="#5a5a5a"/>
<rect x="574.00" y="242.14" width="23.00" height="1.50" fill="#737a77"/>
<rect x="425.50" y="252.09" width="97.80" height="0.90" fill="#5a5a5a"/>
<rect x="574.00" y="251.79" width="23.00" height="1.50" fill="#737a77"/>
<rect x="425.50" y="261.74" width="97.80" height="0.90" fill="#5a5a5a"/>
<rect x="574.00" y="261.44" width="23.00" height="1.50" fill="#737a77"/>
<rect x="425.50" y="271.39" width="97.80" height="0.90" fill="#5a5a5a"/>
<rect x="574.00" y="271.09" width="23.00" height="1.50" fill="#737a77"/>
<rect x="425.50" y="281.03" width="97.80" height="0.90" fill="#5a5a5a"/>
<rect x="574.00" y="280.73" width="23.00" height="1.50" fill="#737a77"/>
<rect x="425.50" y="290.68" width="97.80" height="0.90" fill="#5a5a5a"/>
<rect x="574.00" y="290.38" width="23.00" height="1.50" fill="#737a77"/>
<rect x="425.50" y="300.33" width="97.80" height="0.90" fill="#5a5a5a"/>
<rect x="574.00" y="300.03" width="23.00" height="1.50" fill="#737a77"/>
<rect x="425.50" y="309.98" width="97.80" height="0.90" fill="#5a5a5a"/>
<rect x="574.00" y="309.68" width="23.00" height="1.50" fill="#737a77"/>
<rect x="425.50" y="319.63" width="97.80" height="0.90" fill="#5a5a5a"/>
<rect x="574.00" y="319.33" width="23.00" height="1.50" fill="#737a77"/>
<rect x="425.50" y="329.27" width="97.80" height="0.90" fill="#5a5a5a"/>
<rect x="574.00" y="328.97" width="23.00" height="1.50" fill="#737a77"/>
<rect x="425.50" y="338.92" width="97.80" height="0.90" fill="#5a5a5a"/>
<rect x="574.00" y="338.62" width="23.00" height="1.50" fill="#737a77"/>
<rect x="425.50" y="348.57" width="97.80" height="0.90" fill="#5a5a5a"/>
<rect x="574.00" y="348.27" width="23.00" height="1.50" fill="#737a77"/>
<rect x="425.50" y="358.22" width="97.80" height="0.90" fill="#5a5a5a"/>
<rect x="574.00" y="357.92" width="23.00" height="1.50" fill="#737a77"/>
<rect x="425.50" y="367.87" width="97.80" height="0.90" fill="#5a5a5a"/>
<rect x="574.00" y="367.57" width="23.00" height="1.50" fill="#737a77"/>
<rect x="425.50" y="377.51" width="97.80" height="0.90" fill="#5a5a5a"/>
<rect x="574.00" y="377.21" width="23.00" height="1.50" fill="#737a77"/>
<rect x="425.50" y="387.16" width="97.80" height="0.90" fill="#5a5a5a"/>
<rect x="574.00" y="386.86" width="23.00" height="1.50" fill="#737a77"/>
<rect x="425.50" y="396.81" width="97.80" height="0.90" fill="#5a5a5a"/>
<rect x="574.00" y="396.51" width="23.00" height="1.50" fill="#737a77"/>
<rect x="425.50" y="406.46" width="97.80" height="0.90" fill="#5a5a5a"/>
<rect x="574.00" y="406.16" width="23.00" height="1.50" fill="#737a77"/>
<rect x="425.50" y="416.11" width="97.80" height="0.90" fill="#5a5a5a"/>
<rect x="574.00" y="415.81" width="23.00" height="1.50" fill="#737a77"/>
<rect x="425.50" y="425.75" width="97.80" height="0.90" fill="#5a5a5a"/>
<rect x="574.00" y="425.45" width="23.00" height="1.50" fill="#737a77"/>
<rect x="425.50" y="435.40" width="97.80" height="0.90" fill="#5a5a5a"/>
<rect x="574.00" y="435.10" width="23.00" height="1.50" fill="#737a77"/>
<rect x="425.50" y="445.05" width="97.80" height="0.90" fill="#5a5a5a"/>
<rect x="574.00" y="444.75" width="23.00" height="1.50" fill="#737a77"/>
<rect x="425.50" y="454.70" width="97.80" height="0.90" fill="#5a5a5a"/>
<rect x="574.00" y="454.40" width="23.00" height="1.50" fill="#737a77"/>
<rect x="425.50" y="464.35" width="97.80" height="0.90" fill="#5a5a5a"/>
<rect x="574.00" y="464.05" width="23.00" height="1.50" fill="#737a77"/>
<rect x="425.50" y="473.99" width="97.80" height="0.90" fill="#5a5a5a"/>
<rect x="574.00" y="473.69" width="23.00" height="1.50" fill="#737a77"/>
<rect x="425.50" y="483.64" width="97.80" height="0.90" fill="#5a5a5a"/>
<rect x="574.00" y="483.34" width="23.00" height="1.50" fill="#737a77"/>
<rect x="425.50" y="493.29" width="97.80" height="0.90" fill="#5a5a5a"/>
<rect x="574.00" y="492.99" width="23.00" height="1.50" fill="#737a77"/>
<rect x="425.50" y="502.94" width="97.80" height="0.90" fill="#5a5a5a"/>
<rect x="574.00" y="502.64" width="23.00" height="1.50" fill="#737a77"/>
<rect x="425.50" y="512.59" width="97.80" height="0.90" fill="#5a5a5a"/>
<rect x="574.00" y="512.29" width="23.00" height="1.50" fill="#737a77"/>
<rect x="425.50" y="522.23" width="97.80" height="0.90" fill="#5a5a5a"/>
<rect x="574.00" y="521.93" width="23.00" height="1.50" fill="#737a77"/>
<rect x="425.50" y="531.88" width="97.80" height="0.90" fill="#5a5a5a"/>
<rect x="574.00" y="531.58" width="23.00" height="1.50" fill="#737a77"/>
<rect x="425.50" y="541.53" width="97.80" height="0.90" fill="#5a5a5a"/>
<rect x="574.00" y="541.23" width="23.00" height="1.50" fill="#737a77"/>
<rect x="425.50" y="551.18" width="97.80" height="0.90" fill="#5a5a5a"/>
<rect x="574.00" y="550.88" width="23.00" height="1.50" fill="#737a77"/>
<rect x="425.50" y="560.83" width="97.80" height="0.90" fill="#5a5a5a"/>
<rect x="574.00" y="560.53" width="23.00" height="1.50" fill="#737a77"/>
<rect x="425.50" y="570.47" width="97.80" height="0.90" fill="#5a5a5a"/>
<rect x="574.00" y="570.17" width="23.00" height="1.50" fill="#737a77"/>
<rect x="425.50" y="580.12" width="97.80" height="0.90" fill="#5a5a5a"/>
<rect x="574.00" y="579.82" width="23.00" height="1.50" fill="#737a77"/>
<rect x="425.50" y="589.77" width="97.80" height="0.90" fill="#5a5a5a"/>
<rect x="574.00" y="589.47" width="23.00" height="1.50" fill="#737a77"/>
<rect x="425.50" y="599.42" width="97.80" height="0.90" fill="#5a5a5a"/>
<rect x="574.00" y="599.12" width="23.00" height="1.50" fill="#737a77"/>
<rect x="425.50" y="609.07" width="97.80" height="0.90" fill="#5a5a5a"/>
<rect x="574.00" y="608.77" width="23.00" height="1.50" fill="#737a77"/>
<rect x="425.50" y="618.71" width="97.80" height="0.90" fill="#5a5a5a"/>
<rect x="574.00" y="618.41" width="23.00" height="1.50" fill="#737a77"/>
<rect x="425.50" y="628.36" width="97.80" height="0.90" fill="#5a5a5a"/>
<rect x="574.00" y="628.06" width="23.00" height="1.50" fill="#737a77"/>
<rect x="425.50" y="638.01" width="97.80" height="0.90" fill="#5a5a5a"/>
<rect x="574.00" y="637.71" width="23.00" height="1.50" fill="#737a77"/>
<rect x="425.50" y="647.66" width="97.80" height="0.90" fill="#5a5a5a"/>
<rect x="574.00" y="647.36" width="23.00" height="1.50" fill="#737a77"/>
<rect x="425.50" y="657.31" width="97.80" height="0.90" fill="#5a5a5a"/>
<rect x="574.00" y="657.01" width="23.00" height="1.50" fill="#737a77"/>
<rect x="425.50" y="666.95" width="97.80" height="0.90" fill="#5a5a5a"/>
<rect x="574.00" y="666.65" width="23.00" height="1.50" fill="#737a77"/>
<rect x="425.50" y="676.60" width="97.80" height="0.90" fill="#5a5a5a"/>
<rect x="574.00" y="676.30" width="23.00" height="1.50" fill="#737a77"/>
<rect x="425.50" y="686.25" width="97.80" height="0.90" fill="#5a5a5a"/>
<rect x="574.00" y="685.95" width="23.00" height="1.50" fill="#737a77"/>
<rect x="425.50" y="695.90" width="97.80" height="0.90" fill="#5a5a5a"/>
<rect x="574.00" y="695.60" width="23.00" height="1.50" fill="#737a77"/>
<rect x="425.50" y="705.55" width="97.80" height="0.90" fill="#5a5a5a"/>
<rect x="574.00" y="705.25" width="23.00" height="1.50" fill="#737a77"/>
<rect x="425.50" y="715.19" width="97.80" height="0.90" fill="#5a5a5a"/>
<rect x="574.00" y="714.89" width="23.00" height="1.50" fill="#737a77"/>
<rect x="425.50" y="724.84" width="97.80" height="0.90" fill="#5a5a5a"/>
<rect x="574.00" y="724.54" width="23.00" height="1.50" fill="#737a77"/>
<rect x="425.50" y="734.49" width="97.80" height="0.90" fill="#5a5a5a"/>
<rect x="574.00" y="734.19" width="23.00" height="1.50" fill="#737a77"/>
<rect x="425.50" y="744.14" width="97.80" height="0.90" fill="#5a5a5a"/>
<rect x="574.00" y="743.84" width="23.00" height="1.50" fill="#737a77"/>
<rect x="425.50" y="753.79" width="97.80" height="0.90" fill="#5a5a5a"/>
<rect x="574.00" y="753.49" width="23.00" height="1.50" fill="#737a77"/>
<rect x="425.50" y="763.43" width="97.80" height="0.90" fill="#5a5a5a"/>
<rect x="574.00" y="763.13" width="23.00" height="1.50" fill="#737a77"/>
<rect x="425.50" y="773.08" width="97.80" height="0.90" fill="#5a5a5a"/>
<rect x="574.00" y="772.78" width="23.00" height="1.50" fill="#737a77"/>
<rect x="425.50" y="782.73" width="97.80" height="0.90" fill="#5a5a5a"/>
<rect x="574.00" y="782.43" width="23.00" height="1.50" fill="#737a77"/>
<rect x="425.50" y="792.38" width="97.80" height="0.90" fill="#5a5a5a"/>
<rect x="574.00" y="792.08" width="23.00" height="1.50" fill="#737a77"/>
<rect x="425.50" y="802.03" width="97.80" height="0.90" fill="#5a5a5a"/>
<rect x="574.00" y="801.73" width="23.00" height="1.50" fill="#737a77"/>
<rect x="425.50" y="811.67" width="97.80" height="0.90" fill="#5a5a5a"/>
<rect x="574.00" y="811.37" width="23.00" height="1.50" fill="#737a77"/>
<rect x="425.50" y="821.32" width="97.80" height="0.90" fill="#5a5a5a"/>
<rect x="574.00" y="821.02" width="23.00" height="1.50" fill="#737a77"/>
<rect x="425.50" y="830.97" width="97.80" height="0.90" fill="#5a5a5a"/>
<rect x="574.00" y="830.67" width="23.00" height="1.50" fill="#737a77"/>
<rect x="425.50" y="840.62" width="97.80" height="0.90" fill="#5a5a5a"/>
<rect x="574.00" y="840.32" width="23.00" height="1.50" fill="#737a77"/>
<rect x="425.50" y="850.27" width="97.80" height="0.90" fill="#5a5a5a"/>
<rect x="574.00" y="849.97" width="23.00" height="1.50" fill="#737a77"/>
<rect x="425.50" y="338.52" width="171.50" height="1.70" fill="#161616"/>
<rect x="425.50" y="473.59" width="171.50" height="1.70" fill="#161616"/>
<rect x="425.50" y="608.67" width="171.50" height="1.70" fill="#161616"/>
<rect x="425.50" y="743.74" width="171.50" height="1.70" fill="#161616"/>
<rect x="444.45" y="182.80" width="1.10" height="677.56" fill="#3c3c3c"/>
<rect x="463.45" y="182.80" width="1.10" height="677.56" fill="#3c3c3c"/>
<rect x="483.45" y="182.80" width="1.10" height="677.56" fill="#3c3c3c"/>
<rect x="522.45" y="182.80" width="1.70" height="677.56" fill="#161616"/>
<rect x="573.15" y="182.80" width="1.70" height="677.56" fill="#161616"/>
<rect x="425.50" y="181.85" width="171.50" height="1.90" fill="#161616"/>
<rect x="425.50" y="203.50" width="171.50" height="1.60" fill="#161616"/>
<rect x="523.30" y="193.00" width="50.70" height="1.00" fill="#161616"/>
<rect x="425.50" y="859.41" width="171.50" height="1.90" fill="#161616"/>
<text x="433.06" y="196.80" font-size="9.80" font-weight="bold" fill="#111" stroke="#111" stroke-width="0.40" transform="matrix(0.7290 0 0 1 117.359 0)">d</text>
<text x="448.97" y="191.60" font-size="9.20" font-weight="bold" fill="#111" stroke="#111" stroke-width="0.40" transform="matrix(0.4996 0 0 1 224.654 0)">Solid</text>
<text x="447.37" y="199.60" font-size="9.20" font-weight="bold" fill="#111" stroke="#111" stroke-width="0.40" transform="matrix(0.5067 0 0 1 220.694 0)">height</text>
<text x="471.85" y="192.30" font-size="8.20" font-weight="bold" fill="#111" stroke="#111" stroke-width="0.40" transform="matrix(0.8173 0 0 1 86.209 0)">F</text>
<text x="466.57" y="200.90" font-size="9.40" font-weight="bold" fill="#111" stroke="#111" stroke-width="0.40" transform="matrix(0.6945 0 0 1 142.540 0)">max.</text>
<text x="494.73" y="189.40" font-size="6.50" font-weight="bold" fill="#111" stroke="#111" stroke-width="0.40" transform="matrix(1.1867 0 0 1 -92.344 0)">Load</text>
<text x="491.66" y="195.80" font-size="6.50" font-weight="bold" fill="#111" stroke="#111" stroke-width="0.40" transform="matrix(0.8898 0 0 1 54.205 0)">N</text>
<text x="500.09" y="195.60" font-size="6.30" font-weight="bold" fill="#111" stroke="#111" stroke-width="0.40" transform="matrix(1.2635 0 0 1 -131.785 0)">kgf</text>
<path d="M499.25,190.9 q-0.8,2.6 0,5.4 M513.45,190.9 q0.8,2.6 0,5.4" stroke="#777" stroke-width="0.7" fill="none"/>
<text x="494.52" y="201.60" font-size="6.50" font-weight="bold" fill="#111" stroke="#111" stroke-width="0.40" transform="matrix(1.2339 0 0 1 -115.672 0)">max.</text>
<text x="527.53" y="190.90" font-size="8.30" font-weight="bold" fill="#111" stroke="#111" stroke-width="0.30" transform="matrix(0.8000 0 0 1 105.506 0)" letter-spacing="0.618">Catalog</text>
<text x="556.96" y="190.90" font-size="8.30" font-weight="bold" fill="#111" stroke="#111" stroke-width="0.30" transform="matrix(0.8000 0 0 1 111.391 0)" letter-spacing="1.128">No.</text>
<text x="530.43" y="201.20" font-size="8.30" font-weight="bold" fill="#111" stroke="#111" stroke-width="0.30" transform="matrix(0.8000 0 0 1 106.085 0)" letter-spacing="0.085">Type</text>
<text x="548.90" y="201.20" font-size="8.30" font-weight="bold" fill="#111" stroke="#111" stroke-width="0.30" transform="matrix(0.9037 0 0 1 52.864 0)">D</text>
<rect x="555.90" y="197.90" width="5.40" height="1.20" fill="#111"/>
<text x="562.65" y="201.20" font-size="8.30" font-weight="bold" fill="#111" stroke="#111" stroke-width="0.30" transform="matrix(0.9860 0 0 1 7.850 0)">L</text>
<text x="575.30" y="191.50" font-size="9.00" font-weight="bold" fill="#111" stroke="#111" stroke-width="0.40" transform="matrix(0.4975 0 0 1 289.073 0)">Base unit</text>
<text x="579.89" y="201.00" font-size="9.00" font-weight="bold" fill="#111" stroke="#111" stroke-width="0.40" transform="matrix(0.5143 0 0 1 281.652 0)">price</text>
<g font-size="9.80" fill="#141414" stroke="#141414" stroke-width="0.38">
<text x="429.30" y="212.40" textLength="11.31" lengthAdjust="spacingAndGlyphs">1.1</text>
<text x="455.00" y="212.40" textLength="6.54" lengthAdjust="spacingAndGlyphs">.2</text>
<text x="429.30" y="222.05" textLength="11.31" lengthAdjust="spacingAndGlyphs">1.1</text>
<text x="455.00" y="222.05" textLength="6.54" lengthAdjust="spacingAndGlyphs">.2</text>
<text x="429.30" y="231.70" textLength="11.31" lengthAdjust="spacingAndGlyphs">1.2</text>
<text x="429.30" y="241.34" textLength="11.31" lengthAdjust="spacingAndGlyphs">1.2</text>
<text x="429.30" y="250.99" textLength="11.31" lengthAdjust="spacingAndGlyphs">1.2</text>
<text x="429.30" y="260.64" textLength="11.31" lengthAdjust="spacingAndGlyphs">1.2</text>
<text x="429.30" y="270.29" textLength="11.31" lengthAdjust="spacingAndGlyphs">1.4</text>
<text x="429.30" y="279.94" textLength="11.31" lengthAdjust="spacingAndGlyphs">1.4</text>
<text x="429.30" y="289.58" textLength="11.31" lengthAdjust="spacingAndGlyphs">1.4</text>
<text x="429.30" y="299.23" textLength="11.31" lengthAdjust="spacingAndGlyphs">1.4</text>
<text x="429.30" y="308.88" textLength="11.31" lengthAdjust="spacingAndGlyphs">1.5</text>
<text x="455.00" y="308.88" textLength="6.33" lengthAdjust="spacingAndGlyphs">.7</text>
<text x="429.30" y="318.53" textLength="11.31" lengthAdjust="spacingAndGlyphs">1.5</text>
<text x="455.00" y="318.53" textLength="6.33" lengthAdjust="spacingAndGlyphs">.7</text>
<text x="429.30" y="328.18" textLength="11.31" lengthAdjust="spacingAndGlyphs">1.5</text>
<text x="455.00" y="328.18" textLength="6.33" lengthAdjust="spacingAndGlyphs">.7</text>
<text x="429.30" y="337.82" textLength="11.31" lengthAdjust="spacingAndGlyphs">1.6</text>
<text x="429.30" y="347.47" textLength="11.31" lengthAdjust="spacingAndGlyphs">1.5</text>
<text x="429.30" y="357.12" textLength="11.31" lengthAdjust="spacingAndGlyphs">1.6</text>
<text x="429.30" y="366.77" textLength="11.31" lengthAdjust="spacingAndGlyphs">1.6</text>
<text x="429.30" y="376.42" textLength="11.31" lengthAdjust="spacingAndGlyphs">1.7</text>
<text x="455.00" y="376.42" textLength="6.42" lengthAdjust="spacingAndGlyphs">.2</text>
<text x="429.30" y="386.06" textLength="11.31" lengthAdjust="spacingAndGlyphs">1.7</text>
<text x="455.00" y="386.06" textLength="6.42" lengthAdjust="spacingAndGlyphs">.2</text>
<text x="429.30" y="395.71" textLength="11.31" lengthAdjust="spacingAndGlyphs">1.8</text>
<text x="455.00" y="395.71" textLength="6.39" lengthAdjust="spacingAndGlyphs">.8</text>
<text x="429.30" y="405.36" textLength="11.31" lengthAdjust="spacingAndGlyphs">1.8</text>
<text x="455.00" y="405.36" textLength="6.39" lengthAdjust="spacingAndGlyphs">.8</text>
<text x="429.30" y="415.01" textLength="11.31" lengthAdjust="spacingAndGlyphs">1.8</text>
<text x="455.00" y="415.01" textLength="6.39" lengthAdjust="spacingAndGlyphs">.8</text>
<text x="429.30" y="424.66" textLength="11.31" lengthAdjust="spacingAndGlyphs">1.8</text>
<text x="455.00" y="424.66" textLength="6.39" lengthAdjust="spacingAndGlyphs">.8</text>
<text x="429.30" y="434.30" textLength="11.31" lengthAdjust="spacingAndGlyphs">2.0</text>
<text x="429.30" y="443.95" textLength="11.31" lengthAdjust="spacingAndGlyphs">2.0</text>
<text x="429.30" y="453.60" textLength="11.31" lengthAdjust="spacingAndGlyphs">2.0</text>
<text x="429.30" y="463.25" textLength="11.31" lengthAdjust="spacingAndGlyphs">2.2</text>
<text x="429.30" y="472.90" textLength="11.31" lengthAdjust="spacingAndGlyphs">2.2</text>
<text x="429.30" y="482.54" textLength="11.31" lengthAdjust="spacingAndGlyphs">1.6</text>
<text x="455.00" y="482.54" textLength="6.34" lengthAdjust="spacingAndGlyphs">.4</text>
<text x="429.30" y="492.19" textLength="11.31" lengthAdjust="spacingAndGlyphs">1.6</text>
<text x="455.00" y="492.19" textLength="6.34" lengthAdjust="spacingAndGlyphs">.4</text>
<text x="429.30" y="501.84" textLength="11.31" lengthAdjust="spacingAndGlyphs">1.7</text>
<text x="455.00" y="501.84" textLength="6.39" lengthAdjust="spacingAndGlyphs">.8</text>
<text x="429.30" y="511.49" textLength="11.31" lengthAdjust="spacingAndGlyphs">1.7</text>
<text x="455.00" y="511.49" textLength="6.39" lengthAdjust="spacingAndGlyphs">.8</text>
<text x="429.30" y="521.14" textLength="11.31" lengthAdjust="spacingAndGlyphs">1.8</text>
<text x="455.00" y="521.14" textLength="6.39" lengthAdjust="spacingAndGlyphs">.8</text>
<text x="429.30" y="530.78" textLength="11.31" lengthAdjust="spacingAndGlyphs">1.8</text>
<text x="455.00" y="530.78" textLength="6.39" lengthAdjust="spacingAndGlyphs">.8</text>
<text x="429.30" y="540.43" textLength="11.31" lengthAdjust="spacingAndGlyphs">1.8</text>
<text x="455.00" y="540.43" textLength="6.39" lengthAdjust="spacingAndGlyphs">.8</text>
<text x="429.30" y="550.08" textLength="11.31" lengthAdjust="spacingAndGlyphs">1.8</text>
<text x="455.00" y="550.08" textLength="6.39" lengthAdjust="spacingAndGlyphs">.8</text>
<text x="429.30" y="559.73" textLength="11.31" lengthAdjust="spacingAndGlyphs">2.0</text>
<text x="429.30" y="569.38" textLength="11.31" lengthAdjust="spacingAndGlyphs">2.0</text>
<text x="429.30" y="579.02" textLength="11.31" lengthAdjust="spacingAndGlyphs">2.0</text>
<text x="429.30" y="588.67" textLength="11.31" lengthAdjust="spacingAndGlyphs">2.2</text>
<text x="455.00" y="588.67" textLength="6.21" lengthAdjust="spacingAndGlyphs">.4</text>
<text x="429.30" y="598.32" textLength="11.31" lengthAdjust="spacingAndGlyphs">2.2</text>
<text x="455.00" y="598.32" textLength="6.21" lengthAdjust="spacingAndGlyphs">.4</text>
<text x="429.30" y="607.97" textLength="11.31" lengthAdjust="spacingAndGlyphs">2.2</text>
<text x="455.00" y="607.97" textLength="6.21" lengthAdjust="spacingAndGlyphs">.4</text>
<text x="429.30" y="617.62" textLength="11.31" lengthAdjust="spacingAndGlyphs">1.7</text>
<text x="455.00" y="617.62" textLength="6.39" lengthAdjust="spacingAndGlyphs">.8</text>
<text x="429.30" y="627.26" textLength="11.31" lengthAdjust="spacingAndGlyphs">1.8</text>
<text x="455.00" y="627.26" textLength="6.39" lengthAdjust="spacingAndGlyphs">.3</text>
<text x="429.30" y="636.91" textLength="11.31" lengthAdjust="spacingAndGlyphs">1.8</text>
<text x="455.00" y="636.91" textLength="6.39" lengthAdjust="spacingAndGlyphs">.3</text>
<text x="429.30" y="646.56" textLength="11.31" lengthAdjust="spacingAndGlyphs">1.8</text>
<text x="455.00" y="646.56" textLength="6.39" lengthAdjust="spacingAndGlyphs">.3</text>
<text x="429.30" y="656.21" textLength="11.31" lengthAdjust="spacingAndGlyphs">2.0</text>
<text x="429.30" y="665.86" textLength="11.31" lengthAdjust="spacingAndGlyphs">2.0</text>
<text x="429.30" y="675.50" textLength="11.31" lengthAdjust="spacingAndGlyphs">2.0</text>
<text x="429.30" y="685.15" textLength="11.31" lengthAdjust="spacingAndGlyphs">2.0</text>
<text x="429.30" y="694.80" textLength="11.31" lengthAdjust="spacingAndGlyphs">2.2</text>
<text x="455.00" y="694.80" textLength="6.30" lengthAdjust="spacingAndGlyphs">.6</text>
<text x="429.30" y="704.45" textLength="11.31" lengthAdjust="spacingAndGlyphs">2.2</text>
<text x="455.00" y="704.45" textLength="6.30" lengthAdjust="spacingAndGlyphs">.6</text>
<text x="429.30" y="714.10" textLength="11.31" lengthAdjust="spacingAndGlyphs">2.2</text>
<text x="455.00" y="714.10" textLength="6.30" lengthAdjust="spacingAndGlyphs">.6</text>
<text x="429.30" y="723.74" textLength="11.31" lengthAdjust="spacingAndGlyphs">2.2</text>
<text x="455.00" y="723.74" textLength="6.30" lengthAdjust="spacingAndGlyphs">.6</text>
<text x="429.30" y="733.39" textLength="11.31" lengthAdjust="spacingAndGlyphs">2.3</text>
<text x="455.00" y="733.39" textLength="6.26" lengthAdjust="spacingAndGlyphs">.5</text>
<text x="429.30" y="743.04" textLength="11.31" lengthAdjust="spacingAndGlyphs">2.3</text>
<text x="455.00" y="743.04" textLength="6.26" lengthAdjust="spacingAndGlyphs">.5</text>
<text x="429.30" y="752.69" textLength="11.31" lengthAdjust="spacingAndGlyphs">2.1</text>
<text x="429.30" y="762.34" textLength="11.31" lengthAdjust="spacingAndGlyphs">2.1</text>
<text x="429.30" y="771.98" textLength="11.31" lengthAdjust="spacingAndGlyphs">2.3</text>
<text x="429.30" y="781.63" textLength="11.31" lengthAdjust="spacingAndGlyphs">2.3</text>
<text x="429.30" y="791.28" textLength="11.31" lengthAdjust="spacingAndGlyphs">2.3</text>
<text x="429.30" y="800.93" textLength="11.31" lengthAdjust="spacingAndGlyphs">2.3</text>
<text x="429.30" y="810.58" textLength="11.31" lengthAdjust="spacingAndGlyphs">2.5</text>
<text x="429.30" y="820.22" textLength="11.31" lengthAdjust="spacingAndGlyphs">2.5</text>
<text x="429.30" y="829.87" textLength="11.31" lengthAdjust="spacingAndGlyphs">2.6</text>
<text x="455.00" y="829.87" textLength="6.26" lengthAdjust="spacingAndGlyphs">.5</text>
<text x="429.30" y="839.52" textLength="11.31" lengthAdjust="spacingAndGlyphs">2.6</text>
<text x="455.00" y="839.52" textLength="6.26" lengthAdjust="spacingAndGlyphs">.5</text>
<text x="429.30" y="849.17" textLength="11.31" lengthAdjust="spacingAndGlyphs">2.8</text>
<text x="455.00" y="849.17" textLength="6.23" lengthAdjust="spacingAndGlyphs">.7</text>
<text x="429.30" y="858.82" textLength="11.31" lengthAdjust="spacingAndGlyphs">2.8</text>
<text x="455.00" y="858.82" textLength="6.23" lengthAdjust="spacingAndGlyphs">.7</text>
</g>
<g font-size="9.80" fill="#141414" stroke="#141414" stroke-width="0.38" text-anchor="end">
<text x="455.00" y="212.40" textLength="4.36" lengthAdjust="spacingAndGlyphs">8</text>
<text x="478.40" y="212.40" textLength="4.63" lengthAdjust="spacingAndGlyphs">6</text>
<text x="500.90" y="212.40" textLength="11.17" lengthAdjust="spacingAndGlyphs">5.9</text>
<text x="518.00" y="212.40" textLength="11.17" lengthAdjust="spacingAndGlyphs">0.6</text>
<text x="455.00" y="222.05" textLength="4.36" lengthAdjust="spacingAndGlyphs">8</text>
<text x="478.40" y="222.05" textLength="4.63" lengthAdjust="spacingAndGlyphs">8</text>
<text x="500.90" y="222.05" textLength="11.17" lengthAdjust="spacingAndGlyphs">7.8</text>
<text x="518.00" y="222.05" textLength="11.17" lengthAdjust="spacingAndGlyphs">0.8</text>
<text x="455.00" y="231.70" textLength="8.72" lengthAdjust="spacingAndGlyphs">10</text>
<text x="478.40" y="231.70" textLength="9.27" lengthAdjust="spacingAndGlyphs">10</text>
<text x="500.90" y="231.70" textLength="11.17" lengthAdjust="spacingAndGlyphs">9.8</text>
<text x="518.00" y="231.70" textLength="11.17" lengthAdjust="spacingAndGlyphs">1.0</text>
<text x="455.00" y="241.34" textLength="8.72" lengthAdjust="spacingAndGlyphs">10</text>
<text x="478.40" y="241.34" textLength="9.27" lengthAdjust="spacingAndGlyphs">12</text>
<text x="500.90" y="241.34" textLength="15.64" lengthAdjust="spacingAndGlyphs">11.8</text>
<text x="518.00" y="241.34" textLength="11.17" lengthAdjust="spacingAndGlyphs">1.2</text>
<text x="455.00" y="250.99" textLength="8.72" lengthAdjust="spacingAndGlyphs">10</text>
<text x="478.40" y="250.99" textLength="9.27" lengthAdjust="spacingAndGlyphs">14</text>
<text x="500.90" y="250.99" textLength="15.64" lengthAdjust="spacingAndGlyphs">13.7</text>
<text x="518.00" y="250.99" textLength="11.17" lengthAdjust="spacingAndGlyphs">1.4</text>
<text x="455.00" y="260.64" textLength="8.72" lengthAdjust="spacingAndGlyphs">10</text>
<text x="478.40" y="260.64" textLength="9.27" lengthAdjust="spacingAndGlyphs">16</text>
<text x="500.90" y="260.64" textLength="15.64" lengthAdjust="spacingAndGlyphs">15.7</text>
<text x="518.00" y="260.64" textLength="11.17" lengthAdjust="spacingAndGlyphs">1.6</text>
<text x="455.00" y="270.29" textLength="8.72" lengthAdjust="spacingAndGlyphs">21</text>
<text x="478.40" y="270.29" textLength="9.27" lengthAdjust="spacingAndGlyphs">18</text>
<text x="500.90" y="270.29" textLength="15.64" lengthAdjust="spacingAndGlyphs">17.7</text>
<text x="518.00" y="270.29" textLength="11.17" lengthAdjust="spacingAndGlyphs">1.8</text>
<text x="455.00" y="279.94" textLength="8.72" lengthAdjust="spacingAndGlyphs">21</text>
<text x="478.40" y="279.94" textLength="9.27" lengthAdjust="spacingAndGlyphs">20</text>
<text x="500.90" y="279.94" textLength="15.64" lengthAdjust="spacingAndGlyphs">19.6</text>
<text x="518.00" y="279.94" textLength="11.17" lengthAdjust="spacingAndGlyphs">2.0</text>
<text x="455.00" y="289.58" textLength="8.72" lengthAdjust="spacingAndGlyphs">21</text>
<text x="478.40" y="289.58" textLength="9.27" lengthAdjust="spacingAndGlyphs">22</text>
<text x="500.90" y="289.58" textLength="15.64" lengthAdjust="spacingAndGlyphs">21.6</text>
<text x="518.00" y="289.58" textLength="11.17" lengthAdjust="spacingAndGlyphs">2.2</text>
<text x="455.00" y="299.23" textLength="8.72" lengthAdjust="spacingAndGlyphs">21</text>
<text x="478.40" y="299.23" textLength="9.27" lengthAdjust="spacingAndGlyphs">24</text>
<text x="500.90" y="299.23" textLength="15.64" lengthAdjust="spacingAndGlyphs">23.5</text>
<text x="518.00" y="299.23" textLength="11.17" lengthAdjust="spacingAndGlyphs">2.4</text>
<text x="455.00" y="308.88" textLength="8.44" lengthAdjust="spacingAndGlyphs">29</text>
<text x="478.40" y="308.88" textLength="9.27" lengthAdjust="spacingAndGlyphs">26</text>
<text x="500.90" y="308.88" textLength="15.64" lengthAdjust="spacingAndGlyphs">25.5</text>
<text x="518.00" y="308.88" textLength="11.17" lengthAdjust="spacingAndGlyphs">2.6</text>
<text x="455.00" y="318.53" textLength="8.44" lengthAdjust="spacingAndGlyphs">29</text>
<text x="478.40" y="318.53" textLength="9.27" lengthAdjust="spacingAndGlyphs">28</text>
<text x="500.90" y="318.53" textLength="15.64" lengthAdjust="spacingAndGlyphs">27.5</text>
<text x="518.00" y="318.53" textLength="11.17" lengthAdjust="spacingAndGlyphs">2.8</text>
<text x="455.00" y="328.18" textLength="8.44" lengthAdjust="spacingAndGlyphs">29</text>
<text x="478.40" y="328.18" textLength="9.27" lengthAdjust="spacingAndGlyphs">32</text>
<text x="500.90" y="328.18" textLength="15.64" lengthAdjust="spacingAndGlyphs">31.4</text>
<text x="518.00" y="328.18" textLength="11.17" lengthAdjust="spacingAndGlyphs">3.2</text>
<text x="455.00" y="337.82" textLength="8.72" lengthAdjust="spacingAndGlyphs">40</text>
<text x="478.40" y="337.82" textLength="9.27" lengthAdjust="spacingAndGlyphs">36</text>
<text x="500.90" y="337.82" textLength="15.64" lengthAdjust="spacingAndGlyphs">35.3</text>
<text x="518.00" y="337.82" textLength="11.17" lengthAdjust="spacingAndGlyphs">3.6</text>
<text x="455.00" y="347.47" textLength="8.72" lengthAdjust="spacingAndGlyphs">10</text>
<text x="478.40" y="347.47" textLength="4.63" lengthAdjust="spacingAndGlyphs">8</text>
<text x="500.90" y="347.47" textLength="15.64" lengthAdjust="spacingAndGlyphs">23.5</text>
<text x="518.00" y="347.47" textLength="11.17" lengthAdjust="spacingAndGlyphs">2.4</text>
<text x="455.00" y="357.12" textLength="8.72" lengthAdjust="spacingAndGlyphs">12</text>
<text x="478.40" y="357.12" textLength="9.27" lengthAdjust="spacingAndGlyphs">10</text>
<text x="500.90" y="357.12" textLength="15.64" lengthAdjust="spacingAndGlyphs">29.4</text>
<text x="518.00" y="357.12" textLength="11.17" lengthAdjust="spacingAndGlyphs">3.0</text>
<text x="455.00" y="366.77" textLength="8.72" lengthAdjust="spacingAndGlyphs">12</text>
<text x="478.40" y="366.77" textLength="9.27" lengthAdjust="spacingAndGlyphs">12</text>
<text x="500.90" y="366.77" textLength="15.64" lengthAdjust="spacingAndGlyphs">35.3</text>
<text x="518.00" y="366.77" textLength="11.17" lengthAdjust="spacingAndGlyphs">3.6</text>
<text x="455.00" y="376.42" textLength="8.56" lengthAdjust="spacingAndGlyphs">16</text>
<text x="478.40" y="376.42" textLength="9.27" lengthAdjust="spacingAndGlyphs">14</text>
<text x="500.90" y="376.42" textLength="15.64" lengthAdjust="spacingAndGlyphs">41.2</text>
<text x="518.00" y="376.42" textLength="11.17" lengthAdjust="spacingAndGlyphs">4.2</text>
<text x="455.00" y="386.06" textLength="8.56" lengthAdjust="spacingAndGlyphs">16</text>
<text x="478.40" y="386.06" textLength="9.27" lengthAdjust="spacingAndGlyphs">16</text>
<text x="500.90" y="386.06" textLength="15.64" lengthAdjust="spacingAndGlyphs">47.1</text>
<text x="518.00" y="386.06" textLength="11.17" lengthAdjust="spacingAndGlyphs">4.8</text>
<text x="455.00" y="395.71" textLength="8.52" lengthAdjust="spacingAndGlyphs">19</text>
<text x="478.40" y="395.71" textLength="9.27" lengthAdjust="spacingAndGlyphs">18</text>
<text x="500.90" y="395.71" textLength="15.64" lengthAdjust="spacingAndGlyphs">53.0</text>
<text x="518.00" y="395.71" textLength="11.17" lengthAdjust="spacingAndGlyphs">5.4</text>
<text x="455.00" y="405.36" textLength="8.52" lengthAdjust="spacingAndGlyphs">19</text>
<text x="478.40" y="405.36" textLength="9.27" lengthAdjust="spacingAndGlyphs">20</text>
<text x="500.90" y="405.36" textLength="15.64" lengthAdjust="spacingAndGlyphs">58.8</text>
<text x="518.00" y="405.36" textLength="11.17" lengthAdjust="spacingAndGlyphs">6.0</text>
<text x="455.00" y="415.01" textLength="8.52" lengthAdjust="spacingAndGlyphs">19</text>
<text x="478.40" y="415.01" textLength="9.27" lengthAdjust="spacingAndGlyphs">22</text>
<text x="500.90" y="415.01" textLength="15.64" lengthAdjust="spacingAndGlyphs">64.7</text>
<text x="518.00" y="415.01" textLength="11.17" lengthAdjust="spacingAndGlyphs">6.6</text>
<text x="455.00" y="424.66" textLength="8.52" lengthAdjust="spacingAndGlyphs">19</text>
<text x="478.40" y="424.66" textLength="9.27" lengthAdjust="spacingAndGlyphs">24</text>
<text x="500.90" y="424.66" textLength="15.64" lengthAdjust="spacingAndGlyphs">70.6</text>
<text x="518.00" y="424.66" textLength="11.17" lengthAdjust="spacingAndGlyphs">7.2</text>
<text x="455.00" y="434.30" textLength="8.72" lengthAdjust="spacingAndGlyphs">32</text>
<text x="478.40" y="434.30" textLength="9.27" lengthAdjust="spacingAndGlyphs">26</text>
<text x="500.90" y="434.30" textLength="15.64" lengthAdjust="spacingAndGlyphs">76.5</text>
<text x="518.00" y="434.30" textLength="11.17" lengthAdjust="spacingAndGlyphs">7.8</text>
<text x="455.00" y="443.95" textLength="8.72" lengthAdjust="spacingAndGlyphs">32</text>
<text x="478.40" y="443.95" textLength="9.27" lengthAdjust="spacingAndGlyphs">28</text>
<text x="500.90" y="443.95" textLength="15.64" lengthAdjust="spacingAndGlyphs">82.4</text>
<text x="518.00" y="443.95" textLength="11.17" lengthAdjust="spacingAndGlyphs">8.4</text>
<text x="455.00" y="453.60" textLength="8.72" lengthAdjust="spacingAndGlyphs">32</text>
<text x="478.40" y="453.60" textLength="9.27" lengthAdjust="spacingAndGlyphs">32</text>
<text x="500.90" y="453.60" textLength="15.64" lengthAdjust="spacingAndGlyphs">94.1</text>
<text x="518.00" y="453.60" textLength="11.17" lengthAdjust="spacingAndGlyphs">9.6</text>
<text x="455.00" y="463.25" textLength="8.72" lengthAdjust="spacingAndGlyphs">43</text>
<text x="478.40" y="463.25" textLength="9.27" lengthAdjust="spacingAndGlyphs">36</text>
<text x="500.90" y="463.25" textLength="16.41" lengthAdjust="spacingAndGlyphs">105.9</text>
<text x="518.00" y="463.25" textLength="13.11" lengthAdjust="spacingAndGlyphs">10.8</text>
<text x="455.00" y="472.90" textLength="8.72" lengthAdjust="spacingAndGlyphs">43</text>
<text x="478.40" y="472.90" textLength="9.27" lengthAdjust="spacingAndGlyphs">40</text>
<text x="500.90" y="472.90" textLength="16.43" lengthAdjust="spacingAndGlyphs">117.7</text>
<text x="518.00" y="472.90" textLength="13.07" lengthAdjust="spacingAndGlyphs">12.0</text>
<text x="455.00" y="482.54" textLength="8.46" lengthAdjust="spacingAndGlyphs">10</text>
<text x="478.40" y="482.54" textLength="4.63" lengthAdjust="spacingAndGlyphs">8</text>
<text x="500.90" y="482.54" textLength="15.64" lengthAdjust="spacingAndGlyphs">23.5</text>
<text x="518.00" y="482.54" textLength="11.17" lengthAdjust="spacingAndGlyphs">2.4</text>
<text x="455.00" y="492.19" textLength="8.46" lengthAdjust="spacingAndGlyphs">10</text>
<text x="478.40" y="492.19" textLength="9.27" lengthAdjust="spacingAndGlyphs">10</text>
<text x="500.90" y="492.19" textLength="15.64" lengthAdjust="spacingAndGlyphs">29.4</text>
<text x="518.00" y="492.19" textLength="11.17" lengthAdjust="spacingAndGlyphs">3.0</text>
<text x="455.00" y="501.84" textLength="8.52" lengthAdjust="spacingAndGlyphs">12</text>
<text x="478.40" y="501.84" textLength="9.27" lengthAdjust="spacingAndGlyphs">12</text>
<text x="500.90" y="501.84" textLength="15.64" lengthAdjust="spacingAndGlyphs">35.3</text>
<text x="518.00" y="501.84" textLength="11.17" lengthAdjust="spacingAndGlyphs">3.6</text>
<text x="455.00" y="511.49" textLength="8.52" lengthAdjust="spacingAndGlyphs">12</text>
<text x="478.40" y="511.49" textLength="9.27" lengthAdjust="spacingAndGlyphs">14</text>
<text x="500.90" y="511.49" textLength="15.64" lengthAdjust="spacingAndGlyphs">41.2</text>
<text x="518.00" y="511.49" textLength="11.17" lengthAdjust="spacingAndGlyphs">4.2</text>
<text x="455.00" y="521.14" textLength="8.52" lengthAdjust="spacingAndGlyphs">15</text>
<text x="478.40" y="521.14" textLength="9.27" lengthAdjust="spacingAndGlyphs">16</text>
<text x="500.90" y="521.14" textLength="15.64" lengthAdjust="spacingAndGlyphs">47.1</text>
<text x="518.00" y="521.14" textLength="11.17" lengthAdjust="spacingAndGlyphs">4.8</text>
<text x="455.00" y="530.78" textLength="8.52" lengthAdjust="spacingAndGlyphs">15</text>
<text x="478.40" y="530.78" textLength="9.27" lengthAdjust="spacingAndGlyphs">18</text>
<text x="500.90" y="530.78" textLength="15.64" lengthAdjust="spacingAndGlyphs">53.0</text>
<text x="518.00" y="530.78" textLength="11.17" lengthAdjust="spacingAndGlyphs">5.4</text>
<text x="455.00" y="540.43" textLength="8.52" lengthAdjust="spacingAndGlyphs">15</text>
<text x="478.40" y="540.43" textLength="9.27" lengthAdjust="spacingAndGlyphs">20</text>
<text x="500.90" y="540.43" textLength="15.64" lengthAdjust="spacingAndGlyphs">58.8</text>
<text x="518.00" y="540.43" textLength="11.17" lengthAdjust="spacingAndGlyphs">6.0</text>
<text x="455.00" y="550.08" textLength="8.52" lengthAdjust="spacingAndGlyphs">15</text>
<text x="478.40" y="550.08" textLength="9.27" lengthAdjust="spacingAndGlyphs">22</text>
<text x="500.90" y="550.08" textLength="15.64" lengthAdjust="spacingAndGlyphs">64.7</text>
<text x="518.00" y="550.08" textLength="11.17" lengthAdjust="spacingAndGlyphs">6.6</text>
<text x="455.00" y="559.73" textLength="8.72" lengthAdjust="spacingAndGlyphs">24</text>
<text x="478.40" y="559.73" textLength="9.27" lengthAdjust="spacingAndGlyphs">24</text>
<text x="500.90" y="559.73" textLength="15.64" lengthAdjust="spacingAndGlyphs">70.6</text>
<text x="518.00" y="559.73" textLength="11.17" lengthAdjust="spacingAndGlyphs">7.2</text>
<text x="455.00" y="569.38" textLength="8.72" lengthAdjust="spacingAndGlyphs">24</text>
<text x="478.40" y="569.38" textLength="9.27" lengthAdjust="spacingAndGlyphs">26</text>
<text x="500.90" y="569.38" textLength="15.64" lengthAdjust="spacingAndGlyphs">76.5</text>
<text x="518.00" y="569.38" textLength="11.17" lengthAdjust="spacingAndGlyphs">7.8</text>
<text x="455.00" y="579.02" textLength="8.72" lengthAdjust="spacingAndGlyphs">24</text>
<text x="478.40" y="579.02" textLength="9.27" lengthAdjust="spacingAndGlyphs">28</text>
<text x="500.90" y="579.02" textLength="15.64" lengthAdjust="spacingAndGlyphs">82.4</text>
<text x="518.00" y="579.02" textLength="11.17" lengthAdjust="spacingAndGlyphs">8.4</text>
<text x="455.00" y="588.67" textLength="8.29" lengthAdjust="spacingAndGlyphs">37</text>
<text x="478.40" y="588.67" textLength="9.27" lengthAdjust="spacingAndGlyphs">32</text>
<text x="500.90" y="588.67" textLength="15.64" lengthAdjust="spacingAndGlyphs">94.1</text>
<text x="518.00" y="588.67" textLength="11.17" lengthAdjust="spacingAndGlyphs">9.6</text>
<text x="455.00" y="598.32" textLength="8.29" lengthAdjust="spacingAndGlyphs">37</text>
<text x="478.40" y="598.32" textLength="9.27" lengthAdjust="spacingAndGlyphs">36</text>
<text x="500.90" y="598.32" textLength="16.41" lengthAdjust="spacingAndGlyphs">105.9</text>
<text x="518.00" y="598.32" textLength="13.11" lengthAdjust="spacingAndGlyphs">10.8</text>
<text x="455.00" y="607.97" textLength="8.29" lengthAdjust="spacingAndGlyphs">37</text>
<text x="478.40" y="607.97" textLength="9.27" lengthAdjust="spacingAndGlyphs">40</text>
<text x="500.90" y="607.97" textLength="16.43" lengthAdjust="spacingAndGlyphs">117.7</text>
<text x="518.00" y="607.97" textLength="13.07" lengthAdjust="spacingAndGlyphs">12.0</text>
<text x="455.00" y="617.62" textLength="8.52" lengthAdjust="spacingAndGlyphs">10</text>
<text x="478.40" y="617.62" textLength="4.63" lengthAdjust="spacingAndGlyphs">8</text>
<text x="500.90" y="617.62" textLength="15.64" lengthAdjust="spacingAndGlyphs">23.5</text>
<text x="518.00" y="617.62" textLength="11.17" lengthAdjust="spacingAndGlyphs">2.4</text>
<text x="455.00" y="627.26" textLength="8.53" lengthAdjust="spacingAndGlyphs">13</text>
<text x="478.40" y="627.26" textLength="9.27" lengthAdjust="spacingAndGlyphs">10</text>
<text x="500.90" y="627.26" textLength="15.64" lengthAdjust="spacingAndGlyphs">29.4</text>
<text x="518.00" y="627.26" textLength="11.17" lengthAdjust="spacingAndGlyphs">3.0</text>
<text x="455.00" y="636.91" textLength="8.53" lengthAdjust="spacingAndGlyphs">13</text>
<text x="478.40" y="636.91" textLength="9.27" lengthAdjust="spacingAndGlyphs">12</text>
<text x="500.90" y="636.91" textLength="15.64" lengthAdjust="spacingAndGlyphs">35.3</text>
<text x="518.00" y="636.91" textLength="11.17" lengthAdjust="spacingAndGlyphs">3.6</text>
<text x="455.00" y="646.56" textLength="8.53" lengthAdjust="spacingAndGlyphs">13</text>
<text x="478.40" y="646.56" textLength="9.27" lengthAdjust="spacingAndGlyphs">14</text>
<text x="500.90" y="646.56" textLength="15.64" lengthAdjust="spacingAndGlyphs">41.2</text>
<text x="518.00" y="646.56" textLength="11.17" lengthAdjust="spacingAndGlyphs">4.2</text>
<text x="455.00" y="656.21" textLength="8.72" lengthAdjust="spacingAndGlyphs">20</text>
<text x="478.40" y="656.21" textLength="9.27" lengthAdjust="spacingAndGlyphs">16</text>
<text x="500.90" y="656.21" textLength="15.64" lengthAdjust="spacingAndGlyphs">47.1</text>
<text x="518.00" y="656.21" textLength="11.17" lengthAdjust="spacingAndGlyphs">4.8</text>
<text x="455.00" y="665.86" textLength="8.72" lengthAdjust="spacingAndGlyphs">20</text>
<text x="478.40" y="665.86" textLength="9.27" lengthAdjust="spacingAndGlyphs">18</text>
<text x="500.90" y="665.86" textLength="15.64" lengthAdjust="spacingAndGlyphs">53.0</text>
<text x="518.00" y="665.86" textLength="11.17" lengthAdjust="spacingAndGlyphs">5.4</text>
<text x="455.00" y="675.50" textLength="8.72" lengthAdjust="spacingAndGlyphs">20</text>
<text x="478.40" y="675.50" textLength="9.27" lengthAdjust="spacingAndGlyphs">20</text>
<text x="500.90" y="675.50" textLength="15.64" lengthAdjust="spacingAndGlyphs">58.8</text>
<text x="518.00" y="675.50" textLength="11.17" lengthAdjust="spacingAndGlyphs">6.0</text>
<text x="455.00" y="685.15" textLength="8.72" lengthAdjust="spacingAndGlyphs">20</text>
<text x="478.40" y="685.15" textLength="9.27" lengthAdjust="spacingAndGlyphs">22</text>
<text x="500.90" y="685.15" textLength="15.64" lengthAdjust="spacingAndGlyphs">64.7</text>
<text x="518.00" y="685.15" textLength="11.17" lengthAdjust="spacingAndGlyphs">6.6</text>
<text x="455.00" y="694.80" textLength="8.41" lengthAdjust="spacingAndGlyphs">28</text>
<text x="478.40" y="694.80" textLength="9.27" lengthAdjust="spacingAndGlyphs">24</text>
<text x="500.90" y="694.80" textLength="15.64" lengthAdjust="spacingAndGlyphs">70.6</text>
<text x="518.00" y="694.80" textLength="11.17" lengthAdjust="spacingAndGlyphs">7.2</text>
<text x="455.00" y="704.45" textLength="8.41" lengthAdjust="spacingAndGlyphs">28</text>
<text x="478.40" y="704.45" textLength="9.27" lengthAdjust="spacingAndGlyphs">26</text>
<text x="500.90" y="704.45" textLength="15.64" lengthAdjust="spacingAndGlyphs">76.5</text>
<text x="518.00" y="704.45" textLength="11.17" lengthAdjust="spacingAndGlyphs">7.8</text>
<text x="455.00" y="714.10" textLength="8.41" lengthAdjust="spacingAndGlyphs">28</text>
<text x="478.40" y="714.10" textLength="9.27" lengthAdjust="spacingAndGlyphs">28</text>
<text x="500.90" y="714.10" textLength="15.64" lengthAdjust="spacingAndGlyphs">82.4</text>
<text x="518.00" y="714.10" textLength="11.17" lengthAdjust="spacingAndGlyphs">8.4</text>
<text x="455.00" y="723.74" textLength="8.41" lengthAdjust="spacingAndGlyphs">28</text>
<text x="478.40" y="723.74" textLength="9.27" lengthAdjust="spacingAndGlyphs">32</text>
<text x="500.90" y="723.74" textLength="15.64" lengthAdjust="spacingAndGlyphs">94.1</text>
<text x="518.00" y="723.74" textLength="11.17" lengthAdjust="spacingAndGlyphs">9.6</text>
<text x="455.00" y="733.39" textLength="8.34" lengthAdjust="spacingAndGlyphs">34</text>
<text x="478.40" y="733.39" textLength="9.27" lengthAdjust="spacingAndGlyphs">36</text>
<text x="500.90" y="733.39" textLength="16.41" lengthAdjust="spacingAndGlyphs">105.9</text>
<text x="518.00" y="733.39" textLength="13.11" lengthAdjust="spacingAndGlyphs">10.8</text>
<text x="455.00" y="743.04" textLength="8.34" lengthAdjust="spacingAndGlyphs">34</text>
<text x="478.40" y="743.04" textLength="9.27" lengthAdjust="spacingAndGlyphs">40</text>
<text x="500.90" y="743.04" textLength="16.43" lengthAdjust="spacingAndGlyphs">117.7</text>
<text x="518.00" y="743.04" textLength="13.07" lengthAdjust="spacingAndGlyphs">12.0</text>
<text x="455.00" y="752.69" textLength="8.72" lengthAdjust="spacingAndGlyphs">14</text>
<text x="478.40" y="752.69" textLength="9.27" lengthAdjust="spacingAndGlyphs">12</text>
<text x="500.90" y="752.69" textLength="15.64" lengthAdjust="spacingAndGlyphs">35.3</text>
<text x="518.00" y="752.69" textLength="11.17" lengthAdjust="spacingAndGlyphs">3.6</text>
<text x="455.00" y="762.34" textLength="8.72" lengthAdjust="spacingAndGlyphs">14</text>
<text x="478.40" y="762.34" textLength="9.27" lengthAdjust="spacingAndGlyphs">14</text>
<text x="500.90" y="762.34" textLength="15.64" lengthAdjust="spacingAndGlyphs">41.2</text>
<text x="518.00" y="762.34" textLength="11.17" lengthAdjust="spacingAndGlyphs">4.2</text>
<text x="455.00" y="771.98" textLength="8.72" lengthAdjust="spacingAndGlyphs">19</text>
<text x="478.40" y="771.98" textLength="9.27" lengthAdjust="spacingAndGlyphs">16</text>
<text x="500.90" y="771.98" textLength="15.64" lengthAdjust="spacingAndGlyphs">47.1</text>
<text x="518.00" y="771.98" textLength="11.17" lengthAdjust="spacingAndGlyphs">4.8</text>
<text x="455.00" y="781.63" textLength="8.72" lengthAdjust="spacingAndGlyphs">19</text>
<text x="478.40" y="781.63" textLength="9.27" lengthAdjust="spacingAndGlyphs">18</text>
<text x="500.90" y="781.63" textLength="15.64" lengthAdjust="spacingAndGlyphs">53.0</text>
<text x="518.00" y="781.63" textLength="11.17" lengthAdjust="spacingAndGlyphs">5.4</text>
<text x="455.00" y="791.28" textLength="8.72" lengthAdjust="spacingAndGlyphs">19</text>
<text x="478.40" y="791.28" textLength="9.27" lengthAdjust="spacingAndGlyphs">20</text>
<text x="500.90" y="791.28" textLength="15.64" lengthAdjust="spacingAndGlyphs">58.8</text>
<text x="518.00" y="791.28" textLength="11.17" lengthAdjust="spacingAndGlyphs">6.0</text>
<text x="455.00" y="800.93" textLength="8.72" lengthAdjust="spacingAndGlyphs">19</text>
<text x="478.40" y="800.93" textLength="9.27" lengthAdjust="spacingAndGlyphs">22</text>
<text x="500.90" y="800.93" textLength="15.64" lengthAdjust="spacingAndGlyphs">64.7</text>
<text x="518.00" y="800.93" textLength="11.17" lengthAdjust="spacingAndGlyphs">6.6</text>
<text x="455.00" y="810.58" textLength="8.72" lengthAdjust="spacingAndGlyphs">28</text>
<text x="478.40" y="810.58" textLength="9.27" lengthAdjust="spacingAndGlyphs">24</text>
<text x="500.90" y="810.58" textLength="15.64" lengthAdjust="spacingAndGlyphs">70.6</text>
<text x="518.00" y="810.58" textLength="11.17" lengthAdjust="spacingAndGlyphs">7.2</text>
<text x="455.00" y="820.22" textLength="8.72" lengthAdjust="spacingAndGlyphs">28</text>
<text x="478.40" y="820.22" textLength="9.27" lengthAdjust="spacingAndGlyphs">26</text>
<text x="500.90" y="820.22" textLength="15.64" lengthAdjust="spacingAndGlyphs">76.5</text>
<text x="518.00" y="820.22" textLength="11.17" lengthAdjust="spacingAndGlyphs">7.8</text>
<text x="455.00" y="829.87" textLength="8.34" lengthAdjust="spacingAndGlyphs">34</text>
<text x="478.40" y="829.87" textLength="9.27" lengthAdjust="spacingAndGlyphs">28</text>
<text x="500.90" y="829.87" textLength="15.64" lengthAdjust="spacingAndGlyphs">82.4</text>
<text x="518.00" y="829.87" textLength="11.17" lengthAdjust="spacingAndGlyphs">8.4</text>
<text x="455.00" y="839.52" textLength="8.34" lengthAdjust="spacingAndGlyphs">34</text>
<text x="478.40" y="839.52" textLength="9.27" lengthAdjust="spacingAndGlyphs">32</text>
<text x="500.90" y="839.52" textLength="15.64" lengthAdjust="spacingAndGlyphs">94.1</text>
<text x="518.00" y="839.52" textLength="11.17" lengthAdjust="spacingAndGlyphs">9.6</text>
<text x="455.00" y="849.17" textLength="8.31" lengthAdjust="spacingAndGlyphs">46</text>
<text x="478.40" y="849.17" textLength="9.27" lengthAdjust="spacingAndGlyphs">36</text>
<text x="500.90" y="849.17" textLength="16.41" lengthAdjust="spacingAndGlyphs">105.9</text>
<text x="518.00" y="849.17" textLength="13.11" lengthAdjust="spacingAndGlyphs">10.8</text>
<text x="455.00" y="858.82" textLength="8.31" lengthAdjust="spacingAndGlyphs">46</text>
<text x="478.40" y="858.82" textLength="9.27" lengthAdjust="spacingAndGlyphs">40</text>
<text x="500.90" y="858.82" textLength="16.43" lengthAdjust="spacingAndGlyphs">117.7</text>
<text x="518.00" y="858.82" textLength="13.07" lengthAdjust="spacingAndGlyphs">12.0</text>
</g>
<path d="M502.80,205.40 q-0.6,3.8 0,7.6 M519.30,205.40 q0.6,3.8 0,7.6 M502.80,215.05 q-0.6,3.8 0,7.6 M519.30,215.05 q0.6,3.8 0,7.6 M502.80,224.70 q-0.6,3.8 0,7.6 M519.30,224.70 q0.6,3.8 0,7.6 M502.80,234.34 q-0.6,3.8 0,7.6 M519.30,234.34 q0.6,3.8 0,7.6 M502.80,243.99 q-0.6,3.8 0,7.6 M519.30,243.99 q0.6,3.8 0,7.6 M502.80,253.64 q-0.6,3.8 0,7.6 M519.30,253.64 q0.6,3.8 0,7.6 M502.80,263.29 q-0.6,3.8 0,7.6 M519.30,263.29 q0.6,3.8 0,7.6 M502.80,272.94 q-0.6,3.8 0,7.6 M519.30,272.94 q0.6,3.8 0,7.6 M502.80,282.58 q-0.6,3.8 0,7.6 M519.30,282.58 q0.6,3.8 0,7.6 M502.80,292.23 q-0.6,3.8 0,7.6 M519.30,292.23 q0.6,3.8 0,7.6 M502.80,301.88 q-0.6,3.8 0,7.6 M519.30,301.88 q0.6,3.8 0,7.6 M502.80,311.53 q-0.6,3.8 0,7.6 M519.30,311.53 q0.6,3.8 0,7.6 M502.80,321.18 q-0.6,3.8 0,7.6 M519.30,321.18 q0.6,3.8 0,7.6 M502.80,330.82 q-0.6,3.8 0,7.6 M519.30,330.82 q0.6,3.8 0,7.6 M502.80,340.47 q-0.6,3.8 0,7.6 M519.30,340.47 q0.6,3.8 0,7.6 M502.80,350.12 q-0.6,3.8 0,7.6 M519.30,350.12 q0.6,3.8 0,7.6 M502.80,359.77 q-0.6,3.8 0,7.6 M519.30,359.77 q0.6,3.8 0,7.6 M502.80,369.42 q-0.6,3.8 0,7.6 M519.30,369.42 q0.6,3.8 0,7.6 M502.80,379.06 q-0.6,3.8 0,7.6 M519.30,379.06 q0.6,3.8 0,7.6 M502.80,388.71 q-0.6,3.8 0,7.6 M519.30,388.71 q0.6,3.8 0,7.6 M502.80,398.36 q-0.6,3.8 0,7.6 M519.30,398.36 q0.6,3.8 0,7.6 M502.80,408.01 q-0.6,3.8 0,7.6 M519.30,408.01 q0.6,3.8 0,7.6 M502.80,417.66 q-0.6,3.8 0,7.6 M519.30,417.66 q0.6,3.8 0,7.6 M502.80,427.30 q-0.6,3.8 0,7.6 M519.30,427.30 q0.6,3.8 0,7.6 M502.80,436.95 q-0.6,3.8 0,7.6 M519.30,436.95 q0.6,3.8 0,7.6 M502.80,446.60 q-0.6,3.8 0,7.6 M519.30,446.60 q0.6,3.8 0,7.6 M502.80,456.25 q-0.6,3.8 0,7.6 M519.30,456.25 q0.6,3.8 0,7.6 M502.80,465.90 q-0.6,3.8 0,7.6 M519.30,465.90 q0.6,3.8 0,7.6 M502.80,475.54 q-0.6,3.8 0,7.6 M519.30,475.54 q0.6,3.8 0,7.6 M502.80,485.19 q-0.6,3.8 0,7.6 M519.30,485.19 q0.6,3.8 0,7.6 M502.80,494.84 q-0.6,3.8 0,7.6 M519.30,494.84 q0.6,3.8 0,7.6 M502.80,504.49 q-0.6,3.8 0,7.6 M519.30,504.49 q0.6,3.8 0,7.6 M502.80,514.14 q-0.6,3.8 0,7.6 M519.30,514.14 q0.6,3.8 0,7.6 M502.80,523.78 q-0.6,3.8 0,7.6 M519.30,523.78 q0.6,3.8 0,7.6 M502.80,533.43 q-0.6,3.8 0,7.6 M519.30,533.43 q0.6,3.8 0,7.6 M502.80,543.08 q-0.6,3.8 0,7.6 M519.30,543.08 q0.6,3.8 0,7.6 M502.80,552.73 q-0.6,3.8 0,7.6 M519.30,552.73 q0.6,3.8 0,7.6 M502.80,562.38 q-0.6,3.8 0,7.6 M519.30,562.38 q0.6,3.8 0,7.6 M502.80,572.02 q-0.6,3.8 0,7.6 M519.30,572.02 q0.6,3.8 0,7.6 M502.80,581.67 q-0.6,3.8 0,7.6 M519.30,581.67 q0.6,3.8 0,7.6 M502.80,591.32 q-0.6,3.8 0,7.6 M519.30,591.32 q0.6,3.8 0,7.6 M502.80,600.97 q-0.6,3.8 0,7.6 M519.30,600.97 q0.6,3.8 0,7.6 M502.80,610.62 q-0.6,3.8 0,7.6 M519.30,610.62 q0.6,3.8 0,7.6 M502.80,620.26 q-0.6,3.8 0,7.6 M519.30,620.26 q0.6,3.8 0,7.6 M502.80,629.91 q-0.6,3.8 0,7.6 M519.30,629.91 q0.6,3.8 0,7.6 M502.80,639.56 q-0.6,3.8 0,7.6 M519.30,639.56 q0.6,3.8 0,7.6 M502.80,649.21 q-0.6,3.8 0,7.6 M519.30,649.21 q0.6,3.8 0,7.6 M502.80,658.86 q-0.6,3.8 0,7.6 M519.30,658.86 q0.6,3.8 0,7.6 M502.80,668.50 q-0.6,3.8 0,7.6 M519.30,668.50 q0.6,3.8 0,7.6 M502.80,678.15 q-0.6,3.8 0,7.6 M519.30,678.15 q0.6,3.8 0,7.6 M502.80,687.80 q-0.6,3.8 0,7.6 M519.30,687.80 q0.6,3.8 0,7.6 M502.80,697.45 q-0.6,3.8 0,7.6 M519.30,697.45 q0.6,3.8 0,7.6 M502.80,707.10 q-0.6,3.8 0,7.6 M519.30,707.10 q0.6,3.8 0,7.6 M502.80,716.74 q-0.6,3.8 0,7.6 M519.30,716.74 q0.6,3.8 0,7.6 M502.80,726.39 q-0.6,3.8 0,7.6 M519.30,726.39 q0.6,3.8 0,7.6 M502.80,736.04 q-0.6,3.8 0,7.6 M519.30,736.04 q0.6,3.8 0,7.6 M502.80,745.69 q-0.6,3.8 0,7.6 M519.30,745.69 q0.6,3.8 0,7.6 M502.80,755.34 q-0.6,3.8 0,7.6 M519.30,755.34 q0.6,3.8 0,7.6 M502.80,764.98 q-0.6,3.8 0,7.6 M519.30,764.98 q0.6,3.8 0,7.6 M502.80,774.63 q-0.6,3.8 0,7.6 M519.30,774.63 q0.6,3.8 0,7.6 M502.80,784.28 q-0.6,3.8 0,7.6 M519.30,784.28 q0.6,3.8 0,7.6 M502.80,793.93 q-0.6,3.8 0,7.6 M519.30,793.93 q0.6,3.8 0,7.6 M502.80,803.58 q-0.6,3.8 0,7.6 M519.30,803.58 q0.6,3.8 0,7.6 M502.80,813.22 q-0.6,3.8 0,7.6 M519.30,813.22 q0.6,3.8 0,7.6 M502.80,822.87 q-0.6,3.8 0,7.6 M519.30,822.87 q0.6,3.8 0,7.6 M502.80,832.52 q-0.6,3.8 0,7.6 M519.30,832.52 q0.6,3.8 0,7.6 M502.80,842.17 q-0.6,3.8 0,7.6 M519.30,842.17 q0.6,3.8 0,7.6 M502.80,851.82 q-0.6,3.8 0,7.6 M519.30,851.82 q0.6,3.8 0,7.6" stroke="#4a4a4a" stroke-width="0.7" fill="none"/>
<g font-size="9.00" fill="#2a8bd3" stroke="#2a8bd3" stroke-width="0.25" font-weight="bold">
<text x="533.69" y="212.40" textLength="18.24" lengthAdjust="spacingAndGlyphs">WL16</text>
<text x="533.69" y="347.47" textLength="18.24" lengthAdjust="spacingAndGlyphs">WL18</text>
<text x="533.69" y="482.54" textLength="18.24" lengthAdjust="spacingAndGlyphs">WL20</text>
<text x="533.69" y="617.62" textLength="18.24" lengthAdjust="spacingAndGlyphs">WL22</text>
<text x="533.69" y="752.69" textLength="18.24" lengthAdjust="spacingAndGlyphs">WL27</text>
</g>
<path d="M553.00,209.30 H559.40 M553.00,344.37 H559.40 M553.00,479.44 H559.40 M553.00,614.52 H559.40 M553.00,749.59 H559.40" stroke="#6aaae0" stroke-width="1.0" fill="none"/>
<g font-size="8.80" fill="#2a8bd3" stroke="#2a8bd3" stroke-width="0.3" font-weight="bold" text-anchor="end">
<text x="568.10" y="212.40" textLength="7.54" lengthAdjust="spacingAndGlyphs">15</text>
<text x="568.10" y="222.05" textLength="7.54" lengthAdjust="spacingAndGlyphs">20</text>
<text x="568.10" y="231.70" textLength="7.54" lengthAdjust="spacingAndGlyphs">25</text>
<text x="568.10" y="241.34" textLength="7.54" lengthAdjust="spacingAndGlyphs">30</text>
<text x="568.10" y="250.99" textLength="7.54" lengthAdjust="spacingAndGlyphs">35</text>
<text x="568.10" y="260.64" textLength="7.54" lengthAdjust="spacingAndGlyphs">40</text>
<text x="568.10" y="270.29" textLength="7.54" lengthAdjust="spacingAndGlyphs">45</text>
<text x="568.10" y="279.94" textLength="7.54" lengthAdjust="spacingAndGlyphs">50</text>
<text x="568.10" y="289.58" textLength="7.54" lengthAdjust="spacingAndGlyphs">55</text>
<text x="568.10" y="299.23" textLength="7.54" lengthAdjust="spacingAndGlyphs">60</text>
<text x="568.10" y="308.88" textLength="7.54" lengthAdjust="spacingAndGlyphs">65</text>
<text x="568.10" y="318.53" textLength="7.54" lengthAdjust="spacingAndGlyphs">70</text>
<text x="568.10" y="328.18" textLength="7.54" lengthAdjust="spacingAndGlyphs">80</text>
<text x="568.10" y="337.82" textLength="7.54" lengthAdjust="spacingAndGlyphs">90</text>
<text x="568.10" y="347.47" textLength="7.54" lengthAdjust="spacingAndGlyphs">20</text>
<text x="568.10" y="357.12" textLength="7.54" lengthAdjust="spacingAndGlyphs">25</text>
<text x="568.10" y="366.77" textLength="7.54" lengthAdjust="spacingAndGlyphs">30</text>
<text x="568.10" y="376.42" textLength="7.54" lengthAdjust="spacingAndGlyphs">35</text>
<text x="568.10" y="386.06" textLength="7.54" lengthAdjust="spacingAndGlyphs">40</text>
<text x="568.10" y="395.71" textLength="7.54" lengthAdjust="spacingAndGlyphs">45</text>
<text x="568.10" y="405.36" textLength="7.54" lengthAdjust="spacingAndGlyphs">50</text>
<text x="568.10" y="415.01" textLength="7.54" lengthAdjust="spacingAndGlyphs">55</text>
<text x="568.10" y="424.66" textLength="7.54" lengthAdjust="spacingAndGlyphs">60</text>
<text x="568.10" y="434.30" textLength="7.54" lengthAdjust="spacingAndGlyphs">65</text>
<text x="568.10" y="443.95" textLength="7.54" lengthAdjust="spacingAndGlyphs">70</text>
<text x="568.10" y="453.60" textLength="7.54" lengthAdjust="spacingAndGlyphs">80</text>
<text x="568.10" y="463.25" textLength="7.54" lengthAdjust="spacingAndGlyphs">90</text>
<text x="568.10" y="472.90" textLength="11.31" lengthAdjust="spacingAndGlyphs">100</text>
<text x="568.10" y="482.54" textLength="7.54" lengthAdjust="spacingAndGlyphs">20</text>
<text x="568.10" y="492.19" textLength="7.54" lengthAdjust="spacingAndGlyphs">25</text>
<text x="568.10" y="501.84" textLength="7.54" lengthAdjust="spacingAndGlyphs">30</text>
<text x="568.10" y="511.49" textLength="7.54" lengthAdjust="spacingAndGlyphs">35</text>
<text x="568.10" y="521.14" textLength="7.54" lengthAdjust="spacingAndGlyphs">40</text>
<text x="568.10" y="530.78" textLength="7.54" lengthAdjust="spacingAndGlyphs">45</text>
<text x="568.10" y="540.43" textLength="7.54" lengthAdjust="spacingAndGlyphs">50</text>
<text x="568.10" y="550.08" textLength="7.54" lengthAdjust="spacingAndGlyphs">55</text>
<text x="568.10" y="559.73" textLength="7.54" lengthAdjust="spacingAndGlyphs">60</text>
<text x="568.10" y="569.38" textLength="7.54" lengthAdjust="spacingAndGlyphs">65</text>
<text x="568.10" y="579.02" textLength="7.54" lengthAdjust="spacingAndGlyphs">70</text>
<text x="568.10" y="588.67" textLength="7.54" lengthAdjust="spacingAndGlyphs">80</text>
<text x="568.10" y="598.32" textLength="7.54" lengthAdjust="spacingAndGlyphs">90</text>
<text x="568.10" y="607.97" textLength="11.31" lengthAdjust="spacingAndGlyphs">100</text>
<text x="568.10" y="617.62" textLength="7.54" lengthAdjust="spacingAndGlyphs">20</text>
<text x="568.10" y="627.26" textLength="7.54" lengthAdjust="spacingAndGlyphs">25</text>
<text x="568.10" y="636.91" textLength="7.54" lengthAdjust="spacingAndGlyphs">30</text>
<text x="568.10" y="646.56" textLength="7.54" lengthAdjust="spacingAndGlyphs">35</text>
<text x="568.10" y="656.21" textLength="7.54" lengthAdjust="spacingAndGlyphs">40</text>
<text x="568.10" y="665.86" textLength="7.54" lengthAdjust="spacingAndGlyphs">45</text>
<text x="568.10" y="675.50" textLength="7.54" lengthAdjust="spacingAndGlyphs">50</text>
<text x="568.10" y="685.15" textLength="7.54" lengthAdjust="spacingAndGlyphs">55</text>
<text x="568.10" y="694.80" textLength="7.54" lengthAdjust="spacingAndGlyphs">60</text>
<text x="568.10" y="704.45" textLength="7.54" lengthAdjust="spacingAndGlyphs">65</text>
<text x="568.10" y="714.10" textLength="7.54" lengthAdjust="spacingAndGlyphs">70</text>
<text x="568.10" y="723.74" textLength="7.54" lengthAdjust="spacingAndGlyphs">80</text>
<text x="568.10" y="733.39" textLength="7.54" lengthAdjust="spacingAndGlyphs">90</text>
<text x="568.10" y="743.04" textLength="11.31" lengthAdjust="spacingAndGlyphs">100</text>
<text x="568.10" y="752.69" textLength="7.54" lengthAdjust="spacingAndGlyphs">30</text>
<text x="568.10" y="762.34" textLength="7.54" lengthAdjust="spacingAndGlyphs">35</text>
<text x="568.10" y="771.98" textLength="7.54" lengthAdjust="spacingAndGlyphs">40</text>
<text x="568.10" y="781.63" textLength="7.54" lengthAdjust="spacingAndGlyphs">45</text>
<text x="568.10" y="791.28" textLength="7.54" lengthAdjust="spacingAndGlyphs">50</text>
<text x="568.10" y="800.93" textLength="7.54" lengthAdjust="spacingAndGlyphs">55</text>
<text x="568.10" y="810.58" textLength="7.54" lengthAdjust="spacingAndGlyphs">60</text>
<text x="568.10" y="820.22" textLength="7.54" lengthAdjust="spacingAndGlyphs">65</text>
<text x="568.10" y="829.87" textLength="7.54" lengthAdjust="spacingAndGlyphs">70</text>
<text x="568.10" y="839.52" textLength="7.54" lengthAdjust="spacingAndGlyphs">80</text>
<text x="568.10" y="849.17" textLength="7.54" lengthAdjust="spacingAndGlyphs">90</text>
<text x="568.10" y="858.82" textLength="11.31" lengthAdjust="spacingAndGlyphs">100</text>
</g>
<path d="M205.30,503.80 V443.00 A8.70,8.70 0 0 1 222.70,443.00 V503.80 Z" fill="#fff" stroke="#cb6520" stroke-width="1.7"/>
<text x="0" y="0" font-size="13.2" font-weight="bold" fill="#cb6520" stroke="#cb6520" stroke-width="0.4" transform="translate(218.50 501.50) rotate(-90)" textLength="61" lengthAdjust="spacingAndGlyphs">Quotation</text>
<path d="M391.40,581.00 V520.15 A8.35,8.35 0 0 1 408.10,520.15 V581.00 Z" fill="#fff" stroke="#cb6520" stroke-width="1.7"/>
<text x="0" y="0" font-size="13.2" font-weight="bold" fill="#cb6520" stroke="#cb6520" stroke-width="0.4" transform="translate(404.25 578.70) rotate(-90)" textLength="61" lengthAdjust="spacingAndGlyphs">Quotation</text>
<path d="M577.30,525.80 V464.40 A8.60,8.60 0 0 1 594.50,464.40 V525.80 Z" fill="#fff" stroke="#cb6520" stroke-width="1.7"/>
<text x="0" y="0" font-size="13.2" font-weight="bold" fill="#cb6520" stroke="#cb6520" stroke-width="0.4" transform="translate(590.40 523.50) rotate(-90)" textLength="61" lengthAdjust="spacingAndGlyphs">Quotation</text>
<circle cx="57.9" cy="741.5" r="3.2" fill="#111"/>
<text x="61.73" y="744.30" font-size="8.00" fill="#1c1c1c" stroke="#1c1c1c" stroke-width="0.22" transform="matrix(0.7092 0 0 1 17.952 0)">Load calculation method:</text>
<text x="127.27" y="744.30" font-size="8.00" fill="#1c1c1c" stroke="#1c1c1c" stroke-width="0.22" transform="matrix(0.6617 0 0 1 43.060 0)">Load</text>
<rect x="139.60" y="740.00" width="5.80" height="0.90" fill="#1c1c1c"/>
<rect x="139.60" y="742.30" width="5.80" height="0.90" fill="#1c1c1c"/>
<text x="146.03" y="744.30" font-size="8.00" fill="#1c1c1c" stroke="#1c1c1c" stroke-width="0.22" transform="matrix(0.7522 0 0 1 36.178 0)">Spring constant</text>
<path d="M188.60,738.90 L194.00,744.30 M188.60,744.30 L194.00,738.90" stroke="#1c1c1c" stroke-width="0.80"/>
<text x="194.98" y="744.30" font-size="8.00" fill="#1c1c1c" stroke="#1c1c1c" stroke-width="0.22" transform="matrix(0.6396 0 0 1 70.278 0)">Deflection</text>
<text x="94.17" y="754.80" font-size="8.00" fill="#1c1c1c" stroke="#1c1c1c" stroke-width="0.22" transform="matrix(0.8673 0 0 1 12.496 0)">(SI units)</text>
<text x="125.67" y="754.80" font-size="8.00" fill="#1c1c1c" stroke="#1c1c1c" stroke-width="0.22" transform="matrix(0.8056 0 0 1 24.431 0)">N</text>
<rect x="130.40" y="750.50" width="5.20" height="0.90" fill="#1c1c1c"/>
<rect x="130.40" y="752.80" width="5.20" height="0.90" fill="#1c1c1c"/>
<text x="135.79" y="754.80" font-size="8.00" fill="#1c1c1c" stroke="#1c1c1c" stroke-width="0.22" transform="matrix(0.9233 0 0 1 10.412 0)">N/mm</text>
<path d="M155.60,749.30 L161.20,754.90 M155.60,754.90 L161.20,749.30" stroke="#1c1c1c" stroke-width="0.80"/>
<text x="161.68" y="754.80" font-size="8.00" fill="#1c1c1c" stroke="#1c1c1c" stroke-width="0.22" transform="matrix(0.7985 0 0 1 32.573 0)">Fmm</text>
<text x="126.17" y="762.60" font-size="8.00" fill="#1c1c1c" stroke="#1c1c1c" stroke-width="0.22" transform="matrix(0.7886 0 0 1 26.673 0)">kgf</text>
<rect x="135.40" y="758.30" width="5.40" height="0.90" fill="#1c1c1c"/>
<rect x="135.40" y="760.60" width="5.40" height="0.90" fill="#1c1c1c"/>
<text x="141.05" y="762.60" font-size="8.00" fill="#1c1c1c" stroke="#1c1c1c" stroke-width="0.22" transform="matrix(0.8268 0 0 1 24.426 0)">kgf/mm</text>
<path d="M162.80,757.10 L168.40,762.70 M162.80,762.70 L168.40,757.10" stroke="#1c1c1c" stroke-width="0.80"/>
<text x="168.43" y="762.60" font-size="8.00" fill="#1c1c1c" stroke="#1c1c1c" stroke-width="0.22" transform="matrix(0.8690 0 0 1 22.066 0)">Fmm</text>
<text x="126.44" y="770.40" font-size="8.00" fill="#1c1c1c" stroke="#1c1c1c" stroke-width="0.22" transform="matrix(0.7314 0 0 1 33.957 0)">(kgf</text>
<rect x="136.80" y="766.10" width="6.00" height="0.90" fill="#1c1c1c"/>
<rect x="136.80" y="768.40" width="6.00" height="0.90" fill="#1c1c1c"/>
<text x="142.93" y="770.40" font-size="8.00" fill="#1c1c1c" stroke="#1c1c1c" stroke-width="0.22" transform="matrix(0.8727 0 0 1 18.191 0)">N</text>
<path d="M148.00,764.90 L153.60,770.50 M148.00,770.50 L153.60,764.90" stroke="#1c1c1c" stroke-width="0.80"/>
<text x="154.31" y="770.40" font-size="8.00" fill="#1c1c1c" stroke="#1c1c1c" stroke-width="0.22" transform="matrix(0.9199 0 0 1 12.366 0)">0.101972)</text>
<circle cx="57.9" cy="779.10" r="3.3" fill="#fff" stroke="#ec8fbf" stroke-width="1.0"/>
<path d="M56.3,777.10 h3.2 l-1.0,2.2 h-1.2 Z M57.5,779.30 h0.8 v1.6 h1.2 v0.7 h-3.2 v-0.7 h1.2 Z" fill="#c2185f"/>
<text x="62.77" y="781.90" font-size="8.00" fill="#1c1c1c" stroke="#1c1c1c" stroke-width="0.22" transform="matrix(0.8024 0 0 1 12.406 0)">No grinding on either end of WL types marked with</text>
<path d="M210.70,777.10 L210.70,781.30 M212.52,778.15 L208.88,780.25 M212.52,780.25 L208.88,778.15" stroke="#333" stroke-width="1.2" fill="none"/>
<text x="213.44" y="781.90" font-size="8.00" fill="#1c1c1c" stroke="#1c1c1c" stroke-width="0.22" transform="matrix(1.3128 0 0 1 -66.769 0)">.</text>
<circle cx="57.9" cy="789.60" r="3.3" fill="#fff" stroke="#ec8fbf" stroke-width="1.0"/>
<path d="M56.3,787.60 h3.2 l-1.0,2.2 h-1.2 Z M57.5,789.80 h0.8 v1.6 h1.2 v0.7 h-3.2 v-0.7 h1.2 Z" fill="#c2185f"/>
<text x="63.16" y="792.40" font-size="8.00" fill="#1c1c1c" stroke="#1c1c1c" stroke-width="0.22" transform="matrix(0.7887 0 0 1 13.345 0)">The solid height values are for reference only.</text>
<text x="63.56" y="802.90" font-size="8.00" fill="#1c1c1c" stroke="#1c1c1c" stroke-width="0.22" transform="matrix(0.7885 0 0 1 13.441 0)">There may be some variation between lots.</text>
<circle cx="57.9" cy="810.80" r="3.3" fill="#fff" stroke="#ec8fbf" stroke-width="1.0"/>
<path d="M56.3,808.80 h3.2 l-1.0,2.2 h-1.2 Z M57.5,811.00 h0.8 v1.6 h1.2 v0.7 h-3.2 v-0.7 h1.2 Z" fill="#c2185f"/>
<text x="62.99" y="813.80" font-size="8.00" fill="#1c1c1c" stroke="#1c1c1c" stroke-width="0.22" transform="matrix(0.8128 0 0 1 11.794 0)">Operation count: 1 million</text>
<circle cx="57.9" cy="819.50" r="3.3" fill="#fff" stroke="#ec8fbf" stroke-width="1.0"/>
<path d="M56.3,817.50 h3.2 l-1.0,2.2 h-1.2 Z M57.5,819.70 h0.8 v1.6 h1.2 v0.7 h-3.2 v-0.7 h1.2 Z" fill="#c2185f"/>
<text x="62.82" y="822.50" font-size="7.80" fill="#1c1c1c" stroke="#1c1c1c" stroke-width="0.22" transform="matrix(0.6639 0 0 1 21.118 0)">Instructions and precautions for the use of coil springs</text>
<rect x="188.30" y="816.90" width="12.60" height="6.30" fill="#1a1a1a"/>
<path d="M191.5,818.2 h4.5 l-2.6,3.6 h4.8" stroke="#fff" stroke-width="0.9" fill="none"/>
<text x="202.67" y="822.50" font-size="7.80" font-weight="bold" fill="#1c1c1c" stroke="#1c1c1c" stroke-width="0.22" transform="matrix(0.6413 0 0 1 72.692 0)">P.1397</text>
<text x="20.90" y="895.00" font-size="13.80" font-weight="bold" fill="#0a0a0a" stroke="#0a0a0a" stroke-width="0.20" transform="matrix(0.8083 0 0 1 4.007 0)">1401</text>
</svg>
</body></html>
